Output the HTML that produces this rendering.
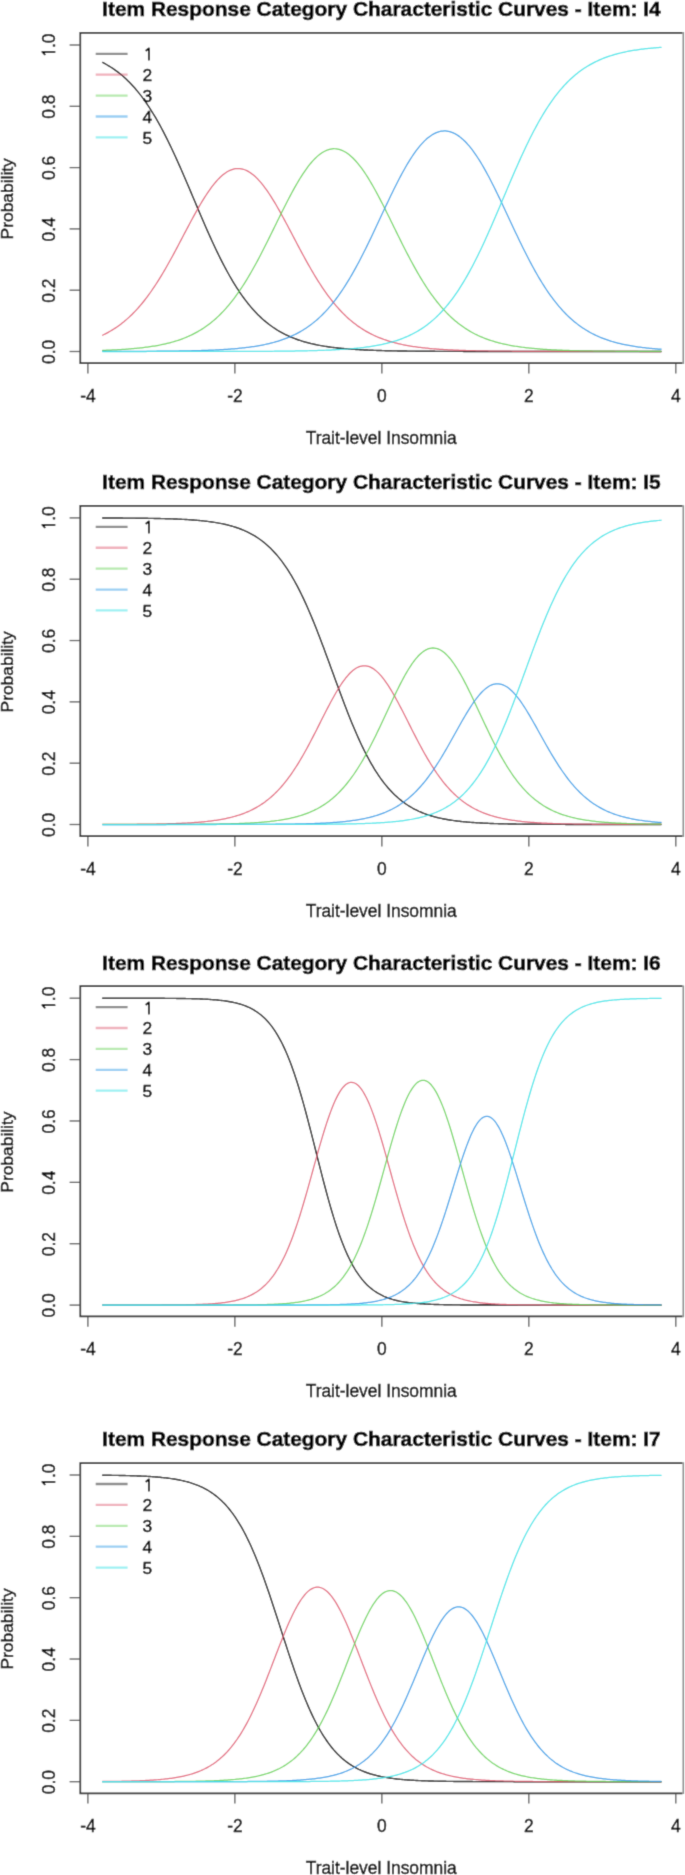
<!DOCTYPE html>
<html><head><meta charset="utf-8"><style>
html,body{margin:0;padding:0;background:#fff;}
body{width:685px;height:1875px;overflow:hidden;}
svg{display:block;}
text{font-family:"Liberation Sans",Arial,sans-serif;fill:#000;stroke:#000;stroke-width:0.4px;}
.tl{font-size:17.4px;}
.lt{stroke-width:0.45px;}
.one{font-family:NanumGothic,"Liberation Sans",sans-serif;font-size:16.2px;stroke-width:0.8px;}
.ti{font-size:20.9px;font-weight:bold;fill:#000;stroke:#000;stroke-width:0.6px;}
.cv{fill:none;stroke-width:1.25;stroke-linejoin:round;stroke-linecap:round;opacity:0.9}
.k{opacity:1;stroke-width:1.4}
.lg{stroke-width:2.3;opacity:0.45}
.ax{fill:none;stroke:#555;stroke-width:1.3;}
.bx{fill:none;stroke:#222;stroke-width:1.7;stroke-linejoin:miter}
.bxr{stroke:#888;stroke-width:1.6;}
</style></head><body>
<svg width="685" height="1875" viewBox="0 0 685 1875">
<defs><filter id="bl" x="0" y="0" width="1" height="1"><feConvolveMatrix order="3" kernelMatrix="0.01917 0.10012 0.01917 0.10012 0.52283 0.10012 0.01917 0.10012 0.01917" edgeMode="duplicate" preserveAlpha="false"/></filter></defs>
<g filter="url(#bl)">
<rect width="685" height="1875" fill="#fff"/>
<text transform="translate(381.4,16.20) scale(1,1.01)" class="ti" text-anchor="middle">Item Response Category Characteristic Curves - Item: I4</text>
<path d="M102.59,62.48 L103.99,63.21 L105.39,63.96 L106.79,64.75 L108.19,65.56 L109.59,66.40 L110.99,67.28 L112.39,68.19 L113.79,69.13 L115.19,70.11 L116.59,71.13 L117.99,72.18 L119.39,73.27 L120.79,74.40 L122.19,75.56 L123.59,76.77 L124.98,78.03 L126.38,79.32 L127.78,80.66 L129.18,82.04 L130.58,83.47 L131.98,84.95 L133.38,86.48 L134.78,88.05 L136.18,89.68 L137.58,91.35 L138.98,93.08 L140.38,94.85 L141.78,96.68 L143.18,98.57 L144.58,100.50 L145.98,102.50 L147.38,104.54 L148.78,106.64 L150.18,108.80 L151.58,111.01 L152.98,113.27 L154.38,115.59 L155.78,117.97 L157.18,120.40 L158.58,122.88 L159.98,125.42 L161.38,128.01 L162.78,130.65 L164.18,133.34 L165.58,136.08 L166.98,138.87 L168.38,141.71 L169.78,144.59 L171.18,147.52 L172.58,150.49 L173.98,153.50 L175.38,156.54 L176.78,159.63 L178.18,162.74 L179.58,165.89 L180.98,169.07 L182.38,172.27 L183.78,175.50 L185.18,178.75 L186.58,182.01 L187.98,185.30 L189.38,188.59 L190.78,191.89 L192.18,195.20 L193.58,198.51 L194.98,201.82 L196.38,205.13 L197.78,208.43 L199.17,211.72 L200.57,215.00 L201.97,218.26 L203.37,221.50 L204.77,224.73 L206.17,227.93 L207.57,231.10 L208.97,234.24 L210.37,237.36 L211.77,240.43 L213.17,243.48 L214.57,246.48 L215.97,249.44 L217.37,252.36 L218.77,255.24 L220.17,258.07 L221.57,260.85 L222.97,263.58 L224.37,266.27 L225.77,268.90 L227.17,271.48 L228.57,274.01 L229.97,276.48 L231.37,278.91 L232.77,281.27 L234.17,283.58 L235.57,285.84 L236.97,288.04 L238.37,290.19 L239.77,292.28 L241.17,294.32 L242.57,296.30 L243.97,298.23 L245.37,300.10 L246.77,301.93 L248.17,303.70 L249.57,305.41 L250.97,307.08 L252.37,308.70 L253.77,310.26 L255.17,311.78 L256.57,313.25 L257.97,314.67 L259.37,316.05 L260.77,317.38 L262.17,318.67 L263.57,319.92 L264.97,321.12 L266.37,322.28 L267.77,323.40 L269.17,324.49 L270.57,325.53 L271.96,326.54 L273.36,327.52 L274.76,328.45 L276.16,329.36 L277.56,330.23 L278.96,331.07 L280.36,331.88 L281.76,332.66 L283.16,333.41 L284.56,334.13 L285.96,334.82 L287.36,335.49 L288.76,336.13 L290.16,336.75 L291.56,337.35 L292.96,337.92 L294.36,338.47 L295.76,339.00 L297.16,339.51 L298.56,339.99 L299.96,340.46 L301.36,340.91 L302.76,341.35 L304.16,341.76 L305.56,342.16 L306.96,342.54 L308.36,342.91 L309.76,343.27 L311.16,343.61 L312.56,343.93 L313.96,344.24 L315.36,344.54 L316.76,344.83 L318.16,345.11 L319.56,345.37 L320.96,345.63 L322.36,345.87 L323.76,346.10 L325.16,346.33 L326.56,346.54 L327.96,346.75 L329.36,346.95 L330.76,347.14 L332.16,347.32 L333.56,347.49 L334.96,347.66 L336.36,347.82 L337.76,347.98 L339.16,348.12 L340.56,348.26 L341.96,348.40 L343.36,348.53 L344.76,348.65 L346.15,348.77 L347.55,348.89 L348.95,349.00 L350.35,349.10 L351.75,349.20 L353.15,349.30 L354.55,349.39 L355.95,349.48 L357.35,349.57 L358.75,349.65 L360.15,349.72 L361.55,349.80 L362.95,349.87 L364.35,349.94 L365.75,350.00 L367.15,350.07 L368.55,350.13 L369.95,350.19 L371.35,350.24 L372.75,350.29 L374.15,350.35 L375.55,350.39 L376.95,350.44 L378.35,350.49 L379.75,350.53 L381.15,350.57 L382.55,350.61 L383.95,350.65 L385.35,350.68 L386.75,350.72 L388.15,350.75 L389.55,350.78 L390.95,350.81 L392.35,350.84 L393.75,350.87 L395.15,350.89 L396.55,350.92 L397.95,350.94 L399.35,350.97 L400.75,350.99 L402.15,351.01 L403.55,351.03 L404.95,351.05 L406.35,351.07 L407.75,351.09 L409.15,351.11 L410.55,351.12 L411.95,351.14 L413.35,351.15 L414.75,351.17 L416.15,351.18 L417.55,351.20 L418.94,351.21 L420.34,351.22 L421.74,351.23 L423.14,351.24 L424.54,351.26 L425.94,351.27 L427.34,351.28 L428.74,351.29 L430.14,351.29 L431.54,351.30 L432.94,351.31 L434.34,351.32 L435.74,351.33 L437.14,351.33 L438.54,351.34 L439.94,351.35 L441.34,351.35 L442.74,351.36 L444.14,351.37 L445.54,351.37 L446.94,351.38 L448.34,351.38 L449.74,351.39 L451.14,351.39 L452.54,351.40 L453.94,351.40 L455.34,351.41 L456.74,351.41 L458.14,351.41 L459.54,351.42 L460.94,351.42 L462.34,351.42 L463.74,351.43 L465.14,351.43 L466.54,351.43 L467.94,351.44 L469.34,351.44 L470.74,351.44 L472.14,351.44 L473.54,351.45 L474.94,351.45 L476.34,351.45 L477.74,351.45 L479.14,351.45 L480.54,351.46 L481.94,351.46 L483.34,351.46 L484.74,351.46 L486.14,351.46 L487.54,351.46 L488.94,351.47 L490.34,351.47 L491.74,351.47 L493.13,351.47 L494.53,351.47 L495.93,351.47 L497.33,351.47 L498.73,351.48 L500.13,351.48 L501.53,351.48 L502.93,351.48 L504.33,351.48 L505.73,351.48 L507.13,351.48 L508.53,351.48 L509.93,351.48 L511.33,351.48 L512.73,351.48 L514.13,351.48 L515.53,351.49 L516.93,351.49 L518.33,351.49 L519.73,351.49 L521.13,351.49 L522.53,351.49 L523.93,351.49 L525.33,351.49 L526.73,351.49 L528.13,351.49 L529.53,351.49 L530.93,351.49 L532.33,351.49 L533.73,351.49 L535.13,351.49 L536.53,351.49 L537.93,351.49 L539.33,351.49 L540.73,351.49 L542.13,351.49 L543.53,351.49 L544.93,351.49 L546.33,351.49 L547.73,351.49 L549.13,351.49 L550.53,351.49 L551.93,351.50 L553.33,351.50 L554.73,351.50 L556.13,351.50 L557.53,351.50 L558.93,351.50 L560.33,351.50 L561.73,351.50 L563.13,351.50 L564.53,351.50 L565.92,351.50 L567.32,351.50 L568.72,351.50 L570.12,351.50 L571.52,351.50 L572.92,351.50 L574.32,351.50 L575.72,351.50 L577.12,351.50 L578.52,351.50 L579.92,351.50 L581.32,351.50 L582.72,351.50 L584.12,351.50 L585.52,351.50 L586.92,351.50 L588.32,351.50 L589.72,351.50 L591.12,351.50 L592.52,351.50 L593.92,351.50 L595.32,351.50 L596.72,351.50 L598.12,351.50 L599.52,351.50 L600.92,351.50 L602.32,351.50 L603.72,351.50 L605.12,351.50 L606.52,351.50 L607.92,351.50 L609.32,351.50 L610.72,351.50 L612.12,351.50 L613.52,351.50 L614.92,351.50 L616.32,351.50 L617.72,351.50 L619.12,351.50 L620.52,351.50 L621.92,351.50 L623.32,351.50 L624.72,351.50 L626.12,351.50 L627.52,351.50 L628.92,351.50 L630.32,351.50 L631.72,351.50 L633.12,351.50 L634.52,351.50 L635.92,351.50 L637.32,351.50 L638.72,351.50 L640.11,351.50 L641.51,351.50 L642.91,351.50 L644.31,351.50 L645.71,351.50 L647.11,351.50 L648.51,351.50 L649.91,351.50 L651.31,351.50 L652.71,351.50 L654.11,351.50 L655.51,351.50 L656.91,351.50 L658.31,351.50 L659.71,351.50 L661.11,351.50" stroke="#000000" class="cv k"/>
<path d="M102.59,335.19 L103.99,334.52 L105.39,333.82 L106.79,333.09 L108.19,332.34 L109.59,331.55 L110.99,330.74 L112.39,329.90 L113.79,329.03 L115.19,328.12 L116.59,327.18 L117.99,326.21 L119.39,325.20 L120.79,324.16 L122.19,323.08 L123.59,321.97 L124.98,320.81 L126.38,319.62 L127.78,318.39 L129.18,317.12 L130.58,315.80 L131.98,314.45 L133.38,313.05 L134.78,311.61 L136.18,310.12 L137.58,308.59 L138.98,307.01 L140.38,305.39 L141.78,303.73 L143.18,302.01 L144.58,300.25 L145.98,298.45 L147.38,296.59 L148.78,294.70 L150.18,292.75 L151.58,290.76 L152.98,288.72 L154.38,286.64 L155.78,284.51 L157.18,282.34 L158.58,280.13 L159.98,277.87 L161.38,275.58 L162.78,273.24 L164.18,270.87 L165.58,268.46 L166.98,266.01 L168.38,263.53 L169.78,261.03 L171.18,258.49 L172.58,255.93 L173.98,253.34 L175.38,250.73 L176.78,248.11 L178.18,245.47 L179.58,242.82 L180.98,240.16 L182.38,237.49 L183.78,234.82 L185.18,232.16 L186.58,229.49 L187.98,226.84 L189.38,224.20 L190.78,221.58 L192.18,218.98 L193.58,216.40 L194.98,213.86 L196.38,211.34 L197.78,208.86 L199.17,206.42 L200.57,204.03 L201.97,201.68 L203.37,199.39 L204.77,197.16 L206.17,194.98 L207.57,192.87 L208.97,190.83 L210.37,188.85 L211.77,186.96 L213.17,185.14 L214.57,183.40 L215.97,181.74 L217.37,180.17 L218.77,178.69 L220.17,177.31 L221.57,176.01 L222.97,174.82 L224.37,173.72 L225.77,172.73 L227.17,171.83 L228.57,171.04 L229.97,170.36 L231.37,169.79 L232.77,169.32 L234.17,168.96 L235.57,168.71 L236.97,168.56 L238.37,168.53 L239.77,168.61 L241.17,168.80 L242.57,169.10 L243.97,169.50 L245.37,170.02 L246.77,170.64 L248.17,171.37 L249.57,172.20 L250.97,173.14 L252.37,174.18 L253.77,175.32 L255.17,176.55 L256.57,177.89 L257.97,179.31 L259.37,180.83 L260.77,182.44 L262.17,184.13 L263.57,185.90 L264.97,187.76 L266.37,189.69 L267.77,191.69 L269.17,193.77 L270.57,195.90 L271.96,198.11 L273.36,200.37 L274.76,202.68 L276.16,205.05 L277.56,207.46 L278.96,209.92 L280.36,212.41 L281.76,214.94 L283.16,217.50 L284.56,220.09 L285.96,222.70 L287.36,225.33 L288.76,227.98 L290.16,230.63 L291.56,233.30 L292.96,235.96 L294.36,238.63 L295.76,241.29 L297.16,243.95 L298.56,246.60 L299.96,249.23 L301.36,251.85 L302.76,254.45 L304.16,257.03 L305.56,259.58 L306.96,262.10 L308.36,264.60 L309.76,267.06 L311.16,269.49 L312.56,271.89 L313.96,274.24 L315.36,276.56 L316.76,278.84 L318.16,281.08 L319.56,283.28 L320.96,285.43 L322.36,287.54 L323.76,289.60 L325.16,291.62 L326.56,293.59 L327.96,295.51 L329.36,297.39 L330.76,299.22 L332.16,301.01 L333.56,302.75 L334.96,304.44 L336.36,306.09 L337.76,307.69 L339.16,309.25 L340.56,310.76 L341.96,312.23 L343.36,313.65 L344.76,315.03 L346.15,316.37 L347.55,317.67 L348.95,318.92 L350.35,320.14 L351.75,321.31 L353.15,322.45 L354.55,323.55 L355.95,324.61 L357.35,325.64 L358.75,326.63 L360.15,327.59 L361.55,328.51 L362.95,329.40 L364.35,330.26 L365.75,331.09 L367.15,331.89 L368.55,332.66 L369.95,333.41 L371.35,334.12 L372.75,334.81 L374.15,335.47 L375.55,336.11 L376.95,336.73 L378.35,337.32 L379.75,337.89 L381.15,338.44 L382.55,338.96 L383.95,339.47 L385.35,339.96 L386.75,340.42 L388.15,340.87 L389.55,341.31 L390.95,341.72 L392.35,342.12 L393.75,342.50 L395.15,342.87 L396.55,343.23 L397.95,343.57 L399.35,343.89 L400.75,344.20 L402.15,344.51 L403.55,344.79 L404.95,345.07 L406.35,345.34 L407.75,345.59 L409.15,345.84 L410.55,346.07 L411.95,346.30 L413.35,346.51 L414.75,346.72 L416.15,346.92 L417.55,347.11 L418.94,347.29 L420.34,347.47 L421.74,347.63 L423.14,347.80 L424.54,347.95 L425.94,348.10 L427.34,348.24 L428.74,348.38 L430.14,348.51 L431.54,348.63 L432.94,348.75 L434.34,348.87 L435.74,348.98 L437.14,349.08 L438.54,349.19 L439.94,349.28 L441.34,349.38 L442.74,349.46 L444.14,349.55 L445.54,349.63 L446.94,349.71 L448.34,349.79 L449.74,349.86 L451.14,349.93 L452.54,349.99 L453.94,350.06 L455.34,350.12 L456.74,350.18 L458.14,350.23 L459.54,350.28 L460.94,350.34 L462.34,350.38 L463.74,350.43 L465.14,350.48 L466.54,350.52 L467.94,350.56 L469.34,350.60 L470.74,350.64 L472.14,350.67 L473.54,350.71 L474.94,350.74 L476.34,350.77 L477.74,350.81 L479.14,350.83 L480.54,350.86 L481.94,350.89 L483.34,350.92 L484.74,350.94 L486.14,350.96 L487.54,350.99 L488.94,351.01 L490.34,351.03 L491.74,351.05 L493.13,351.07 L494.53,351.09 L495.93,351.10 L497.33,351.12 L498.73,351.14 L500.13,351.15 L501.53,351.17 L502.93,351.18 L504.33,351.19 L505.73,351.21 L507.13,351.22 L508.53,351.23 L509.93,351.24 L511.33,351.25 L512.73,351.26 L514.13,351.27 L515.53,351.28 L516.93,351.29 L518.33,351.30 L519.73,351.31 L521.13,351.32 L522.53,351.33 L523.93,351.33 L525.33,351.34 L526.73,351.35 L528.13,351.35 L529.53,351.36 L530.93,351.37 L532.33,351.37 L533.73,351.38 L535.13,351.38 L536.53,351.39 L537.93,351.39 L539.33,351.40 L540.73,351.40 L542.13,351.40 L543.53,351.41 L544.93,351.41 L546.33,351.42 L547.73,351.42 L549.13,351.42 L550.53,351.43 L551.93,351.43 L553.33,351.43 L554.73,351.44 L556.13,351.44 L557.53,351.44 L558.93,351.44 L560.33,351.45 L561.73,351.45 L563.13,351.45 L564.53,351.45 L565.92,351.45 L567.32,351.46 L568.72,351.46 L570.12,351.46 L571.52,351.46 L572.92,351.46 L574.32,351.46 L575.72,351.47 L577.12,351.47 L578.52,351.47 L579.92,351.47 L581.32,351.47 L582.72,351.47 L584.12,351.47 L585.52,351.48 L586.92,351.48 L588.32,351.48 L589.72,351.48 L591.12,351.48 L592.52,351.48 L593.92,351.48 L595.32,351.48 L596.72,351.48 L598.12,351.48 L599.52,351.48 L600.92,351.48 L602.32,351.49 L603.72,351.49 L605.12,351.49 L606.52,351.49 L607.92,351.49 L609.32,351.49 L610.72,351.49 L612.12,351.49 L613.52,351.49 L614.92,351.49 L616.32,351.49 L617.72,351.49 L619.12,351.49 L620.52,351.49 L621.92,351.49 L623.32,351.49 L624.72,351.49 L626.12,351.49 L627.52,351.49 L628.92,351.49 L630.32,351.49 L631.72,351.49 L633.12,351.49 L634.52,351.49 L635.92,351.49 L637.32,351.49 L638.72,351.50 L640.11,351.50 L641.51,351.50 L642.91,351.50 L644.31,351.50 L645.71,351.50 L647.11,351.50 L648.51,351.50 L649.91,351.50 L651.31,351.50 L652.71,351.50 L654.11,351.50 L655.51,351.50 L656.91,351.50 L658.31,351.50 L659.71,351.50 L661.11,351.50" stroke="#DF536B" class="cv"/>
<path d="M102.59,350.37 L103.99,350.32 L105.39,350.27 L106.79,350.22 L108.19,350.16 L109.59,350.10 L110.99,350.04 L112.39,349.98 L113.79,349.91 L115.19,349.84 L116.59,349.77 L117.99,349.69 L119.39,349.61 L120.79,349.53 L122.19,349.44 L123.59,349.35 L124.98,349.26 L126.38,349.16 L127.78,349.06 L129.18,348.95 L130.58,348.84 L131.98,348.72 L133.38,348.60 L134.78,348.47 L136.18,348.34 L137.58,348.21 L138.98,348.06 L140.38,347.91 L141.78,347.76 L143.18,347.59 L144.58,347.42 L145.98,347.24 L147.38,347.06 L148.78,346.87 L150.18,346.67 L151.58,346.46 L152.98,346.24 L154.38,346.01 L155.78,345.77 L157.18,345.52 L158.58,345.27 L159.98,345.00 L161.38,344.72 L162.78,344.43 L164.18,344.12 L165.58,343.80 L166.98,343.47 L168.38,343.13 L169.78,342.77 L171.18,342.40 L172.58,342.01 L173.98,341.61 L175.38,341.19 L176.78,340.75 L178.18,340.29 L179.58,339.82 L180.98,339.32 L182.38,338.81 L183.78,338.28 L185.18,337.72 L186.58,337.14 L187.98,336.54 L189.38,335.92 L190.78,335.27 L192.18,334.60 L193.58,333.90 L194.98,333.17 L196.38,332.42 L197.78,331.64 L199.17,330.82 L200.57,329.98 L201.97,329.11 L203.37,328.20 L204.77,327.26 L206.17,326.29 L207.57,325.28 L208.97,324.23 L210.37,323.15 L211.77,322.03 L213.17,320.87 L214.57,319.67 L215.97,318.43 L217.37,317.15 L218.77,315.83 L220.17,314.46 L221.57,313.05 L222.97,311.60 L224.37,310.10 L225.77,308.55 L227.17,306.96 L228.57,305.32 L229.97,303.63 L231.37,301.90 L232.77,300.11 L234.17,298.28 L235.57,296.40 L236.97,294.46 L238.37,292.48 L239.77,290.45 L241.17,288.37 L242.57,286.25 L243.97,284.07 L245.37,281.84 L246.77,279.57 L248.17,277.26 L249.57,274.89 L250.97,272.49 L252.37,270.03 L253.77,267.54 L255.17,265.01 L256.57,262.44 L257.97,259.83 L259.37,257.19 L260.77,254.51 L262.17,251.80 L263.57,249.07 L264.97,246.31 L266.37,243.53 L267.77,240.72 L269.17,237.90 L270.57,235.07 L271.96,232.22 L273.36,229.37 L274.76,226.51 L276.16,223.65 L277.56,220.80 L278.96,217.95 L280.36,215.11 L281.76,212.29 L283.16,209.48 L284.56,206.69 L285.96,203.93 L287.36,201.20 L288.76,198.50 L290.16,195.84 L291.56,193.22 L292.96,190.65 L294.36,188.12 L295.76,185.64 L297.16,183.22 L298.56,180.85 L299.96,178.55 L301.36,176.32 L302.76,174.15 L304.16,172.06 L305.56,170.04 L306.96,168.09 L308.36,166.23 L309.76,164.45 L311.16,162.75 L312.56,161.15 L313.96,159.63 L315.36,158.21 L316.76,156.88 L318.16,155.64 L319.56,154.50 L320.96,153.46 L322.36,152.52 L323.76,151.69 L325.16,150.95 L326.56,150.32 L327.96,149.79 L329.36,149.37 L330.76,149.06 L332.16,148.85 L333.56,148.74 L334.96,148.75 L336.36,148.85 L337.76,149.07 L339.16,149.39 L340.56,149.82 L341.96,150.35 L343.36,150.99 L344.76,151.73 L346.15,152.57 L347.55,153.51 L348.95,154.56 L350.35,155.70 L351.75,156.94 L353.15,158.28 L354.55,159.71 L355.95,161.23 L357.35,162.84 L358.75,164.54 L360.15,166.32 L361.55,168.19 L362.95,170.14 L364.35,172.16 L365.75,174.26 L367.15,176.43 L368.55,178.67 L369.95,180.97 L371.35,183.34 L372.75,185.76 L374.15,188.24 L375.55,190.77 L376.95,193.35 L378.35,195.98 L379.75,198.64 L381.15,201.34 L382.55,204.07 L383.95,206.83 L385.35,209.62 L386.75,212.43 L388.15,215.26 L389.55,218.09 L390.95,220.94 L392.35,223.80 L393.75,226.66 L395.15,229.51 L396.55,232.37 L397.95,235.21 L399.35,238.05 L400.75,240.87 L402.15,243.67 L403.55,246.45 L404.95,249.21 L406.35,251.94 L407.75,254.65 L409.15,257.32 L410.55,259.96 L411.95,262.57 L413.35,265.14 L414.75,267.67 L416.15,270.16 L417.55,272.61 L418.94,275.01 L420.34,277.37 L421.74,279.69 L423.14,281.96 L424.54,284.18 L425.94,286.35 L427.34,288.48 L428.74,290.56 L430.14,292.58 L431.54,294.56 L432.94,296.49 L434.34,298.37 L435.74,300.20 L437.14,301.99 L438.54,303.72 L439.94,305.40 L441.34,307.04 L442.74,308.63 L444.14,310.18 L445.54,311.67 L446.94,313.13 L448.34,314.53 L449.74,315.90 L451.14,317.22 L452.54,318.50 L453.94,319.73 L455.34,320.93 L456.74,322.09 L458.14,323.20 L459.54,324.29 L460.94,325.33 L462.34,326.34 L463.74,327.31 L465.14,328.25 L466.54,329.15 L467.94,330.02 L469.34,330.87 L470.74,331.68 L472.14,332.46 L473.54,333.21 L474.94,333.94 L476.34,334.63 L477.74,335.31 L479.14,335.95 L480.54,336.58 L481.94,337.17 L483.34,337.75 L484.74,338.30 L486.14,338.84 L487.54,339.35 L488.94,339.84 L490.34,340.32 L491.74,340.77 L493.13,341.21 L494.53,341.63 L495.93,342.03 L497.33,342.42 L498.73,342.79 L500.13,343.15 L501.53,343.49 L502.93,343.82 L504.33,344.14 L505.73,344.44 L507.13,344.73 L508.53,345.01 L509.93,345.28 L511.33,345.54 L512.73,345.78 L514.13,346.02 L515.53,346.25 L516.93,346.47 L518.33,346.68 L519.73,346.88 L521.13,347.07 L522.53,347.25 L523.93,347.43 L525.33,347.60 L526.73,347.76 L528.13,347.92 L529.53,348.07 L530.93,348.21 L532.33,348.35 L533.73,348.48 L535.13,348.61 L536.53,348.73 L537.93,348.84 L539.33,348.96 L540.73,349.06 L542.13,349.17 L543.53,349.26 L544.93,349.36 L546.33,349.45 L547.73,349.53 L549.13,349.62 L550.53,349.69 L551.93,349.77 L553.33,349.84 L554.73,349.91 L556.13,349.98 L557.53,350.04 L558.93,350.11 L560.33,350.16 L561.73,350.22 L563.13,350.27 L564.53,350.33 L565.92,350.38 L567.32,350.42 L568.72,350.47 L570.12,350.51 L571.52,350.55 L572.92,350.59 L574.32,350.63 L575.72,350.67 L577.12,350.70 L578.52,350.74 L579.92,350.77 L581.32,350.80 L582.72,350.83 L584.12,350.86 L585.52,350.88 L586.92,350.91 L588.32,350.94 L589.72,350.96 L591.12,350.98 L592.52,351.00 L593.92,351.02 L595.32,351.04 L596.72,351.06 L598.12,351.08 L599.52,351.10 L600.92,351.12 L602.32,351.13 L603.72,351.15 L605.12,351.16 L606.52,351.18 L607.92,351.19 L609.32,351.20 L610.72,351.22 L612.12,351.23 L613.52,351.24 L614.92,351.25 L616.32,351.26 L617.72,351.27 L619.12,351.28 L620.52,351.29 L621.92,351.30 L623.32,351.31 L624.72,351.32 L626.12,351.32 L627.52,351.33 L628.92,351.34 L630.32,351.35 L631.72,351.35 L633.12,351.36 L634.52,351.36 L635.92,351.37 L637.32,351.38 L638.72,351.38 L640.11,351.39 L641.51,351.39 L642.91,351.40 L644.31,351.40 L645.71,351.40 L647.11,351.41 L648.51,351.41 L649.91,351.42 L651.31,351.42 L652.71,351.42 L654.11,351.43 L655.51,351.43 L656.91,351.43 L658.31,351.43 L659.71,351.44 L661.11,351.44" stroke="#61D04F" class="cv"/>
<path d="M102.59,351.45 L103.99,351.45 L105.39,351.45 L106.79,351.45 L108.19,351.44 L109.59,351.44 L110.99,351.44 L112.39,351.44 L113.79,351.43 L115.19,351.43 L116.59,351.43 L117.99,351.42 L119.39,351.42 L120.79,351.42 L122.19,351.41 L123.59,351.41 L124.98,351.40 L126.38,351.40 L127.78,351.40 L129.18,351.39 L130.58,351.39 L131.98,351.38 L133.38,351.38 L134.78,351.37 L136.18,351.37 L137.58,351.36 L138.98,351.35 L140.38,351.35 L141.78,351.34 L143.18,351.33 L144.58,351.33 L145.98,351.32 L147.38,351.31 L148.78,351.30 L150.18,351.29 L151.58,351.28 L152.98,351.27 L154.38,351.26 L155.78,351.25 L157.18,351.24 L158.58,351.23 L159.98,351.22 L161.38,351.21 L162.78,351.19 L164.18,351.18 L165.58,351.17 L166.98,351.15 L168.38,351.14 L169.78,351.12 L171.18,351.10 L172.58,351.09 L173.98,351.07 L175.38,351.05 L176.78,351.03 L178.18,351.01 L179.58,350.99 L180.98,350.96 L182.38,350.94 L183.78,350.92 L185.18,350.89 L186.58,350.86 L187.98,350.84 L189.38,350.81 L190.78,350.78 L192.18,350.74 L193.58,350.71 L194.98,350.68 L196.38,350.64 L197.78,350.60 L199.17,350.56 L200.57,350.52 L201.97,350.48 L203.37,350.43 L204.77,350.39 L206.17,350.34 L207.57,350.29 L208.97,350.23 L210.37,350.18 L211.77,350.12 L213.17,350.06 L214.57,350.00 L215.97,349.93 L217.37,349.86 L218.77,349.79 L220.17,349.71 L221.57,349.63 L222.97,349.55 L224.37,349.47 L225.77,349.38 L227.17,349.29 L228.57,349.19 L229.97,349.09 L231.37,348.98 L232.77,348.87 L234.17,348.76 L235.57,348.64 L236.97,348.51 L238.37,348.38 L239.77,348.24 L241.17,348.10 L242.57,347.95 L243.97,347.80 L245.37,347.64 L246.77,347.47 L248.17,347.30 L249.57,347.11 L250.97,346.92 L252.37,346.72 L253.77,346.52 L255.17,346.30 L256.57,346.07 L257.97,345.84 L259.37,345.59 L260.77,345.34 L262.17,345.07 L263.57,344.80 L264.97,344.51 L266.37,344.21 L267.77,343.89 L269.17,343.57 L270.57,343.23 L271.96,342.87 L273.36,342.50 L274.76,342.12 L276.16,341.72 L277.56,341.30 L278.96,340.87 L280.36,340.41 L281.76,339.94 L283.16,339.45 L284.56,338.95 L285.96,338.42 L287.36,337.87 L288.76,337.29 L290.16,336.70 L291.56,336.08 L292.96,335.44 L294.36,334.77 L295.76,334.07 L297.16,333.35 L298.56,332.60 L299.96,331.83 L301.36,331.02 L302.76,330.18 L304.16,329.31 L305.56,328.41 L306.96,327.47 L308.36,326.51 L309.76,325.50 L311.16,324.46 L312.56,323.38 L313.96,322.27 L315.36,321.11 L316.76,319.92 L318.16,318.68 L319.56,317.40 L320.96,316.08 L322.36,314.72 L323.76,313.31 L325.16,311.85 L326.56,310.35 L327.96,308.80 L329.36,307.21 L330.76,305.57 L332.16,303.87 L333.56,302.13 L334.96,300.34 L336.36,298.50 L337.76,296.60 L339.16,294.66 L340.56,292.66 L341.96,290.62 L343.36,288.52 L344.76,286.37 L346.15,284.17 L347.55,281.92 L348.95,279.62 L350.35,277.27 L351.75,274.87 L353.15,272.43 L354.55,269.93 L355.95,267.39 L357.35,264.81 L358.75,262.19 L360.15,259.52 L361.55,256.81 L362.95,254.07 L364.35,251.29 L365.75,248.48 L367.15,245.63 L368.55,242.76 L369.95,239.86 L371.35,236.93 L372.75,233.99 L374.15,231.03 L375.55,228.05 L376.95,225.06 L378.35,222.07 L379.75,219.07 L381.15,216.06 L382.55,213.06 L383.95,210.07 L385.35,207.08 L386.75,204.11 L388.15,201.15 L389.55,198.21 L390.95,195.30 L392.35,192.41 L393.75,189.55 L395.15,186.73 L396.55,183.95 L397.95,181.21 L399.35,178.51 L400.75,175.86 L402.15,173.26 L403.55,170.71 L404.95,168.23 L406.35,165.80 L407.75,163.44 L409.15,161.14 L410.55,158.91 L411.95,156.75 L413.35,154.67 L414.75,152.66 L416.15,150.73 L417.55,148.89 L418.94,147.12 L420.34,145.44 L421.74,143.84 L423.14,142.33 L424.54,140.91 L425.94,139.58 L427.34,138.34 L428.74,137.20 L430.14,136.15 L431.54,135.19 L432.94,134.33 L434.34,133.56 L435.74,132.90 L437.14,132.33 L438.54,131.85 L439.94,131.48 L441.34,131.21 L442.74,131.03 L444.14,130.95 L445.54,130.98 L446.94,131.10 L448.34,131.32 L449.74,131.64 L451.14,132.06 L452.54,132.58 L453.94,133.19 L455.34,133.90 L456.74,134.71 L458.14,135.62 L459.54,136.62 L460.94,137.71 L462.34,138.90 L463.74,140.18 L465.14,141.55 L466.54,143.02 L467.94,144.57 L469.34,146.20 L470.74,147.92 L472.14,149.73 L473.54,151.61 L474.94,153.58 L476.34,155.62 L477.74,157.74 L479.14,159.93 L480.54,162.19 L481.94,164.52 L483.34,166.91 L484.74,169.36 L486.14,171.88 L487.54,174.45 L488.94,177.07 L490.34,179.74 L491.74,182.46 L493.13,185.23 L494.53,188.03 L495.93,190.87 L497.33,193.74 L498.73,196.64 L500.13,199.56 L501.53,202.51 L502.93,205.48 L504.33,208.46 L505.73,211.45 L507.13,214.45 L508.53,217.45 L509.93,220.45 L511.33,223.45 L512.73,226.44 L514.13,229.43 L515.53,232.40 L516.93,235.35 L518.33,238.28 L519.73,241.20 L521.13,244.08 L522.53,246.95 L523.93,249.78 L525.33,252.57 L526.73,255.34 L528.13,258.06 L529.53,260.75 L530.93,263.40 L532.33,266.01 L533.73,268.57 L535.13,271.09 L536.53,273.56 L537.93,275.98 L539.33,278.36 L540.73,280.69 L542.13,282.96 L543.53,285.19 L544.93,287.37 L546.33,289.49 L547.73,291.57 L549.13,293.59 L550.53,295.56 L551.93,297.48 L553.33,299.35 L554.73,301.17 L556.13,302.94 L557.53,304.66 L558.93,306.33 L560.33,307.95 L561.73,309.52 L563.13,311.05 L564.53,312.53 L565.92,313.96 L567.32,315.35 L568.72,316.70 L570.12,318.00 L571.52,319.26 L572.92,320.47 L574.32,321.65 L575.72,322.79 L577.12,323.88 L578.52,324.94 L579.92,325.97 L581.32,326.96 L582.72,327.91 L584.12,328.83 L585.52,329.72 L586.92,330.57 L588.32,331.39 L589.72,332.19 L591.12,332.95 L592.52,333.69 L593.92,334.40 L595.32,335.08 L596.72,335.74 L598.12,336.37 L599.52,336.98 L600.92,337.56 L602.32,338.12 L603.72,338.66 L605.12,339.18 L606.52,339.68 L607.92,340.16 L609.32,340.62 L610.72,341.07 L612.12,341.49 L613.52,341.90 L614.92,342.30 L616.32,342.67 L617.72,343.04 L619.12,343.38 L620.52,343.72 L621.92,344.04 L623.32,344.35 L624.72,344.64 L626.12,344.92 L627.52,345.20 L628.92,345.46 L630.32,345.71 L631.72,345.95 L633.12,346.18 L634.52,346.40 L635.92,346.61 L637.32,346.82 L638.72,347.01 L640.11,347.20 L641.51,347.38 L642.91,347.55 L644.31,347.71 L645.71,347.87 L647.11,348.02 L648.51,348.17 L649.91,348.31 L651.31,348.44 L652.71,348.57 L654.11,348.69 L655.51,348.81 L656.91,348.92 L658.31,349.03 L659.71,349.13 L661.11,349.23" stroke="#2297E6" class="cv"/>
<path d="M102.59,351.50 L103.99,351.50 L105.39,351.50 L106.79,351.50 L108.19,351.50 L109.59,351.50 L110.99,351.50 L112.39,351.50 L113.79,351.50 L115.19,351.50 L116.59,351.50 L117.99,351.50 L119.39,351.50 L120.79,351.50 L122.19,351.50 L123.59,351.50 L124.98,351.50 L126.38,351.50 L127.78,351.50 L129.18,351.50 L130.58,351.50 L131.98,351.50 L133.38,351.50 L134.78,351.50 L136.18,351.50 L137.58,351.50 L138.98,351.50 L140.38,351.50 L141.78,351.50 L143.18,351.50 L144.58,351.50 L145.98,351.50 L147.38,351.49 L148.78,351.49 L150.18,351.49 L151.58,351.49 L152.98,351.49 L154.38,351.49 L155.78,351.49 L157.18,351.49 L158.58,351.49 L159.98,351.49 L161.38,351.49 L162.78,351.49 L164.18,351.49 L165.58,351.49 L166.98,351.49 L168.38,351.49 L169.78,351.49 L171.18,351.49 L172.58,351.49 L173.98,351.49 L175.38,351.49 L176.78,351.49 L178.18,351.49 L179.58,351.49 L180.98,351.49 L182.38,351.48 L183.78,351.48 L185.18,351.48 L186.58,351.48 L187.98,351.48 L189.38,351.48 L190.78,351.48 L192.18,351.48 L193.58,351.48 L194.98,351.48 L196.38,351.48 L197.78,351.48 L199.17,351.47 L200.57,351.47 L201.97,351.47 L203.37,351.47 L204.77,351.47 L206.17,351.47 L207.57,351.47 L208.97,351.47 L210.37,351.46 L211.77,351.46 L213.17,351.46 L214.57,351.46 L215.97,351.46 L217.37,351.45 L218.77,351.45 L220.17,351.45 L221.57,351.45 L222.97,351.45 L224.37,351.44 L225.77,351.44 L227.17,351.44 L228.57,351.44 L229.97,351.43 L231.37,351.43 L232.77,351.43 L234.17,351.42 L235.57,351.42 L236.97,351.42 L238.37,351.41 L239.77,351.41 L241.17,351.41 L242.57,351.40 L243.97,351.40 L245.37,351.39 L246.77,351.39 L248.17,351.38 L249.57,351.38 L250.97,351.37 L252.37,351.37 L253.77,351.36 L255.17,351.36 L256.57,351.35 L257.97,351.34 L259.37,351.34 L260.77,351.33 L262.17,351.32 L263.57,351.31 L264.97,351.30 L266.37,351.30 L267.77,351.29 L269.17,351.28 L270.57,351.27 L271.96,351.26 L273.36,351.25 L274.76,351.24 L276.16,351.22 L277.56,351.21 L278.96,351.20 L280.36,351.19 L281.76,351.17 L283.16,351.16 L284.56,351.14 L285.96,351.13 L287.36,351.11 L288.76,351.09 L290.16,351.07 L291.56,351.06 L292.96,351.04 L294.36,351.02 L295.76,350.99 L297.16,350.97 L298.56,350.95 L299.96,350.92 L301.36,350.90 L302.76,350.87 L304.16,350.84 L305.56,350.82 L306.96,350.79 L308.36,350.75 L309.76,350.72 L311.16,350.69 L312.56,350.65 L313.96,350.61 L315.36,350.58 L316.76,350.53 L318.16,350.49 L319.56,350.45 L320.96,350.40 L322.36,350.35 L323.76,350.30 L325.16,350.25 L326.56,350.20 L327.96,350.14 L329.36,350.08 L330.76,350.02 L332.16,349.95 L333.56,349.88 L334.96,349.81 L336.36,349.74 L337.76,349.66 L339.16,349.58 L340.56,349.49 L341.96,349.41 L343.36,349.31 L344.76,349.22 L346.15,349.12 L347.55,349.01 L348.95,348.91 L350.35,348.79 L351.75,348.67 L353.15,348.55 L354.55,348.42 L355.95,348.29 L357.35,348.15 L358.75,348.00 L360.15,347.85 L361.55,347.69 L362.95,347.52 L364.35,347.35 L365.75,347.17 L367.15,346.98 L368.55,346.78 L369.95,346.58 L371.35,346.36 L372.75,346.14 L374.15,345.91 L375.55,345.67 L376.95,345.41 L378.35,345.15 L379.75,344.88 L381.15,344.59 L382.55,344.29 L383.95,343.98 L385.35,343.66 L386.75,343.32 L388.15,342.97 L389.55,342.61 L390.95,342.22 L392.35,341.83 L393.75,341.42 L395.15,340.99 L396.55,340.54 L397.95,340.07 L399.35,339.59 L400.75,339.08 L402.15,338.56 L403.55,338.01 L404.95,337.44 L406.35,336.85 L407.75,336.24 L409.15,335.60 L410.55,334.93 L411.95,334.24 L413.35,333.52 L414.75,332.78 L416.15,332.01 L417.55,331.20 L418.94,330.37 L420.34,329.50 L421.74,328.60 L423.14,327.67 L424.54,326.70 L425.94,325.70 L427.34,324.66 L428.74,323.58 L430.14,322.47 L431.54,321.31 L432.94,320.11 L434.34,318.88 L435.74,317.60 L437.14,316.27 L438.54,314.90 L439.94,313.48 L441.34,312.02 L442.74,310.51 L444.14,308.95 L445.54,307.35 L446.94,305.69 L448.34,303.98 L449.74,302.22 L451.14,300.40 L452.54,298.54 L453.94,296.62 L455.34,294.64 L456.74,292.62 L458.14,290.53 L459.54,288.39 L460.94,286.20 L462.34,283.95 L463.74,281.65 L465.14,279.29 L466.54,276.88 L467.94,274.41 L469.34,271.89 L470.74,269.32 L472.14,266.70 L473.54,264.02 L474.94,261.30 L476.34,258.52 L477.74,255.70 L479.14,252.83 L480.54,249.92 L481.94,246.96 L483.34,243.96 L484.74,240.93 L486.14,237.86 L487.54,234.75 L488.94,231.61 L490.34,228.44 L491.74,225.25 L493.13,222.03 L494.53,218.79 L495.93,215.53 L497.33,212.25 L498.73,208.96 L500.13,205.66 L501.53,202.35 L502.93,199.04 L504.33,195.73 L505.73,192.43 L507.13,189.12 L508.53,185.83 L509.93,182.55 L511.33,179.28 L512.73,176.03 L514.13,172.80 L515.53,169.59 L516.93,166.41 L518.33,163.25 L519.73,160.13 L521.13,157.04 L522.53,153.99 L523.93,150.97 L525.33,148.00 L526.73,145.06 L528.13,142.17 L529.53,139.33 L530.93,136.53 L532.33,133.78 L533.73,131.08 L535.13,128.43 L536.53,125.83 L537.93,123.29 L539.33,120.80 L540.73,118.36 L542.13,115.97 L543.53,113.65 L544.93,111.37 L546.33,109.15 L547.73,106.99 L549.13,104.88 L550.53,102.82 L551.93,100.82 L553.33,98.88 L554.73,96.99 L556.13,95.15 L557.53,93.36 L558.93,91.63 L560.33,89.94 L561.73,88.31 L563.13,86.73 L564.53,85.20 L565.92,83.71 L567.32,82.27 L568.72,80.88 L570.12,79.54 L571.52,78.23 L572.92,76.97 L574.32,75.76 L575.72,74.58 L577.12,73.45 L578.52,72.35 L579.92,71.29 L581.32,70.27 L582.72,69.29 L584.12,68.34 L585.52,67.43 L586.92,66.54 L588.32,65.69 L589.72,64.88 L591.12,64.09 L592.52,63.33 L593.92,62.60 L595.32,61.90 L596.72,61.22 L598.12,60.57 L599.52,59.94 L600.92,59.34 L602.32,58.76 L603.72,58.20 L605.12,57.67 L606.52,57.15 L607.92,56.66 L609.32,56.18 L610.72,55.73 L612.12,55.29 L613.52,54.87 L614.92,54.46 L616.32,54.08 L617.72,53.70 L619.12,53.34 L620.52,53.00 L621.92,52.67 L623.32,52.35 L624.72,52.05 L626.12,51.76 L627.52,51.48 L628.92,51.21 L630.32,50.95 L631.72,50.71 L633.12,50.47 L634.52,50.24 L635.92,50.02 L637.32,49.81 L638.72,49.61 L640.11,49.42 L641.51,49.24 L642.91,49.06 L644.31,48.89 L645.71,48.73 L647.11,48.57 L648.51,48.42 L649.91,48.28 L651.31,48.14 L652.71,48.01 L654.11,47.88 L655.51,47.76 L656.91,47.65 L658.31,47.54 L659.71,47.43 L661.11,47.33" stroke="#28E2E5" class="cv"/>
<path d="M682.50,32.90 H80.30 V363.10 H682.50" class="bx"/>
<line x1="683.30" x2="683.30" y1="32.10" y2="363.90" class="bxr"/>
<line x1="69.6" x2="80.3" y1="351.50" y2="351.50" class="ax"/>
<text transform="translate(54.9,351.90) rotate(-90) scale(1,1.08)" text-anchor="middle" class="tl">0.0</text>
<line x1="69.6" x2="80.3" y1="290.20" y2="290.20" class="ax"/>
<text transform="translate(54.9,290.60) rotate(-90) scale(1,1.08)" text-anchor="middle" class="tl">0.2</text>
<line x1="69.6" x2="80.3" y1="228.90" y2="228.90" class="ax"/>
<text transform="translate(54.9,229.30) rotate(-90) scale(1,1.08)" text-anchor="middle" class="tl">0.4</text>
<line x1="69.6" x2="80.3" y1="167.60" y2="167.60" class="ax"/>
<text transform="translate(54.9,168.00) rotate(-90) scale(1,1.08)" text-anchor="middle" class="tl">0.6</text>
<line x1="69.6" x2="80.3" y1="106.30" y2="106.30" class="ax"/>
<text transform="translate(54.9,106.70) rotate(-90) scale(1,1.08)" text-anchor="middle" class="tl">0.8</text>
<line x1="69.6" x2="80.3" y1="45.00" y2="45.00" class="ax"/>
<text transform="translate(54.9,45.40) rotate(-90) scale(1,1.08)" text-anchor="middle" class="tl"><tspan class="one">1</tspan><tspan dx="-0.45">.</tspan>0</text>
<line x1="87.89" x2="87.89" y1="363.10" y2="373.40" class="ax"/>
<text transform="translate(87.89,401.50) scale(1,1.02)" text-anchor="middle" class="tl">-4</text>
<line x1="234.87" x2="234.87" y1="363.10" y2="373.40" class="ax"/>
<text transform="translate(234.87,401.50) scale(1,1.02)" text-anchor="middle" class="tl">-2</text>
<line x1="381.85" x2="381.85" y1="363.10" y2="373.40" class="ax"/>
<text transform="translate(381.85,401.50) scale(1,1.02)" text-anchor="middle" class="tl">0</text>
<line x1="528.83" x2="528.83" y1="363.10" y2="373.40" class="ax"/>
<text transform="translate(528.83,401.50) scale(1,1.02)" text-anchor="middle" class="tl">2</text>
<line x1="675.81" x2="675.81" y1="363.10" y2="373.40" class="ax"/>
<text transform="translate(675.81,401.50) scale(1,1.02)" text-anchor="middle" class="tl">4</text>
<text transform="translate(381.2,443.70) scale(1,1.02)" text-anchor="middle" class="tl">Trait-level Insomnia</text>
<text transform="translate(13.1,198.80) rotate(-90)" text-anchor="middle" class="tl">Probability</text>
<line x1="95.7" x2="127.6" y1="53.80" y2="53.80" stroke="#000000" class="lg"/>
<text transform="translate(142.5,60.00)" class="tl lt"><tspan class="one" dx="1.1" dy="0.4">1</tspan></text>
<line x1="95.7" x2="127.6" y1="74.70" y2="74.70" stroke="#DF536B" class="lg"/>
<text transform="translate(142.5,80.90)" class="tl lt">2</text>
<line x1="95.7" x2="127.6" y1="95.60" y2="95.60" stroke="#61D04F" class="lg"/>
<text transform="translate(142.5,101.80)" class="tl lt">3</text>
<line x1="95.7" x2="127.6" y1="116.50" y2="116.50" stroke="#2297E6" class="lg"/>
<text transform="translate(142.5,122.70)" class="tl lt">4</text>
<line x1="95.7" x2="127.6" y1="137.40" y2="137.40" stroke="#28E2E5" class="lg"/>
<text transform="translate(142.5,143.60)" class="tl lt">5</text>
<text transform="translate(381.4,489.25) scale(1,1.01)" class="ti" text-anchor="middle">Item Response Category Characteristic Curves - Item: I5</text>
<path d="M102.59,517.98 L103.99,517.99 L105.39,517.99 L106.79,518.00 L108.19,518.00 L109.59,518.01 L110.99,518.01 L112.39,518.02 L113.79,518.02 L115.19,518.03 L116.59,518.04 L117.99,518.04 L119.39,518.05 L120.79,518.06 L122.19,518.07 L123.59,518.08 L124.98,518.08 L126.38,518.09 L127.78,518.10 L129.18,518.11 L130.58,518.13 L131.98,518.14 L133.38,518.15 L134.78,518.16 L136.18,518.18 L137.58,518.19 L138.98,518.20 L140.38,518.22 L141.78,518.24 L143.18,518.25 L144.58,518.27 L145.98,518.29 L147.38,518.31 L148.78,518.33 L150.18,518.35 L151.58,518.38 L152.98,518.40 L154.38,518.43 L155.78,518.46 L157.18,518.48 L158.58,518.51 L159.98,518.54 L161.38,518.58 L162.78,518.61 L164.18,518.65 L165.58,518.69 L166.98,518.73 L168.38,518.77 L169.78,518.81 L171.18,518.86 L172.58,518.91 L173.98,518.96 L175.38,519.02 L176.78,519.07 L178.18,519.13 L179.58,519.20 L180.98,519.26 L182.38,519.33 L183.78,519.41 L185.18,519.48 L186.58,519.56 L187.98,519.65 L189.38,519.74 L190.78,519.83 L192.18,519.93 L193.58,520.03 L194.98,520.14 L196.38,520.26 L197.78,520.38 L199.17,520.50 L200.57,520.64 L201.97,520.78 L203.37,520.92 L204.77,521.08 L206.17,521.24 L207.57,521.41 L208.97,521.58 L210.37,521.77 L211.77,521.97 L213.17,522.17 L214.57,522.39 L215.97,522.62 L217.37,522.85 L218.77,523.10 L220.17,523.37 L221.57,523.64 L222.97,523.93 L224.37,524.23 L225.77,524.55 L227.17,524.89 L228.57,525.24 L229.97,525.60 L231.37,525.99 L232.77,526.39 L234.17,526.82 L235.57,527.26 L236.97,527.72 L238.37,528.21 L239.77,528.72 L241.17,529.26 L242.57,529.82 L243.97,530.41 L245.37,531.02 L246.77,531.66 L248.17,532.34 L249.57,533.04 L250.97,533.78 L252.37,534.55 L253.77,535.36 L255.17,536.20 L256.57,537.08 L257.97,538.00 L259.37,538.96 L260.77,539.97 L262.17,541.01 L263.57,542.11 L264.97,543.25 L266.37,544.44 L267.77,545.68 L269.17,546.97 L270.57,548.31 L271.96,549.71 L273.36,551.17 L274.76,552.68 L276.16,554.26 L277.56,555.89 L278.96,557.59 L280.36,559.35 L281.76,561.18 L283.16,563.08 L284.56,565.04 L285.96,567.07 L287.36,569.17 L288.76,571.35 L290.16,573.59 L291.56,575.91 L292.96,578.30 L294.36,580.77 L295.76,583.31 L297.16,585.92 L298.56,588.61 L299.96,591.37 L301.36,594.21 L302.76,597.11 L304.16,600.09 L305.56,603.14 L306.96,606.25 L308.36,609.43 L309.76,612.68 L311.16,615.99 L312.56,619.36 L313.96,622.79 L315.36,626.27 L316.76,629.80 L318.16,633.39 L319.56,637.01 L320.96,640.68 L322.36,644.38 L323.76,648.12 L325.16,651.89 L326.56,655.67 L327.96,659.48 L329.36,663.30 L330.76,667.14 L332.16,670.97 L333.56,674.81 L334.96,678.64 L336.36,682.47 L337.76,686.28 L339.16,690.07 L340.56,693.84 L341.96,697.58 L343.36,701.28 L344.76,704.96 L346.15,708.59 L347.55,712.17 L348.95,715.71 L350.35,719.20 L351.75,722.64 L353.15,726.01 L354.55,729.33 L355.95,732.59 L357.35,735.78 L358.75,738.90 L360.15,741.96 L361.55,744.94 L362.95,747.86 L364.35,750.70 L365.75,753.47 L367.15,756.16 L368.55,758.79 L369.95,761.33 L371.35,763.81 L372.75,766.21 L374.15,768.54 L375.55,770.79 L376.95,772.97 L378.35,775.08 L379.75,777.13 L381.15,779.10 L382.55,781.00 L383.95,782.84 L385.35,784.61 L386.75,786.31 L388.15,787.95 L389.55,789.54 L390.95,791.06 L392.35,792.52 L393.75,793.93 L395.15,795.28 L396.55,796.57 L397.95,797.82 L399.35,799.01 L400.75,800.16 L402.15,801.26 L403.55,802.31 L404.95,803.32 L406.35,804.29 L407.75,805.21 L409.15,806.10 L410.55,806.95 L411.95,807.76 L413.35,808.53 L414.75,809.27 L416.15,809.98 L417.55,810.66 L418.94,811.31 L420.34,811.92 L421.74,812.51 L423.14,813.08 L424.54,813.62 L425.94,814.13 L427.34,814.62 L428.74,815.09 L430.14,815.53 L431.54,815.96 L432.94,816.36 L434.34,816.75 L435.74,817.12 L437.14,817.47 L438.54,817.81 L439.94,818.13 L441.34,818.43 L442.74,818.73 L444.14,819.00 L445.54,819.27 L446.94,819.52 L448.34,819.76 L449.74,819.99 L451.14,820.20 L452.54,820.41 L453.94,820.61 L455.34,820.79 L456.74,820.97 L458.14,821.14 L459.54,821.31 L460.94,821.46 L462.34,821.61 L463.74,821.75 L465.14,821.88 L466.54,822.01 L467.94,822.13 L469.34,822.24 L470.74,822.35 L472.14,822.46 L473.54,822.56 L474.94,822.65 L476.34,822.74 L477.74,822.83 L479.14,822.91 L480.54,822.98 L481.94,823.06 L483.34,823.13 L484.74,823.20 L486.14,823.26 L487.54,823.32 L488.94,823.38 L490.34,823.43 L491.74,823.48 L493.13,823.53 L494.53,823.58 L495.93,823.62 L497.33,823.67 L498.73,823.71 L500.13,823.75 L501.53,823.78 L502.93,823.82 L504.33,823.85 L505.73,823.88 L507.13,823.91 L508.53,823.94 L509.93,823.97 L511.33,823.99 L512.73,824.02 L514.13,824.04 L515.53,824.07 L516.93,824.09 L518.33,824.11 L519.73,824.13 L521.13,824.14 L522.53,824.16 L523.93,824.18 L525.33,824.19 L526.73,824.21 L528.13,824.22 L529.53,824.24 L530.93,824.25 L532.33,824.26 L533.73,824.27 L535.13,824.28 L536.53,824.29 L537.93,824.30 L539.33,824.31 L540.73,824.32 L542.13,824.33 L543.53,824.34 L544.93,824.35 L546.33,824.36 L547.73,824.36 L549.13,824.37 L550.53,824.38 L551.93,824.38 L553.33,824.39 L554.73,824.39 L556.13,824.40 L557.53,824.40 L558.93,824.41 L560.33,824.41 L561.73,824.42 L563.13,824.42 L564.53,824.42 L565.92,824.43 L567.32,824.43 L568.72,824.44 L570.12,824.44 L571.52,824.44 L572.92,824.44 L574.32,824.45 L575.72,824.45 L577.12,824.45 L578.52,824.45 L579.92,824.46 L581.32,824.46 L582.72,824.46 L584.12,824.46 L585.52,824.46 L586.92,824.47 L588.32,824.47 L589.72,824.47 L591.12,824.47 L592.52,824.47 L593.92,824.47 L595.32,824.47 L596.72,824.48 L598.12,824.48 L599.52,824.48 L600.92,824.48 L602.32,824.48 L603.72,824.48 L605.12,824.48 L606.52,824.48 L607.92,824.48 L609.32,824.48 L610.72,824.49 L612.12,824.49 L613.52,824.49 L614.92,824.49 L616.32,824.49 L617.72,824.49 L619.12,824.49 L620.52,824.49 L621.92,824.49 L623.32,824.49 L624.72,824.49 L626.12,824.49 L627.52,824.49 L628.92,824.49 L630.32,824.49 L631.72,824.49 L633.12,824.49 L634.52,824.49 L635.92,824.49 L637.32,824.49 L638.72,824.49 L640.11,824.49 L641.51,824.50 L642.91,824.50 L644.31,824.50 L645.71,824.50 L647.11,824.50 L648.51,824.50 L649.91,824.50 L651.31,824.50 L652.71,824.50 L654.11,824.50 L655.51,824.50 L656.91,824.50 L658.31,824.50 L659.71,824.50 L661.11,824.50" stroke="#000000" class="cv k"/>
<path d="M102.59,824.43 L103.99,824.42 L105.39,824.42 L106.79,824.41 L108.19,824.41 L109.59,824.40 L110.99,824.40 L112.39,824.39 L113.79,824.39 L115.19,824.38 L116.59,824.38 L117.99,824.37 L119.39,824.36 L120.79,824.36 L122.19,824.35 L123.59,824.34 L124.98,824.33 L126.38,824.33 L127.78,824.32 L129.18,824.31 L130.58,824.30 L131.98,824.29 L133.38,824.28 L134.78,824.26 L136.18,824.25 L137.58,824.24 L138.98,824.23 L140.38,824.21 L141.78,824.20 L143.18,824.18 L144.58,824.17 L145.98,824.15 L147.38,824.13 L148.78,824.11 L150.18,824.09 L151.58,824.07 L152.98,824.05 L154.38,824.03 L155.78,824.00 L157.18,823.98 L158.58,823.95 L159.98,823.92 L161.38,823.89 L162.78,823.86 L164.18,823.83 L165.58,823.79 L166.98,823.76 L168.38,823.72 L169.78,823.68 L171.18,823.64 L172.58,823.59 L173.98,823.55 L175.38,823.50 L176.78,823.44 L178.18,823.39 L179.58,823.33 L180.98,823.27 L182.38,823.21 L183.78,823.15 L185.18,823.08 L186.58,823.00 L187.98,822.93 L189.38,822.85 L190.78,822.76 L192.18,822.68 L193.58,822.58 L194.98,822.48 L196.38,822.38 L197.78,822.27 L199.17,822.16 L200.57,822.04 L201.97,821.92 L203.37,821.79 L204.77,821.65 L206.17,821.50 L207.57,821.35 L208.97,821.19 L210.37,821.02 L211.77,820.85 L213.17,820.66 L214.57,820.47 L215.97,820.27 L217.37,820.05 L218.77,819.83 L220.17,819.59 L221.57,819.35 L222.97,819.09 L224.37,818.82 L225.77,818.53 L227.17,818.23 L228.57,817.92 L229.97,817.59 L231.37,817.25 L232.77,816.89 L234.17,816.51 L235.57,816.11 L236.97,815.70 L238.37,815.26 L239.77,814.81 L241.17,814.33 L242.57,813.83 L243.97,813.30 L245.37,812.76 L246.77,812.18 L248.17,811.58 L249.57,810.96 L250.97,810.30 L252.37,809.62 L253.77,808.90 L255.17,808.15 L256.57,807.37 L257.97,806.56 L259.37,805.70 L260.77,804.82 L262.17,803.89 L263.57,802.92 L264.97,801.92 L266.37,800.87 L267.77,799.78 L269.17,798.64 L270.57,797.46 L271.96,796.23 L273.36,794.95 L274.76,793.63 L276.16,792.25 L277.56,790.83 L278.96,789.35 L280.36,787.81 L281.76,786.22 L283.16,784.58 L284.56,782.88 L285.96,781.13 L287.36,779.32 L288.76,777.45 L290.16,775.53 L291.56,773.55 L292.96,771.51 L294.36,769.41 L295.76,767.26 L297.16,765.06 L298.56,762.80 L299.96,760.48 L301.36,758.12 L302.76,755.71 L304.16,753.24 L305.56,750.74 L306.96,748.19 L308.36,745.60 L309.76,742.97 L311.16,740.31 L312.56,737.62 L313.96,734.90 L315.36,732.17 L316.76,729.41 L318.16,726.64 L319.56,723.87 L320.96,721.09 L322.36,718.31 L323.76,715.55 L325.16,712.80 L326.56,710.06 L327.96,707.36 L329.36,704.69 L330.76,702.05 L332.16,699.47 L333.56,696.93 L334.96,694.45 L336.36,692.04 L337.76,689.70 L339.16,687.44 L340.56,685.25 L341.96,683.16 L343.36,681.17 L344.76,679.27 L346.15,677.48 L347.55,675.80 L348.95,674.24 L350.35,672.80 L351.75,671.48 L353.15,670.29 L354.55,669.24 L355.95,668.32 L357.35,667.53 L358.75,666.89 L360.15,666.39 L361.55,666.04 L362.95,665.82 L364.35,665.76 L365.75,665.84 L367.15,666.06 L368.55,666.43 L369.95,666.94 L371.35,667.60 L372.75,668.39 L374.15,669.33 L375.55,670.40 L376.95,671.60 L378.35,672.92 L379.75,674.38 L381.15,675.95 L382.55,677.64 L383.95,679.44 L385.35,681.34 L386.75,683.35 L388.15,685.45 L389.55,687.64 L390.95,689.91 L392.35,692.26 L393.75,694.67 L395.15,697.16 L396.55,699.70 L397.95,702.29 L399.35,704.93 L400.75,707.60 L402.15,710.31 L403.55,713.04 L404.95,715.80 L406.35,718.56 L407.75,721.34 L409.15,724.12 L410.55,726.89 L411.95,729.66 L413.35,732.41 L414.75,735.15 L416.15,737.86 L417.55,740.55 L418.94,743.21 L420.34,745.83 L421.74,748.42 L423.14,750.96 L424.54,753.47 L425.94,755.92 L427.34,758.33 L428.74,760.69 L430.14,763.00 L431.54,765.26 L432.94,767.46 L434.34,769.60 L435.74,771.69 L437.14,773.73 L438.54,775.70 L439.94,777.62 L441.34,779.48 L442.74,781.29 L444.14,783.04 L445.54,784.73 L446.94,786.37 L448.34,787.95 L449.74,789.48 L451.14,790.96 L452.54,792.38 L453.94,793.75 L455.34,795.07 L456.74,796.34 L458.14,797.57 L459.54,798.75 L460.94,799.88 L462.34,800.96 L463.74,802.01 L465.14,803.01 L466.54,803.97 L467.94,804.90 L469.34,805.78 L470.74,806.63 L472.14,807.44 L473.54,808.22 L474.94,808.97 L476.34,809.68 L477.74,810.36 L479.14,811.02 L480.54,811.64 L481.94,812.24 L483.34,812.81 L484.74,813.35 L486.14,813.87 L487.54,814.37 L488.94,814.85 L490.34,815.30 L491.74,815.73 L493.13,816.15 L494.53,816.54 L495.93,816.92 L497.33,817.28 L498.73,817.62 L500.13,817.95 L501.53,818.26 L502.93,818.56 L504.33,818.84 L505.73,819.11 L507.13,819.37 L508.53,819.62 L509.93,819.85 L511.33,820.07 L512.73,820.29 L514.13,820.49 L515.53,820.68 L516.93,820.87 L518.33,821.04 L519.73,821.21 L521.13,821.37 L522.53,821.52 L523.93,821.66 L525.33,821.80 L526.73,821.93 L528.13,822.05 L529.53,822.17 L530.93,822.28 L532.33,822.39 L533.73,822.49 L535.13,822.59 L536.53,822.68 L537.93,822.77 L539.33,822.86 L540.73,822.94 L542.13,823.01 L543.53,823.08 L544.93,823.15 L546.33,823.22 L547.73,823.28 L549.13,823.34 L550.53,823.40 L551.93,823.45 L553.33,823.50 L554.73,823.55 L556.13,823.60 L557.53,823.64 L558.93,823.68 L560.33,823.72 L561.73,823.76 L563.13,823.80 L564.53,823.83 L565.92,823.86 L567.32,823.89 L568.72,823.92 L570.12,823.95 L571.52,823.98 L572.92,824.00 L574.32,824.03 L575.72,824.05 L577.12,824.07 L578.52,824.09 L579.92,824.11 L581.32,824.13 L582.72,824.15 L584.12,824.17 L585.52,824.18 L586.92,824.20 L588.32,824.21 L589.72,824.23 L591.12,824.24 L592.52,824.25 L593.92,824.27 L595.32,824.28 L596.72,824.29 L598.12,824.30 L599.52,824.31 L600.92,824.32 L602.32,824.33 L603.72,824.33 L605.12,824.34 L606.52,824.35 L607.92,824.36 L609.32,824.36 L610.72,824.37 L612.12,824.38 L613.52,824.38 L614.92,824.39 L616.32,824.39 L617.72,824.40 L619.12,824.40 L620.52,824.41 L621.92,824.41 L623.32,824.42 L624.72,824.42 L626.12,824.43 L627.52,824.43 L628.92,824.43 L630.32,824.44 L631.72,824.44 L633.12,824.44 L634.52,824.45 L635.92,824.45 L637.32,824.45 L638.72,824.45 L640.11,824.46 L641.51,824.46 L642.91,824.46 L644.31,824.46 L645.71,824.46 L647.11,824.46 L648.51,824.47 L649.91,824.47 L651.31,824.47 L652.71,824.47 L654.11,824.47 L655.51,824.47 L656.91,824.48 L658.31,824.48 L659.71,824.48 L661.11,824.48" stroke="#DF536B" class="cv"/>
<path d="M102.59,824.49 L103.99,824.49 L105.39,824.49 L106.79,824.49 L108.19,824.49 L109.59,824.49 L110.99,824.49 L112.39,824.49 L113.79,824.49 L115.19,824.49 L116.59,824.49 L117.99,824.49 L119.39,824.49 L120.79,824.49 L122.19,824.48 L123.59,824.48 L124.98,824.48 L126.38,824.48 L127.78,824.48 L129.18,824.48 L130.58,824.48 L131.98,824.48 L133.38,824.48 L134.78,824.48 L136.18,824.47 L137.58,824.47 L138.98,824.47 L140.38,824.47 L141.78,824.47 L143.18,824.47 L144.58,824.47 L145.98,824.46 L147.38,824.46 L148.78,824.46 L150.18,824.46 L151.58,824.46 L152.98,824.45 L154.38,824.45 L155.78,824.45 L157.18,824.45 L158.58,824.44 L159.98,824.44 L161.38,824.44 L162.78,824.43 L164.18,824.43 L165.58,824.43 L166.98,824.42 L168.38,824.42 L169.78,824.41 L171.18,824.41 L172.58,824.41 L173.98,824.40 L175.38,824.40 L176.78,824.39 L178.18,824.38 L179.58,824.38 L180.98,824.37 L182.38,824.37 L183.78,824.36 L185.18,824.35 L186.58,824.34 L187.98,824.34 L189.38,824.33 L190.78,824.32 L192.18,824.31 L193.58,824.30 L194.98,824.29 L196.38,824.28 L197.78,824.27 L199.17,824.25 L200.57,824.24 L201.97,824.23 L203.37,824.21 L204.77,824.20 L206.17,824.18 L207.57,824.17 L208.97,824.15 L210.37,824.13 L211.77,824.11 L213.17,824.09 L214.57,824.07 L215.97,824.05 L217.37,824.03 L218.77,824.01 L220.17,823.98 L221.57,823.95 L222.97,823.93 L224.37,823.90 L225.77,823.86 L227.17,823.83 L228.57,823.80 L229.97,823.76 L231.37,823.72 L232.77,823.68 L234.17,823.64 L235.57,823.60 L236.97,823.55 L238.37,823.50 L239.77,823.45 L241.17,823.40 L242.57,823.34 L243.97,823.28 L245.37,823.22 L246.77,823.16 L248.17,823.09 L249.57,823.02 L250.97,822.94 L252.37,822.86 L253.77,822.78 L255.17,822.69 L256.57,822.60 L257.97,822.50 L259.37,822.40 L260.77,822.29 L262.17,822.18 L263.57,822.06 L264.97,821.94 L266.37,821.81 L267.77,821.67 L269.17,821.53 L270.57,821.38 L271.96,821.22 L273.36,821.05 L274.76,820.88 L276.16,820.69 L277.56,820.50 L278.96,820.30 L280.36,820.09 L281.76,819.86 L283.16,819.63 L284.56,819.38 L285.96,819.13 L287.36,818.86 L288.76,818.57 L290.16,818.28 L291.56,817.97 L292.96,817.64 L294.36,817.30 L295.76,816.94 L297.16,816.56 L298.56,816.17 L299.96,815.75 L301.36,815.32 L302.76,814.86 L304.16,814.39 L305.56,813.89 L306.96,813.37 L308.36,812.82 L309.76,812.25 L311.16,811.65 L312.56,811.02 L313.96,810.37 L315.36,809.68 L316.76,808.97 L318.16,808.22 L319.56,807.44 L320.96,806.62 L322.36,805.77 L323.76,804.88 L325.16,803.95 L326.56,802.98 L327.96,801.97 L329.36,800.92 L330.76,799.82 L332.16,798.68 L333.56,797.49 L334.96,796.26 L336.36,794.97 L337.76,793.63 L339.16,792.24 L340.56,790.80 L341.96,789.30 L343.36,787.75 L344.76,786.14 L346.15,784.48 L347.55,782.75 L348.95,780.97 L350.35,779.13 L351.75,777.23 L353.15,775.26 L354.55,773.24 L355.95,771.15 L357.35,769.00 L358.75,766.79 L360.15,764.53 L361.55,762.20 L362.95,759.81 L364.35,757.36 L365.75,754.86 L367.15,752.30 L368.55,749.69 L369.95,747.03 L371.35,744.32 L372.75,741.57 L374.15,738.77 L375.55,735.93 L376.95,733.05 L378.35,730.14 L379.75,727.20 L381.15,724.24 L382.55,721.26 L383.95,718.26 L385.35,715.25 L386.75,712.24 L388.15,709.23 L389.55,706.22 L390.95,703.23 L392.35,700.26 L393.75,697.30 L395.15,694.38 L396.55,691.50 L397.95,688.66 L399.35,685.86 L400.75,683.13 L402.15,680.45 L403.55,677.84 L404.95,675.31 L406.35,672.86 L407.75,670.49 L409.15,668.22 L410.55,666.04 L411.95,663.96 L413.35,662.00 L414.75,660.14 L416.15,658.41 L417.55,656.79 L418.94,655.30 L420.34,653.94 L421.74,652.71 L423.14,651.62 L424.54,650.67 L425.94,649.86 L427.34,649.19 L428.74,648.67 L430.14,648.29 L431.54,648.06 L432.94,647.98 L434.34,648.05 L435.74,648.26 L437.14,648.62 L438.54,649.13 L439.94,649.78 L441.34,650.58 L442.74,651.52 L444.14,652.59 L445.54,653.80 L446.94,655.15 L448.34,656.63 L449.74,658.23 L451.14,659.95 L452.54,661.79 L453.94,663.75 L455.34,665.81 L456.74,667.98 L458.14,670.24 L459.54,672.60 L460.94,675.04 L462.34,677.57 L463.74,680.17 L465.14,682.84 L466.54,685.57 L467.94,688.36 L469.34,691.19 L470.74,694.07 L472.14,696.99 L473.54,699.94 L474.94,702.91 L476.34,705.90 L477.74,708.91 L479.14,711.92 L480.54,714.93 L481.94,717.94 L483.34,720.94 L484.74,723.92 L486.14,726.89 L487.54,729.83 L488.94,732.74 L490.34,735.62 L491.74,738.47 L493.13,741.27 L494.53,744.03 L495.93,746.75 L497.33,749.41 L498.73,752.03 L500.13,754.59 L501.53,757.10 L502.93,759.55 L504.33,761.94 L505.73,764.28 L507.13,766.55 L508.53,768.77 L509.93,770.92 L511.33,773.02 L512.73,775.05 L514.13,777.02 L515.53,778.93 L516.93,780.78 L518.33,782.57 L519.73,784.30 L521.13,785.97 L522.53,787.58 L523.93,789.14 L525.33,790.64 L526.73,792.09 L528.13,793.49 L529.53,794.83 L530.93,796.12 L532.33,797.36 L533.73,798.56 L535.13,799.70 L536.53,800.81 L537.93,801.86 L539.33,802.88 L540.73,803.85 L542.13,804.78 L543.53,805.68 L544.93,806.53 L546.33,807.35 L547.73,808.14 L549.13,808.89 L550.53,809.61 L551.93,810.30 L553.33,810.96 L554.73,811.58 L556.13,812.19 L557.53,812.76 L558.93,813.31 L560.33,813.83 L561.73,814.34 L563.13,814.81 L564.53,815.27 L565.92,815.71 L567.32,816.12 L568.72,816.52 L570.12,816.90 L571.52,817.26 L572.92,817.60 L574.32,817.93 L575.72,818.24 L577.12,818.54 L578.52,818.83 L579.92,819.10 L581.32,819.36 L582.72,819.60 L584.12,819.84 L585.52,820.06 L586.92,820.28 L588.32,820.48 L589.72,820.67 L591.12,820.86 L592.52,821.03 L593.92,821.20 L595.32,821.36 L596.72,821.51 L598.12,821.66 L599.52,821.79 L600.92,821.92 L602.32,822.05 L603.72,822.17 L605.12,822.28 L606.52,822.39 L607.92,822.49 L609.32,822.59 L610.72,822.68 L612.12,822.77 L613.52,822.85 L614.92,822.93 L616.32,823.01 L617.72,823.08 L619.12,823.15 L620.52,823.22 L621.92,823.28 L623.32,823.34 L624.72,823.39 L626.12,823.45 L627.52,823.50 L628.92,823.55 L630.32,823.59 L631.72,823.64 L633.12,823.68 L634.52,823.72 L635.92,823.76 L637.32,823.79 L638.72,823.83 L640.11,823.86 L641.51,823.89 L642.91,823.92 L644.31,823.95 L645.71,823.98 L647.11,824.00 L648.51,824.03 L649.91,824.05 L651.31,824.07 L652.71,824.09 L654.11,824.11 L655.51,824.13 L656.91,824.15 L658.31,824.17 L659.71,824.18 L661.11,824.20" stroke="#61D04F" class="cv"/>
<path d="M102.59,824.50 L103.99,824.50 L105.39,824.50 L106.79,824.50 L108.19,824.50 L109.59,824.50 L110.99,824.50 L112.39,824.50 L113.79,824.50 L115.19,824.50 L116.59,824.50 L117.99,824.50 L119.39,824.50 L120.79,824.50 L122.19,824.50 L123.59,824.50 L124.98,824.50 L126.38,824.50 L127.78,824.50 L129.18,824.50 L130.58,824.50 L131.98,824.50 L133.38,824.50 L134.78,824.50 L136.18,824.50 L137.58,824.50 L138.98,824.50 L140.38,824.50 L141.78,824.50 L143.18,824.50 L144.58,824.50 L145.98,824.50 L147.38,824.50 L148.78,824.50 L150.18,824.50 L151.58,824.50 L152.98,824.50 L154.38,824.50 L155.78,824.50 L157.18,824.50 L158.58,824.50 L159.98,824.50 L161.38,824.50 L162.78,824.50 L164.18,824.50 L165.58,824.50 L166.98,824.49 L168.38,824.49 L169.78,824.49 L171.18,824.49 L172.58,824.49 L173.98,824.49 L175.38,824.49 L176.78,824.49 L178.18,824.49 L179.58,824.49 L180.98,824.49 L182.38,824.49 L183.78,824.49 L185.18,824.49 L186.58,824.49 L187.98,824.49 L189.38,824.49 L190.78,824.49 L192.18,824.49 L193.58,824.49 L194.98,824.49 L196.38,824.49 L197.78,824.48 L199.17,824.48 L200.57,824.48 L201.97,824.48 L203.37,824.48 L204.77,824.48 L206.17,824.48 L207.57,824.48 L208.97,824.48 L210.37,824.48 L211.77,824.47 L213.17,824.47 L214.57,824.47 L215.97,824.47 L217.37,824.47 L218.77,824.47 L220.17,824.46 L221.57,824.46 L222.97,824.46 L224.37,824.46 L225.77,824.46 L227.17,824.45 L228.57,824.45 L229.97,824.45 L231.37,824.45 L232.77,824.44 L234.17,824.44 L235.57,824.44 L236.97,824.44 L238.37,824.43 L239.77,824.43 L241.17,824.43 L242.57,824.42 L243.97,824.42 L245.37,824.41 L246.77,824.41 L248.17,824.40 L249.57,824.40 L250.97,824.39 L252.37,824.39 L253.77,824.38 L255.17,824.38 L256.57,824.37 L257.97,824.36 L259.37,824.36 L260.77,824.35 L262.17,824.34 L263.57,824.33 L264.97,824.33 L266.37,824.32 L267.77,824.31 L269.17,824.30 L270.57,824.29 L271.96,824.28 L273.36,824.26 L274.76,824.25 L276.16,824.24 L277.56,824.23 L278.96,824.21 L280.36,824.20 L281.76,824.18 L283.16,824.17 L284.56,824.15 L285.96,824.13 L287.36,824.11 L288.76,824.09 L290.16,824.07 L291.56,824.05 L292.96,824.03 L294.36,824.00 L295.76,823.98 L297.16,823.95 L298.56,823.92 L299.96,823.89 L301.36,823.86 L302.76,823.83 L304.16,823.79 L305.56,823.76 L306.96,823.72 L308.36,823.68 L309.76,823.64 L311.16,823.59 L312.56,823.55 L313.96,823.50 L315.36,823.45 L316.76,823.39 L318.16,823.34 L319.56,823.28 L320.96,823.21 L322.36,823.15 L323.76,823.08 L325.16,823.01 L326.56,822.93 L327.96,822.85 L329.36,822.77 L330.76,822.68 L332.16,822.59 L333.56,822.49 L334.96,822.39 L336.36,822.28 L337.76,822.17 L339.16,822.05 L340.56,821.92 L341.96,821.79 L343.36,821.65 L344.76,821.51 L346.15,821.36 L347.55,821.20 L348.95,821.03 L350.35,820.86 L351.75,820.67 L353.15,820.48 L354.55,820.28 L355.95,820.07 L357.35,819.84 L358.75,819.61 L360.15,819.36 L361.55,819.11 L362.95,818.83 L364.35,818.55 L365.75,818.25 L367.15,817.94 L368.55,817.62 L369.95,817.27 L371.35,816.91 L372.75,816.54 L374.15,816.14 L375.55,815.73 L376.95,815.30 L378.35,814.85 L379.75,814.37 L381.15,813.88 L382.55,813.36 L383.95,812.81 L385.35,812.25 L386.75,811.65 L388.15,811.03 L389.55,810.38 L390.95,809.70 L392.35,809.00 L393.75,808.26 L395.15,807.48 L396.55,806.68 L397.95,805.84 L399.35,804.96 L400.75,804.05 L402.15,803.10 L403.55,802.11 L404.95,801.08 L406.35,800.00 L407.75,798.89 L409.15,797.73 L410.55,796.52 L411.95,795.27 L413.35,793.97 L414.75,792.63 L416.15,791.23 L417.55,789.79 L418.94,788.30 L420.34,786.75 L421.74,785.15 L423.14,783.51 L424.54,781.81 L425.94,780.05 L427.34,778.25 L428.74,776.39 L430.14,774.48 L431.54,772.52 L432.94,770.51 L434.34,768.45 L435.74,766.35 L437.14,764.19 L438.54,761.99 L439.94,759.75 L441.34,757.47 L442.74,755.14 L444.14,752.78 L445.54,750.39 L446.94,747.97 L448.34,745.52 L449.74,743.05 L451.14,740.56 L452.54,738.06 L453.94,735.55 L455.34,733.03 L456.74,730.51 L458.14,728.00 L459.54,725.50 L460.94,723.02 L462.34,720.56 L463.74,718.13 L465.14,715.74 L466.54,713.39 L467.94,711.08 L469.34,708.83 L470.74,706.64 L472.14,704.51 L473.54,702.46 L474.94,700.49 L476.34,698.60 L477.74,696.80 L479.14,695.10 L480.54,693.50 L481.94,692.01 L483.34,690.63 L484.74,689.37 L486.14,688.22 L487.54,687.20 L488.94,686.31 L490.34,685.55 L491.74,684.92 L493.13,684.43 L494.53,684.07 L495.93,683.85 L497.33,683.78 L498.73,683.84 L500.13,684.04 L501.53,684.37 L502.93,684.85 L504.33,685.46 L505.73,686.20 L507.13,687.08 L508.53,688.08 L509.93,689.21 L511.33,690.46 L512.73,691.82 L514.13,693.30 L515.53,694.88 L516.93,696.57 L518.33,698.36 L519.73,700.23 L521.13,702.19 L522.53,704.23 L523.93,706.35 L525.33,708.53 L526.73,710.78 L528.13,713.07 L529.53,715.42 L530.93,717.81 L532.33,720.24 L533.73,722.69 L535.13,725.17 L536.53,727.67 L537.93,730.18 L539.33,732.69 L540.73,735.21 L542.13,737.72 L543.53,740.23 L544.93,742.72 L546.33,745.19 L547.73,747.64 L549.13,750.07 L550.53,752.47 L551.93,754.83 L553.33,757.16 L554.73,759.45 L556.13,761.70 L557.53,763.90 L558.93,766.06 L560.33,768.18 L561.73,770.24 L563.13,772.26 L564.53,774.22 L565.92,776.14 L567.32,778.00 L568.72,779.81 L570.12,781.57 L571.52,783.28 L572.92,784.94 L574.32,786.54 L575.72,788.09 L577.12,789.59 L578.52,791.04 L579.92,792.44 L581.32,793.80 L582.72,795.10 L584.12,796.36 L585.52,797.57 L586.92,798.73 L588.32,799.86 L589.72,800.93 L591.12,801.97 L592.52,802.97 L593.92,803.92 L595.32,804.84 L596.72,805.72 L598.12,806.57 L599.52,807.38 L600.92,808.15 L602.32,808.90 L603.72,809.61 L605.12,810.29 L606.52,810.95 L607.92,811.57 L609.32,812.17 L610.72,812.74 L612.12,813.29 L613.52,813.81 L614.92,814.31 L616.32,814.78 L617.72,815.24 L619.12,815.67 L620.52,816.09 L621.92,816.49 L623.32,816.87 L624.72,817.23 L626.12,817.57 L627.52,817.90 L628.92,818.21 L630.32,818.51 L631.72,818.80 L633.12,819.07 L634.52,819.33 L635.92,819.58 L637.32,819.81 L638.72,820.04 L640.11,820.25 L641.51,820.45 L642.91,820.65 L644.31,820.83 L645.71,821.01 L647.11,821.18 L648.51,821.34 L649.91,821.49 L651.31,821.64 L652.71,821.77 L654.11,821.91 L655.51,822.03 L656.91,822.15 L658.31,822.26 L659.71,822.37 L661.11,822.48" stroke="#2297E6" class="cv"/>
<path d="M102.59,824.50 L103.99,824.50 L105.39,824.50 L106.79,824.50 L108.19,824.50 L109.59,824.50 L110.99,824.50 L112.39,824.50 L113.79,824.50 L115.19,824.50 L116.59,824.50 L117.99,824.50 L119.39,824.50 L120.79,824.50 L122.19,824.50 L123.59,824.50 L124.98,824.50 L126.38,824.50 L127.78,824.50 L129.18,824.50 L130.58,824.50 L131.98,824.50 L133.38,824.50 L134.78,824.50 L136.18,824.50 L137.58,824.50 L138.98,824.50 L140.38,824.50 L141.78,824.50 L143.18,824.50 L144.58,824.50 L145.98,824.50 L147.38,824.50 L148.78,824.50 L150.18,824.50 L151.58,824.50 L152.98,824.50 L154.38,824.50 L155.78,824.50 L157.18,824.50 L158.58,824.50 L159.98,824.50 L161.38,824.50 L162.78,824.50 L164.18,824.50 L165.58,824.50 L166.98,824.50 L168.38,824.50 L169.78,824.50 L171.18,824.50 L172.58,824.50 L173.98,824.50 L175.38,824.50 L176.78,824.50 L178.18,824.50 L179.58,824.50 L180.98,824.50 L182.38,824.50 L183.78,824.50 L185.18,824.50 L186.58,824.50 L187.98,824.50 L189.38,824.50 L190.78,824.50 L192.18,824.50 L193.58,824.50 L194.98,824.50 L196.38,824.50 L197.78,824.50 L199.17,824.50 L200.57,824.50 L201.97,824.50 L203.37,824.50 L204.77,824.50 L206.17,824.50 L207.57,824.50 L208.97,824.50 L210.37,824.50 L211.77,824.50 L213.17,824.50 L214.57,824.50 L215.97,824.50 L217.37,824.49 L218.77,824.49 L220.17,824.49 L221.57,824.49 L222.97,824.49 L224.37,824.49 L225.77,824.49 L227.17,824.49 L228.57,824.49 L229.97,824.49 L231.37,824.49 L232.77,824.49 L234.17,824.49 L235.57,824.49 L236.97,824.49 L238.37,824.49 L239.77,824.49 L241.17,824.49 L242.57,824.49 L243.97,824.49 L245.37,824.49 L246.77,824.49 L248.17,824.48 L249.57,824.48 L250.97,824.48 L252.37,824.48 L253.77,824.48 L255.17,824.48 L256.57,824.48 L257.97,824.48 L259.37,824.48 L260.77,824.48 L262.17,824.47 L263.57,824.47 L264.97,824.47 L266.37,824.47 L267.77,824.47 L269.17,824.47 L270.57,824.47 L271.96,824.46 L273.36,824.46 L274.76,824.46 L276.16,824.46 L277.56,824.46 L278.96,824.45 L280.36,824.45 L281.76,824.45 L283.16,824.45 L284.56,824.44 L285.96,824.44 L287.36,824.44 L288.76,824.43 L290.16,824.43 L291.56,824.43 L292.96,824.42 L294.36,824.42 L295.76,824.42 L297.16,824.41 L298.56,824.41 L299.96,824.40 L301.36,824.40 L302.76,824.39 L304.16,824.39 L305.56,824.38 L306.96,824.38 L308.36,824.37 L309.76,824.36 L311.16,824.35 L312.56,824.35 L313.96,824.34 L315.36,824.33 L316.76,824.32 L318.16,824.31 L319.56,824.30 L320.96,824.29 L322.36,824.28 L323.76,824.27 L325.16,824.26 L326.56,824.25 L327.96,824.24 L329.36,824.22 L330.76,824.21 L332.16,824.19 L333.56,824.18 L334.96,824.16 L336.36,824.14 L337.76,824.12 L339.16,824.11 L340.56,824.09 L341.96,824.06 L343.36,824.04 L344.76,824.02 L346.15,823.99 L347.55,823.97 L348.95,823.94 L350.35,823.91 L351.75,823.88 L353.15,823.85 L354.55,823.82 L355.95,823.78 L357.35,823.74 L358.75,823.71 L360.15,823.66 L361.55,823.62 L362.95,823.58 L364.35,823.53 L365.75,823.48 L367.15,823.43 L368.55,823.37 L369.95,823.32 L371.35,823.25 L372.75,823.19 L374.15,823.12 L375.55,823.05 L376.95,822.98 L378.35,822.90 L379.75,822.82 L381.15,822.74 L382.55,822.64 L383.95,822.55 L385.35,822.45 L386.75,822.35 L388.15,822.24 L389.55,822.12 L390.95,822.00 L392.35,821.87 L393.75,821.74 L395.15,821.60 L396.55,821.45 L397.95,821.30 L399.35,821.13 L400.75,820.96 L402.15,820.78 L403.55,820.59 L404.95,820.40 L406.35,820.19 L407.75,819.97 L409.15,819.74 L410.55,819.50 L411.95,819.25 L413.35,818.99 L414.75,818.71 L416.15,818.42 L417.55,818.11 L418.94,817.79 L420.34,817.45 L421.74,817.10 L423.14,816.73 L424.54,816.34 L425.94,815.93 L427.34,815.51 L428.74,815.06 L430.14,814.59 L431.54,814.10 L432.94,813.58 L434.34,813.04 L435.74,812.48 L437.14,811.89 L438.54,811.27 L439.94,810.62 L441.34,809.94 L442.74,809.23 L444.14,808.48 L445.54,807.71 L446.94,806.89 L448.34,806.04 L449.74,805.16 L451.14,804.23 L452.54,803.26 L453.94,802.25 L455.34,801.19 L456.74,800.09 L458.14,798.94 L459.54,797.74 L460.94,796.49 L462.34,795.19 L463.74,793.84 L465.14,792.43 L466.54,790.96 L467.94,789.44 L469.34,787.85 L470.74,786.21 L472.14,784.50 L473.54,782.72 L474.94,780.88 L476.34,778.97 L477.74,777.00 L479.14,774.95 L480.54,772.84 L481.94,770.65 L483.34,768.39 L484.74,766.06 L486.14,763.65 L487.54,761.18 L488.94,758.62 L490.34,756.00 L491.74,753.29 L493.13,750.52 L494.53,747.67 L495.93,744.75 L497.33,741.76 L498.73,738.71 L500.13,735.58 L501.53,732.38 L502.93,729.12 L504.33,725.80 L505.73,722.42 L507.13,718.98 L508.53,715.49 L509.93,711.95 L511.33,708.36 L512.73,704.73 L514.13,701.05 L515.53,697.34 L516.93,693.60 L518.33,689.83 L519.73,686.04 L521.13,682.23 L522.53,678.40 L523.93,674.57 L525.33,670.73 L526.73,666.89 L528.13,663.06 L529.53,659.24 L530.93,655.43 L532.33,651.65 L533.73,647.88 L535.13,644.15 L536.53,640.45 L537.93,636.78 L539.33,633.16 L540.73,629.58 L542.13,626.05 L543.53,622.57 L544.93,619.15 L546.33,615.78 L547.73,612.47 L549.13,609.23 L550.53,606.05 L551.93,602.94 L553.33,599.90 L554.73,596.93 L556.13,594.02 L557.53,591.20 L558.93,588.44 L560.33,585.76 L561.73,583.15 L563.13,580.61 L564.53,578.15 L565.92,575.76 L567.32,573.45 L568.72,571.21 L570.12,569.04 L571.52,566.94 L572.92,564.91 L574.32,562.95 L575.72,561.06 L577.12,559.24 L578.52,557.48 L579.92,555.79 L581.32,554.15 L582.72,552.58 L584.12,551.07 L585.52,549.62 L586.92,548.22 L588.32,546.88 L589.72,545.60 L591.12,544.36 L592.52,543.17 L593.92,542.04 L595.32,540.95 L596.72,539.90 L598.12,538.90 L599.52,537.94 L600.92,537.02 L602.32,536.15 L603.72,535.31 L605.12,534.50 L606.52,533.73 L607.92,533.00 L609.32,532.29 L610.72,531.62 L612.12,530.98 L613.52,530.37 L614.92,529.78 L616.32,529.22 L617.72,528.69 L619.12,528.18 L620.52,527.69 L621.92,527.23 L623.32,526.79 L624.72,526.37 L626.12,525.96 L627.52,525.58 L628.92,525.21 L630.32,524.86 L631.72,524.53 L633.12,524.21 L634.52,523.91 L635.92,523.62 L637.32,523.35 L638.72,523.09 L640.11,522.84 L641.51,522.60 L642.91,522.37 L644.31,522.16 L645.71,521.95 L647.11,521.76 L648.51,521.57 L649.91,521.39 L651.31,521.23 L652.71,521.07 L654.11,520.91 L655.51,520.77 L656.91,520.63 L658.31,520.50 L659.71,520.37 L661.11,520.25" stroke="#28E2E5" class="cv"/>
<path d="M682.50,505.95 H80.30 V836.15 H682.50" class="bx"/>
<line x1="683.30" x2="683.30" y1="505.15" y2="836.95" class="bxr"/>
<line x1="69.6" x2="80.3" y1="824.50" y2="824.50" class="ax"/>
<text transform="translate(54.9,824.90) rotate(-90) scale(1,1.08)" text-anchor="middle" class="tl">0.0</text>
<line x1="69.6" x2="80.3" y1="763.18" y2="763.18" class="ax"/>
<text transform="translate(54.9,763.58) rotate(-90) scale(1,1.08)" text-anchor="middle" class="tl">0.2</text>
<line x1="69.6" x2="80.3" y1="701.86" y2="701.86" class="ax"/>
<text transform="translate(54.9,702.26) rotate(-90) scale(1,1.08)" text-anchor="middle" class="tl">0.4</text>
<line x1="69.6" x2="80.3" y1="640.54" y2="640.54" class="ax"/>
<text transform="translate(54.9,640.94) rotate(-90) scale(1,1.08)" text-anchor="middle" class="tl">0.6</text>
<line x1="69.6" x2="80.3" y1="579.22" y2="579.22" class="ax"/>
<text transform="translate(54.9,579.62) rotate(-90) scale(1,1.08)" text-anchor="middle" class="tl">0.8</text>
<line x1="69.6" x2="80.3" y1="517.90" y2="517.90" class="ax"/>
<text transform="translate(54.9,518.30) rotate(-90) scale(1,1.08)" text-anchor="middle" class="tl"><tspan class="one">1</tspan><tspan dx="-0.45">.</tspan>0</text>
<line x1="87.89" x2="87.89" y1="836.15" y2="846.45" class="ax"/>
<text transform="translate(87.89,874.55) scale(1,1.02)" text-anchor="middle" class="tl">-4</text>
<line x1="234.87" x2="234.87" y1="836.15" y2="846.45" class="ax"/>
<text transform="translate(234.87,874.55) scale(1,1.02)" text-anchor="middle" class="tl">-2</text>
<line x1="381.85" x2="381.85" y1="836.15" y2="846.45" class="ax"/>
<text transform="translate(381.85,874.55) scale(1,1.02)" text-anchor="middle" class="tl">0</text>
<line x1="528.83" x2="528.83" y1="836.15" y2="846.45" class="ax"/>
<text transform="translate(528.83,874.55) scale(1,1.02)" text-anchor="middle" class="tl">2</text>
<line x1="675.81" x2="675.81" y1="836.15" y2="846.45" class="ax"/>
<text transform="translate(675.81,874.55) scale(1,1.02)" text-anchor="middle" class="tl">4</text>
<text transform="translate(381.2,916.75) scale(1,1.02)" text-anchor="middle" class="tl">Trait-level Insomnia</text>
<text transform="translate(13.1,671.85) rotate(-90)" text-anchor="middle" class="tl">Probability</text>
<line x1="95.7" x2="127.6" y1="526.85" y2="526.85" stroke="#000000" class="lg"/>
<text transform="translate(142.5,533.05)" class="tl lt"><tspan class="one" dx="1.1" dy="0.4">1</tspan></text>
<line x1="95.7" x2="127.6" y1="547.75" y2="547.75" stroke="#DF536B" class="lg"/>
<text transform="translate(142.5,553.95)" class="tl lt">2</text>
<line x1="95.7" x2="127.6" y1="568.65" y2="568.65" stroke="#61D04F" class="lg"/>
<text transform="translate(142.5,574.85)" class="tl lt">3</text>
<line x1="95.7" x2="127.6" y1="589.55" y2="589.55" stroke="#2297E6" class="lg"/>
<text transform="translate(142.5,595.75)" class="tl lt">4</text>
<line x1="95.7" x2="127.6" y1="610.45" y2="610.45" stroke="#28E2E5" class="lg"/>
<text transform="translate(142.5,616.65)" class="tl lt">5</text>
<text transform="translate(381.4,969.50) scale(1,1.01)" class="ti" text-anchor="middle">Item Response Category Characteristic Curves - Item: I6</text>
<path d="M102.59,998.20 L103.99,998.21 L105.39,998.21 L106.79,998.21 L108.19,998.21 L109.59,998.21 L110.99,998.21 L112.39,998.21 L113.79,998.21 L115.19,998.21 L116.59,998.21 L117.99,998.21 L119.39,998.21 L120.79,998.21 L122.19,998.21 L123.59,998.21 L124.98,998.22 L126.38,998.22 L127.78,998.22 L129.18,998.22 L130.58,998.22 L131.98,998.22 L133.38,998.22 L134.78,998.23 L136.18,998.23 L137.58,998.23 L138.98,998.23 L140.38,998.23 L141.78,998.24 L143.18,998.24 L144.58,998.24 L145.98,998.25 L147.38,998.25 L148.78,998.25 L150.18,998.26 L151.58,998.26 L152.98,998.27 L154.38,998.27 L155.78,998.28 L157.18,998.28 L158.58,998.29 L159.98,998.29 L161.38,998.30 L162.78,998.31 L164.18,998.32 L165.58,998.33 L166.98,998.34 L168.38,998.35 L169.78,998.36 L171.18,998.37 L172.58,998.38 L173.98,998.40 L175.38,998.41 L176.78,998.43 L178.18,998.44 L179.58,998.46 L180.98,998.48 L182.38,998.50 L183.78,998.53 L185.18,998.55 L186.58,998.58 L187.98,998.60 L189.38,998.63 L190.78,998.67 L192.18,998.70 L193.58,998.74 L194.98,998.78 L196.38,998.82 L197.78,998.87 L199.17,998.92 L200.57,998.98 L201.97,999.03 L203.37,999.10 L204.77,999.16 L206.17,999.24 L207.57,999.31 L208.97,999.40 L210.37,999.49 L211.77,999.58 L213.17,999.69 L214.57,999.80 L215.97,999.92 L217.37,1000.04 L218.77,1000.18 L220.17,1000.33 L221.57,1000.49 L222.97,1000.66 L224.37,1000.84 L225.77,1001.04 L227.17,1001.25 L228.57,1001.48 L229.97,1001.72 L231.37,1001.99 L232.77,1002.27 L234.17,1002.57 L235.57,1002.89 L236.97,1003.24 L238.37,1003.61 L239.77,1004.01 L241.17,1004.44 L242.57,1004.90 L243.97,1005.39 L245.37,1005.92 L246.77,1006.48 L248.17,1007.09 L249.57,1007.73 L250.97,1008.43 L252.37,1009.17 L253.77,1009.96 L255.17,1010.81 L256.57,1011.72 L257.97,1012.69 L259.37,1013.72 L260.77,1014.82 L262.17,1016.00 L263.57,1017.26 L264.97,1018.60 L266.37,1020.02 L267.77,1021.54 L269.17,1023.15 L270.57,1024.87 L271.96,1026.69 L273.36,1028.62 L274.76,1030.66 L276.16,1032.83 L277.56,1035.12 L278.96,1037.54 L280.36,1040.10 L281.76,1042.79 L283.16,1045.63 L284.56,1048.61 L285.96,1051.74 L287.36,1055.02 L288.76,1058.46 L290.16,1062.05 L291.56,1065.79 L292.96,1069.69 L294.36,1073.75 L295.76,1077.95 L297.16,1082.31 L298.56,1086.81 L299.96,1091.45 L301.36,1096.22 L302.76,1101.12 L304.16,1106.14 L305.56,1111.27 L306.96,1116.50 L308.36,1121.81 L309.76,1127.20 L311.16,1132.65 L312.56,1138.16 L313.96,1143.69 L315.36,1149.25 L316.76,1154.82 L318.16,1160.37 L319.56,1165.90 L320.96,1171.40 L322.36,1176.85 L323.76,1182.23 L325.16,1187.53 L326.56,1192.74 L327.96,1197.86 L329.36,1202.86 L330.76,1207.74 L332.16,1212.50 L333.56,1217.12 L334.96,1221.60 L336.36,1225.94 L337.76,1230.12 L339.16,1234.16 L340.56,1238.03 L341.96,1241.76 L343.36,1245.33 L344.76,1248.74 L346.15,1252.00 L347.55,1255.11 L348.95,1258.07 L350.35,1260.89 L351.75,1263.56 L353.15,1266.10 L354.55,1268.50 L355.95,1270.78 L357.35,1272.93 L358.75,1274.96 L360.15,1276.87 L361.55,1278.68 L362.95,1280.38 L364.35,1281.98 L365.75,1283.48 L367.15,1284.89 L368.55,1286.22 L369.95,1287.46 L371.35,1288.63 L372.75,1289.73 L374.15,1290.75 L375.55,1291.71 L376.95,1292.61 L378.35,1293.45 L379.75,1294.24 L381.15,1294.97 L382.55,1295.66 L383.95,1296.30 L385.35,1296.90 L386.75,1297.46 L388.15,1297.98 L389.55,1298.47 L390.95,1298.92 L392.35,1299.35 L393.75,1299.74 L395.15,1300.11 L396.55,1300.45 L397.95,1300.78 L399.35,1301.07 L400.75,1301.35 L402.15,1301.61 L403.55,1301.85 L404.95,1302.08 L406.35,1302.29 L407.75,1302.48 L409.15,1302.66 L410.55,1302.83 L411.95,1302.99 L413.35,1303.14 L414.75,1303.27 L416.15,1303.40 L417.55,1303.52 L418.94,1303.63 L420.34,1303.73 L421.74,1303.83 L423.14,1303.92 L424.54,1304.00 L425.94,1304.08 L427.34,1304.15 L428.74,1304.21 L430.14,1304.27 L431.54,1304.33 L432.94,1304.39 L434.34,1304.44 L435.74,1304.48 L437.14,1304.53 L438.54,1304.57 L439.94,1304.60 L441.34,1304.64 L442.74,1304.67 L444.14,1304.70 L445.54,1304.73 L446.94,1304.75 L448.34,1304.78 L449.74,1304.80 L451.14,1304.82 L452.54,1304.84 L453.94,1304.86 L455.34,1304.88 L456.74,1304.89 L458.14,1304.91 L459.54,1304.92 L460.94,1304.93 L462.34,1304.94 L463.74,1304.95 L465.14,1304.97 L466.54,1304.97 L467.94,1304.98 L469.34,1304.99 L470.74,1305.00 L472.14,1305.01 L473.54,1305.01 L474.94,1305.02 L476.34,1305.02 L477.74,1305.03 L479.14,1305.03 L480.54,1305.04 L481.94,1305.04 L483.34,1305.05 L484.74,1305.05 L486.14,1305.05 L487.54,1305.06 L488.94,1305.06 L490.34,1305.06 L491.74,1305.07 L493.13,1305.07 L494.53,1305.07 L495.93,1305.07 L497.33,1305.07 L498.73,1305.08 L500.13,1305.08 L501.53,1305.08 L502.93,1305.08 L504.33,1305.08 L505.73,1305.08 L507.13,1305.08 L508.53,1305.09 L509.93,1305.09 L511.33,1305.09 L512.73,1305.09 L514.13,1305.09 L515.53,1305.09 L516.93,1305.09 L518.33,1305.09 L519.73,1305.09 L521.13,1305.09 L522.53,1305.09 L523.93,1305.09 L525.33,1305.09 L526.73,1305.09 L528.13,1305.09 L529.53,1305.10 L530.93,1305.10 L532.33,1305.10 L533.73,1305.10 L535.13,1305.10 L536.53,1305.10 L537.93,1305.10 L539.33,1305.10 L540.73,1305.10 L542.13,1305.10 L543.53,1305.10 L544.93,1305.10 L546.33,1305.10 L547.73,1305.10 L549.13,1305.10 L550.53,1305.10 L551.93,1305.10 L553.33,1305.10 L554.73,1305.10 L556.13,1305.10 L557.53,1305.10 L558.93,1305.10 L560.33,1305.10 L561.73,1305.10 L563.13,1305.10 L564.53,1305.10 L565.92,1305.10 L567.32,1305.10 L568.72,1305.10 L570.12,1305.10 L571.52,1305.10 L572.92,1305.10 L574.32,1305.10 L575.72,1305.10 L577.12,1305.10 L578.52,1305.10 L579.92,1305.10 L581.32,1305.10 L582.72,1305.10 L584.12,1305.10 L585.52,1305.10 L586.92,1305.10 L588.32,1305.10 L589.72,1305.10 L591.12,1305.10 L592.52,1305.10 L593.92,1305.10 L595.32,1305.10 L596.72,1305.10 L598.12,1305.10 L599.52,1305.10 L600.92,1305.10 L602.32,1305.10 L603.72,1305.10 L605.12,1305.10 L606.52,1305.10 L607.92,1305.10 L609.32,1305.10 L610.72,1305.10 L612.12,1305.10 L613.52,1305.10 L614.92,1305.10 L616.32,1305.10 L617.72,1305.10 L619.12,1305.10 L620.52,1305.10 L621.92,1305.10 L623.32,1305.10 L624.72,1305.10 L626.12,1305.10 L627.52,1305.10 L628.92,1305.10 L630.32,1305.10 L631.72,1305.10 L633.12,1305.10 L634.52,1305.10 L635.92,1305.10 L637.32,1305.10 L638.72,1305.10 L640.11,1305.10 L641.51,1305.10 L642.91,1305.10 L644.31,1305.10 L645.71,1305.10 L647.11,1305.10 L648.51,1305.10 L649.91,1305.10 L651.31,1305.10 L652.71,1305.10 L654.11,1305.10 L655.51,1305.10 L656.91,1305.10 L658.31,1305.10 L659.71,1305.10 L661.11,1305.10" stroke="#000000" class="cv k"/>
<path d="M102.59,1305.10 L103.99,1305.09 L105.39,1305.09 L106.79,1305.09 L108.19,1305.09 L109.59,1305.09 L110.99,1305.09 L112.39,1305.09 L113.79,1305.09 L115.19,1305.09 L116.59,1305.09 L117.99,1305.09 L119.39,1305.09 L120.79,1305.09 L122.19,1305.09 L123.59,1305.09 L124.98,1305.08 L126.38,1305.08 L127.78,1305.08 L129.18,1305.08 L130.58,1305.08 L131.98,1305.08 L133.38,1305.08 L134.78,1305.07 L136.18,1305.07 L137.58,1305.07 L138.98,1305.07 L140.38,1305.07 L141.78,1305.06 L143.18,1305.06 L144.58,1305.06 L145.98,1305.06 L147.38,1305.05 L148.78,1305.05 L150.18,1305.04 L151.58,1305.04 L152.98,1305.04 L154.38,1305.03 L155.78,1305.03 L157.18,1305.02 L158.58,1305.01 L159.98,1305.01 L161.38,1305.00 L162.78,1304.99 L164.18,1304.99 L165.58,1304.98 L166.98,1304.97 L168.38,1304.96 L169.78,1304.95 L171.18,1304.93 L172.58,1304.92 L173.98,1304.91 L175.38,1304.89 L176.78,1304.88 L178.18,1304.86 L179.58,1304.85 L180.98,1304.83 L182.38,1304.81 L183.78,1304.78 L185.18,1304.76 L186.58,1304.73 L187.98,1304.71 L189.38,1304.68 L190.78,1304.64 L192.18,1304.61 L193.58,1304.57 L194.98,1304.53 L196.38,1304.49 L197.78,1304.45 L199.17,1304.40 L200.57,1304.34 L201.97,1304.29 L203.37,1304.23 L204.77,1304.16 L206.17,1304.09 L207.57,1304.02 L208.97,1303.93 L210.37,1303.85 L211.77,1303.75 L213.17,1303.65 L214.57,1303.54 L215.97,1303.43 L217.37,1303.30 L218.77,1303.17 L220.17,1303.02 L221.57,1302.87 L222.97,1302.70 L224.37,1302.52 L225.77,1302.33 L227.17,1302.13 L228.57,1301.90 L229.97,1301.67 L231.37,1301.41 L232.77,1301.14 L234.17,1300.84 L235.57,1300.53 L236.97,1300.19 L238.37,1299.83 L239.77,1299.44 L241.17,1299.02 L242.57,1298.58 L243.97,1298.10 L245.37,1297.58 L246.77,1297.03 L248.17,1296.44 L249.57,1295.81 L250.97,1295.14 L252.37,1294.42 L253.77,1293.65 L255.17,1292.82 L256.57,1291.94 L257.97,1291.00 L259.37,1289.99 L260.77,1288.92 L262.17,1287.77 L263.57,1286.55 L264.97,1285.25 L266.37,1283.87 L267.77,1282.40 L269.17,1280.83 L270.57,1279.17 L271.96,1277.40 L273.36,1275.53 L274.76,1273.55 L276.16,1271.45 L277.56,1269.23 L278.96,1266.89 L280.36,1264.42 L281.76,1261.82 L283.16,1259.08 L284.56,1256.20 L285.96,1253.19 L287.36,1250.03 L288.76,1246.72 L290.16,1243.27 L291.56,1239.68 L292.96,1235.94 L294.36,1232.06 L295.76,1228.04 L297.16,1223.89 L298.56,1219.60 L299.96,1215.19 L301.36,1210.67 L302.76,1206.03 L304.16,1201.30 L305.56,1196.48 L306.96,1191.58 L308.36,1186.62 L309.76,1181.61 L311.16,1176.56 L312.56,1171.50 L313.96,1166.43 L315.36,1161.37 L316.76,1156.34 L318.16,1151.36 L319.56,1146.44 L320.96,1141.61 L322.36,1136.87 L323.76,1132.24 L325.16,1127.75 L326.56,1123.40 L327.96,1119.20 L329.36,1115.19 L330.76,1111.36 L332.16,1107.72 L333.56,1104.30 L334.96,1101.10 L336.36,1098.12 L337.76,1095.38 L339.16,1092.89 L340.56,1090.65 L341.96,1088.67 L343.36,1086.95 L344.76,1085.49 L346.15,1084.31 L347.55,1083.40 L348.95,1082.76 L350.35,1082.40 L351.75,1082.32 L353.15,1082.51 L354.55,1082.98 L355.95,1083.73 L357.35,1084.75 L358.75,1086.04 L360.15,1087.60 L361.55,1089.42 L362.95,1091.51 L364.35,1093.85 L365.75,1096.44 L367.15,1099.27 L368.55,1102.34 L369.95,1105.63 L371.35,1109.14 L372.75,1112.85 L374.15,1116.76 L375.55,1120.85 L376.95,1125.10 L378.35,1129.51 L379.75,1134.06 L381.15,1138.74 L382.55,1143.52 L383.95,1148.39 L385.35,1153.33 L386.75,1158.33 L388.15,1163.37 L389.55,1168.44 L390.95,1173.51 L392.35,1178.57 L393.75,1183.60 L395.15,1188.60 L396.55,1193.53 L397.95,1198.40 L399.35,1203.19 L400.75,1207.88 L402.15,1212.48 L403.55,1216.96 L404.95,1221.32 L406.35,1225.55 L407.75,1229.65 L409.15,1233.62 L410.55,1237.44 L411.95,1241.12 L413.35,1244.66 L414.75,1248.05 L416.15,1251.30 L417.55,1254.40 L418.94,1257.36 L420.34,1260.18 L421.74,1262.87 L423.14,1265.42 L424.54,1267.84 L425.94,1270.13 L427.34,1272.30 L428.74,1274.35 L430.14,1276.29 L431.54,1278.12 L432.94,1279.84 L434.34,1281.46 L435.74,1282.99 L437.14,1284.43 L438.54,1285.78 L439.94,1287.05 L441.34,1288.24 L442.74,1289.35 L444.14,1290.40 L445.54,1291.38 L446.94,1292.30 L448.34,1293.15 L449.74,1293.96 L451.14,1294.71 L452.54,1295.41 L453.94,1296.07 L455.34,1296.68 L456.74,1297.26 L458.14,1297.79 L459.54,1298.29 L460.94,1298.76 L462.34,1299.19 L463.74,1299.60 L465.14,1299.98 L466.54,1300.33 L467.94,1300.66 L469.34,1300.96 L470.74,1301.25 L472.14,1301.51 L473.54,1301.76 L474.94,1301.99 L476.34,1302.21 L477.74,1302.41 L479.14,1302.60 L480.54,1302.77 L481.94,1302.93 L483.34,1303.08 L484.74,1303.22 L486.14,1303.35 L487.54,1303.47 L488.94,1303.59 L490.34,1303.69 L491.74,1303.79 L493.13,1303.88 L494.53,1303.97 L495.93,1304.05 L497.33,1304.12 L498.73,1304.19 L500.13,1304.25 L501.53,1304.31 L502.93,1304.37 L504.33,1304.42 L505.73,1304.46 L507.13,1304.51 L508.53,1304.55 L509.93,1304.59 L511.33,1304.62 L512.73,1304.66 L514.13,1304.69 L515.53,1304.72 L516.93,1304.74 L518.33,1304.77 L519.73,1304.79 L521.13,1304.81 L522.53,1304.83 L523.93,1304.85 L525.33,1304.87 L526.73,1304.89 L528.13,1304.90 L529.53,1304.91 L530.93,1304.93 L532.33,1304.94 L533.73,1304.95 L535.13,1304.96 L536.53,1304.97 L537.93,1304.98 L539.33,1304.99 L540.73,1305.00 L542.13,1305.00 L543.53,1305.01 L544.93,1305.02 L546.33,1305.02 L547.73,1305.03 L549.13,1305.03 L550.53,1305.04 L551.93,1305.04 L553.33,1305.05 L554.73,1305.05 L556.13,1305.05 L557.53,1305.06 L558.93,1305.06 L560.33,1305.06 L561.73,1305.07 L563.13,1305.07 L564.53,1305.07 L565.92,1305.07 L567.32,1305.07 L568.72,1305.08 L570.12,1305.08 L571.52,1305.08 L572.92,1305.08 L574.32,1305.08 L575.72,1305.08 L577.12,1305.08 L578.52,1305.09 L579.92,1305.09 L581.32,1305.09 L582.72,1305.09 L584.12,1305.09 L585.52,1305.09 L586.92,1305.09 L588.32,1305.09 L589.72,1305.09 L591.12,1305.09 L592.52,1305.09 L593.92,1305.09 L595.32,1305.09 L596.72,1305.09 L598.12,1305.09 L599.52,1305.10 L600.92,1305.10 L602.32,1305.10 L603.72,1305.10 L605.12,1305.10 L606.52,1305.10 L607.92,1305.10 L609.32,1305.10 L610.72,1305.10 L612.12,1305.10 L613.52,1305.10 L614.92,1305.10 L616.32,1305.10 L617.72,1305.10 L619.12,1305.10 L620.52,1305.10 L621.92,1305.10 L623.32,1305.10 L624.72,1305.10 L626.12,1305.10 L627.52,1305.10 L628.92,1305.10 L630.32,1305.10 L631.72,1305.10 L633.12,1305.10 L634.52,1305.10 L635.92,1305.10 L637.32,1305.10 L638.72,1305.10 L640.11,1305.10 L641.51,1305.10 L642.91,1305.10 L644.31,1305.10 L645.71,1305.10 L647.11,1305.10 L648.51,1305.10 L649.91,1305.10 L651.31,1305.10 L652.71,1305.10 L654.11,1305.10 L655.51,1305.10 L656.91,1305.10 L658.31,1305.10 L659.71,1305.10 L661.11,1305.10" stroke="#DF536B" class="cv"/>
<path d="M102.59,1305.10 L103.99,1305.10 L105.39,1305.10 L106.79,1305.10 L108.19,1305.10 L109.59,1305.10 L110.99,1305.10 L112.39,1305.10 L113.79,1305.10 L115.19,1305.10 L116.59,1305.10 L117.99,1305.10 L119.39,1305.10 L120.79,1305.10 L122.19,1305.10 L123.59,1305.10 L124.98,1305.10 L126.38,1305.10 L127.78,1305.10 L129.18,1305.10 L130.58,1305.10 L131.98,1305.10 L133.38,1305.10 L134.78,1305.10 L136.18,1305.10 L137.58,1305.10 L138.98,1305.10 L140.38,1305.10 L141.78,1305.10 L143.18,1305.10 L144.58,1305.10 L145.98,1305.10 L147.38,1305.10 L148.78,1305.10 L150.18,1305.10 L151.58,1305.10 L152.98,1305.10 L154.38,1305.10 L155.78,1305.10 L157.18,1305.10 L158.58,1305.10 L159.98,1305.10 L161.38,1305.10 L162.78,1305.10 L164.18,1305.10 L165.58,1305.10 L166.98,1305.10 L168.38,1305.10 L169.78,1305.10 L171.18,1305.10 L172.58,1305.10 L173.98,1305.10 L175.38,1305.09 L176.78,1305.09 L178.18,1305.09 L179.58,1305.09 L180.98,1305.09 L182.38,1305.09 L183.78,1305.09 L185.18,1305.09 L186.58,1305.09 L187.98,1305.09 L189.38,1305.09 L190.78,1305.09 L192.18,1305.09 L193.58,1305.09 L194.98,1305.09 L196.38,1305.08 L197.78,1305.08 L199.17,1305.08 L200.57,1305.08 L201.97,1305.08 L203.37,1305.08 L204.77,1305.08 L206.17,1305.07 L207.57,1305.07 L208.97,1305.07 L210.37,1305.07 L211.77,1305.07 L213.17,1305.06 L214.57,1305.06 L215.97,1305.06 L217.37,1305.05 L218.77,1305.05 L220.17,1305.05 L221.57,1305.04 L222.97,1305.04 L224.37,1305.03 L225.77,1305.03 L227.17,1305.02 L228.57,1305.02 L229.97,1305.01 L231.37,1305.01 L232.77,1305.00 L234.17,1304.99 L235.57,1304.98 L236.97,1304.97 L238.37,1304.96 L239.77,1304.95 L241.17,1304.94 L242.57,1304.93 L243.97,1304.92 L245.37,1304.91 L246.77,1304.89 L248.17,1304.87 L249.57,1304.86 L250.97,1304.84 L252.37,1304.82 L253.77,1304.80 L255.17,1304.78 L256.57,1304.75 L257.97,1304.73 L259.37,1304.70 L260.77,1304.67 L262.17,1304.64 L263.57,1304.60 L264.97,1304.56 L266.37,1304.52 L267.77,1304.48 L269.17,1304.43 L270.57,1304.38 L271.96,1304.33 L273.36,1304.27 L274.76,1304.21 L276.16,1304.14 L277.56,1304.07 L278.96,1303.99 L280.36,1303.91 L281.76,1303.82 L283.16,1303.73 L284.56,1303.62 L285.96,1303.51 L287.36,1303.39 L288.76,1303.27 L290.16,1303.13 L291.56,1302.98 L292.96,1302.82 L294.36,1302.65 L295.76,1302.47 L297.16,1302.28 L298.56,1302.07 L299.96,1301.84 L301.36,1301.60 L302.76,1301.34 L304.16,1301.06 L305.56,1300.76 L306.96,1300.44 L308.36,1300.09 L309.76,1299.72 L311.16,1299.33 L312.56,1298.90 L313.96,1298.45 L315.36,1297.96 L316.76,1297.43 L318.16,1296.87 L319.56,1296.27 L320.96,1295.63 L322.36,1294.94 L323.76,1294.21 L325.16,1293.42 L326.56,1292.58 L327.96,1291.68 L329.36,1290.72 L330.76,1289.70 L332.16,1288.60 L333.56,1287.44 L334.96,1286.19 L336.36,1284.87 L337.76,1283.46 L339.16,1281.96 L340.56,1280.37 L341.96,1278.68 L343.36,1276.89 L344.76,1274.98 L346.15,1272.97 L347.55,1270.83 L348.95,1268.58 L350.35,1266.20 L351.75,1263.69 L353.15,1261.05 L354.55,1258.27 L355.95,1255.35 L357.35,1252.29 L358.75,1249.09 L360.15,1245.74 L361.55,1242.24 L362.95,1238.60 L364.35,1234.82 L365.75,1230.89 L367.15,1226.83 L368.55,1222.63 L369.95,1218.30 L371.35,1213.85 L372.75,1209.28 L374.15,1204.60 L375.55,1199.83 L376.95,1194.97 L378.35,1190.04 L379.75,1185.04 L381.15,1180.00 L382.55,1174.93 L383.95,1169.83 L385.35,1164.74 L386.75,1159.66 L388.15,1154.62 L389.55,1149.62 L390.95,1144.69 L392.35,1139.84 L393.75,1135.09 L395.15,1130.46 L396.55,1125.96 L397.95,1121.60 L399.35,1117.41 L400.75,1113.38 L402.15,1109.55 L403.55,1105.91 L404.95,1102.48 L406.35,1099.28 L407.75,1096.30 L409.15,1093.55 L410.55,1091.05 L411.95,1088.80 L413.35,1086.80 L414.75,1085.06 L416.15,1083.59 L417.55,1082.38 L418.94,1081.45 L420.34,1080.78 L421.74,1080.39 L423.14,1080.27 L424.54,1080.42 L425.94,1080.85 L427.34,1081.55 L428.74,1082.52 L430.14,1083.76 L431.54,1085.27 L432.94,1087.04 L434.34,1089.07 L435.74,1091.36 L437.14,1093.89 L438.54,1096.67 L439.94,1099.68 L441.34,1102.91 L442.74,1106.37 L444.14,1110.03 L445.54,1113.89 L446.94,1117.94 L448.34,1122.15 L449.74,1126.53 L451.14,1131.05 L452.54,1135.70 L453.94,1140.46 L455.34,1145.32 L456.74,1150.26 L458.14,1155.26 L459.54,1160.31 L460.94,1165.40 L462.34,1170.49 L463.74,1175.58 L465.14,1180.65 L466.54,1185.69 L467.94,1190.68 L469.34,1195.60 L470.74,1200.45 L472.14,1205.21 L473.54,1209.87 L474.94,1214.43 L476.34,1218.86 L477.74,1223.18 L479.14,1227.36 L480.54,1231.41 L481.94,1235.31 L483.34,1239.08 L484.74,1242.70 L486.14,1246.18 L487.54,1249.51 L488.94,1252.69 L490.34,1255.74 L491.74,1258.64 L493.13,1261.40 L494.53,1264.02 L495.93,1266.51 L497.33,1268.88 L498.73,1271.12 L500.13,1273.23 L501.53,1275.23 L502.93,1277.12 L504.33,1278.90 L505.73,1280.58 L507.13,1282.16 L508.53,1283.65 L509.93,1285.05 L511.33,1286.36 L512.73,1287.59 L514.13,1288.75 L515.53,1289.83 L516.93,1290.85 L518.33,1291.80 L519.73,1292.69 L521.13,1293.52 L522.53,1294.30 L523.93,1295.03 L525.33,1295.72 L526.73,1296.35 L528.13,1296.95 L529.53,1297.50 L530.93,1298.02 L532.33,1298.51 L533.73,1298.96 L535.13,1299.38 L536.53,1299.77 L537.93,1300.14 L539.33,1300.48 L540.73,1300.80 L542.13,1301.09 L543.53,1301.37 L544.93,1301.63 L546.33,1301.87 L547.73,1302.09 L549.13,1302.30 L550.53,1302.50 L551.93,1302.68 L553.33,1302.84 L554.73,1303.00 L556.13,1303.15 L557.53,1303.28 L558.93,1303.41 L560.33,1303.53 L561.73,1303.64 L563.13,1303.74 L564.53,1303.83 L565.92,1303.92 L567.32,1304.00 L568.72,1304.08 L570.12,1304.15 L571.52,1304.22 L572.92,1304.28 L574.32,1304.34 L575.72,1304.39 L577.12,1304.44 L578.52,1304.49 L579.92,1304.53 L581.32,1304.57 L582.72,1304.61 L584.12,1304.64 L585.52,1304.67 L586.92,1304.70 L588.32,1304.73 L589.72,1304.76 L591.12,1304.78 L592.52,1304.80 L593.92,1304.82 L595.32,1304.84 L596.72,1304.86 L598.12,1304.88 L599.52,1304.89 L600.92,1304.91 L602.32,1304.92 L603.72,1304.93 L605.12,1304.94 L606.52,1304.96 L607.92,1304.97 L609.32,1304.98 L610.72,1304.98 L612.12,1304.99 L613.52,1305.00 L614.92,1305.01 L616.32,1305.01 L617.72,1305.02 L619.12,1305.02 L620.52,1305.03 L621.92,1305.03 L623.32,1305.04 L624.72,1305.04 L626.12,1305.05 L627.52,1305.05 L628.92,1305.05 L630.32,1305.06 L631.72,1305.06 L633.12,1305.06 L634.52,1305.07 L635.92,1305.07 L637.32,1305.07 L638.72,1305.07 L640.11,1305.07 L641.51,1305.08 L642.91,1305.08 L644.31,1305.08 L645.71,1305.08 L647.11,1305.08 L648.51,1305.08 L649.91,1305.08 L651.31,1305.09 L652.71,1305.09 L654.11,1305.09 L655.51,1305.09 L656.91,1305.09 L658.31,1305.09 L659.71,1305.09 L661.11,1305.09" stroke="#61D04F" class="cv"/>
<path d="M102.59,1305.10 L103.99,1305.10 L105.39,1305.10 L106.79,1305.10 L108.19,1305.10 L109.59,1305.10 L110.99,1305.10 L112.39,1305.10 L113.79,1305.10 L115.19,1305.10 L116.59,1305.10 L117.99,1305.10 L119.39,1305.10 L120.79,1305.10 L122.19,1305.10 L123.59,1305.10 L124.98,1305.10 L126.38,1305.10 L127.78,1305.10 L129.18,1305.10 L130.58,1305.10 L131.98,1305.10 L133.38,1305.10 L134.78,1305.10 L136.18,1305.10 L137.58,1305.10 L138.98,1305.10 L140.38,1305.10 L141.78,1305.10 L143.18,1305.10 L144.58,1305.10 L145.98,1305.10 L147.38,1305.10 L148.78,1305.10 L150.18,1305.10 L151.58,1305.10 L152.98,1305.10 L154.38,1305.10 L155.78,1305.10 L157.18,1305.10 L158.58,1305.10 L159.98,1305.10 L161.38,1305.10 L162.78,1305.10 L164.18,1305.10 L165.58,1305.10 L166.98,1305.10 L168.38,1305.10 L169.78,1305.10 L171.18,1305.10 L172.58,1305.10 L173.98,1305.10 L175.38,1305.10 L176.78,1305.10 L178.18,1305.10 L179.58,1305.10 L180.98,1305.10 L182.38,1305.10 L183.78,1305.10 L185.18,1305.10 L186.58,1305.10 L187.98,1305.10 L189.38,1305.10 L190.78,1305.10 L192.18,1305.10 L193.58,1305.10 L194.98,1305.10 L196.38,1305.10 L197.78,1305.10 L199.17,1305.10 L200.57,1305.10 L201.97,1305.10 L203.37,1305.10 L204.77,1305.10 L206.17,1305.10 L207.57,1305.10 L208.97,1305.10 L210.37,1305.10 L211.77,1305.10 L213.17,1305.10 L214.57,1305.10 L215.97,1305.10 L217.37,1305.10 L218.77,1305.10 L220.17,1305.10 L221.57,1305.10 L222.97,1305.10 L224.37,1305.10 L225.77,1305.10 L227.17,1305.10 L228.57,1305.10 L229.97,1305.10 L231.37,1305.10 L232.77,1305.10 L234.17,1305.10 L235.57,1305.10 L236.97,1305.10 L238.37,1305.10 L239.77,1305.10 L241.17,1305.10 L242.57,1305.10 L243.97,1305.10 L245.37,1305.10 L246.77,1305.10 L248.17,1305.09 L249.57,1305.09 L250.97,1305.09 L252.37,1305.09 L253.77,1305.09 L255.17,1305.09 L256.57,1305.09 L257.97,1305.09 L259.37,1305.09 L260.77,1305.09 L262.17,1305.09 L263.57,1305.09 L264.97,1305.09 L266.37,1305.09 L267.77,1305.09 L269.17,1305.08 L270.57,1305.08 L271.96,1305.08 L273.36,1305.08 L274.76,1305.08 L276.16,1305.08 L277.56,1305.08 L278.96,1305.07 L280.36,1305.07 L281.76,1305.07 L283.16,1305.07 L284.56,1305.07 L285.96,1305.06 L287.36,1305.06 L288.76,1305.06 L290.16,1305.05 L291.56,1305.05 L292.96,1305.05 L294.36,1305.04 L295.76,1305.04 L297.16,1305.03 L298.56,1305.03 L299.96,1305.02 L301.36,1305.02 L302.76,1305.01 L304.16,1305.01 L305.56,1305.00 L306.96,1304.99 L308.36,1304.98 L309.76,1304.97 L311.16,1304.96 L312.56,1304.95 L313.96,1304.94 L315.36,1304.93 L316.76,1304.92 L318.16,1304.91 L319.56,1304.89 L320.96,1304.87 L322.36,1304.86 L323.76,1304.84 L325.16,1304.82 L326.56,1304.80 L327.96,1304.78 L329.36,1304.75 L330.76,1304.73 L332.16,1304.70 L333.56,1304.67 L334.96,1304.64 L336.36,1304.60 L337.76,1304.56 L339.16,1304.52 L340.56,1304.48 L341.96,1304.43 L343.36,1304.38 L344.76,1304.33 L346.15,1304.27 L347.55,1304.21 L348.95,1304.14 L350.35,1304.07 L351.75,1303.99 L353.15,1303.91 L354.55,1303.82 L355.95,1303.73 L357.35,1303.62 L358.75,1303.51 L360.15,1303.39 L361.55,1303.27 L362.95,1303.13 L364.35,1302.98 L365.75,1302.82 L367.15,1302.66 L368.55,1302.47 L369.95,1302.28 L371.35,1302.07 L372.75,1301.84 L374.15,1301.60 L375.55,1301.34 L376.95,1301.06 L378.35,1300.76 L379.75,1300.44 L381.15,1300.10 L382.55,1299.73 L383.95,1299.33 L385.35,1298.91 L386.75,1298.46 L388.15,1297.97 L389.55,1297.45 L390.95,1296.89 L392.35,1296.29 L393.75,1295.65 L395.15,1294.97 L396.55,1294.23 L397.95,1293.45 L399.35,1292.62 L400.75,1291.72 L402.15,1290.77 L403.55,1289.75 L404.95,1288.67 L406.35,1287.51 L407.75,1286.28 L409.15,1284.97 L410.55,1283.58 L411.95,1282.09 L413.35,1280.52 L414.75,1278.85 L416.15,1277.08 L417.55,1275.20 L418.94,1273.22 L420.34,1271.12 L421.74,1268.91 L423.14,1266.58 L424.54,1264.12 L425.94,1261.54 L427.34,1258.82 L428.74,1255.98 L430.14,1253.00 L431.54,1249.89 L432.94,1246.65 L434.34,1243.28 L435.74,1239.77 L437.14,1236.13 L438.54,1232.37 L439.94,1228.49 L441.34,1224.49 L442.74,1220.39 L444.14,1216.18 L445.54,1211.88 L446.94,1207.51 L448.34,1203.06 L449.74,1198.56 L451.14,1194.02 L452.54,1189.45 L453.94,1184.87 L455.34,1180.30 L456.74,1175.75 L458.14,1171.24 L459.54,1166.79 L460.94,1162.43 L462.34,1158.16 L463.74,1154.00 L465.14,1149.98 L466.54,1146.12 L467.94,1142.42 L469.34,1138.91 L470.74,1135.61 L472.14,1132.52 L473.54,1129.67 L474.94,1127.07 L476.34,1124.73 L477.74,1122.65 L479.14,1120.85 L480.54,1119.35 L481.94,1118.13 L483.34,1117.22 L484.74,1116.61 L486.14,1116.31 L487.54,1116.31 L488.94,1116.63 L490.34,1117.25 L491.74,1118.18 L493.13,1119.40 L494.53,1120.92 L495.93,1122.73 L497.33,1124.81 L498.73,1127.17 L500.13,1129.78 L501.53,1132.64 L502.93,1135.74 L504.33,1139.05 L505.73,1142.56 L507.13,1146.26 L508.53,1150.14 L509.93,1154.16 L511.33,1158.32 L512.73,1162.60 L514.13,1166.97 L515.53,1171.42 L516.93,1175.93 L518.33,1180.48 L519.73,1185.05 L521.13,1189.63 L522.53,1194.20 L523.93,1198.74 L525.33,1203.24 L526.73,1207.68 L528.13,1212.05 L529.53,1216.35 L530.93,1220.55 L532.33,1224.65 L533.73,1228.64 L535.13,1232.52 L536.53,1236.28 L537.93,1239.91 L539.33,1243.41 L540.73,1246.78 L542.13,1250.02 L543.53,1253.12 L544.93,1256.10 L546.33,1258.93 L547.73,1261.64 L549.13,1264.22 L550.53,1266.67 L551.93,1269.00 L553.33,1271.21 L554.73,1273.30 L556.13,1275.28 L557.53,1277.15 L558.93,1278.92 L560.33,1280.58 L561.73,1282.15 L563.13,1283.63 L564.53,1285.02 L565.92,1286.33 L567.32,1287.56 L568.72,1288.71 L570.12,1289.79 L571.52,1290.81 L572.92,1291.76 L574.32,1292.65 L575.72,1293.48 L577.12,1294.26 L578.52,1294.99 L579.92,1295.68 L581.32,1296.32 L582.72,1296.91 L584.12,1297.47 L585.52,1297.99 L586.92,1298.47 L588.32,1298.93 L589.72,1299.35 L591.12,1299.74 L592.52,1300.11 L593.92,1300.46 L595.32,1300.77 L596.72,1301.07 L598.12,1301.35 L599.52,1301.61 L600.92,1301.85 L602.32,1302.08 L603.72,1302.29 L605.12,1302.48 L606.52,1302.66 L607.92,1302.83 L609.32,1302.99 L610.72,1303.14 L612.12,1303.27 L613.52,1303.40 L614.92,1303.52 L616.32,1303.63 L617.72,1303.73 L619.12,1303.83 L620.52,1303.91 L621.92,1304.00 L623.32,1304.07 L624.72,1304.15 L626.12,1304.21 L627.52,1304.27 L628.92,1304.33 L630.32,1304.39 L631.72,1304.43 L633.12,1304.48 L634.52,1304.52 L635.92,1304.56 L637.32,1304.60 L638.72,1304.64 L640.11,1304.67 L641.51,1304.70 L642.91,1304.73 L644.31,1304.75 L645.71,1304.78 L647.11,1304.80 L648.51,1304.82 L649.91,1304.84 L651.31,1304.86 L652.71,1304.88 L654.11,1304.89 L655.51,1304.91 L656.91,1304.92 L658.31,1304.93 L659.71,1304.94 L661.11,1304.95" stroke="#2297E6" class="cv"/>
<path d="M102.59,1305.10 L103.99,1305.10 L105.39,1305.10 L106.79,1305.10 L108.19,1305.10 L109.59,1305.10 L110.99,1305.10 L112.39,1305.10 L113.79,1305.10 L115.19,1305.10 L116.59,1305.10 L117.99,1305.10 L119.39,1305.10 L120.79,1305.10 L122.19,1305.10 L123.59,1305.10 L124.98,1305.10 L126.38,1305.10 L127.78,1305.10 L129.18,1305.10 L130.58,1305.10 L131.98,1305.10 L133.38,1305.10 L134.78,1305.10 L136.18,1305.10 L137.58,1305.10 L138.98,1305.10 L140.38,1305.10 L141.78,1305.10 L143.18,1305.10 L144.58,1305.10 L145.98,1305.10 L147.38,1305.10 L148.78,1305.10 L150.18,1305.10 L151.58,1305.10 L152.98,1305.10 L154.38,1305.10 L155.78,1305.10 L157.18,1305.10 L158.58,1305.10 L159.98,1305.10 L161.38,1305.10 L162.78,1305.10 L164.18,1305.10 L165.58,1305.10 L166.98,1305.10 L168.38,1305.10 L169.78,1305.10 L171.18,1305.10 L172.58,1305.10 L173.98,1305.10 L175.38,1305.10 L176.78,1305.10 L178.18,1305.10 L179.58,1305.10 L180.98,1305.10 L182.38,1305.10 L183.78,1305.10 L185.18,1305.10 L186.58,1305.10 L187.98,1305.10 L189.38,1305.10 L190.78,1305.10 L192.18,1305.10 L193.58,1305.10 L194.98,1305.10 L196.38,1305.10 L197.78,1305.10 L199.17,1305.10 L200.57,1305.10 L201.97,1305.10 L203.37,1305.10 L204.77,1305.10 L206.17,1305.10 L207.57,1305.10 L208.97,1305.10 L210.37,1305.10 L211.77,1305.10 L213.17,1305.10 L214.57,1305.10 L215.97,1305.10 L217.37,1305.10 L218.77,1305.10 L220.17,1305.10 L221.57,1305.10 L222.97,1305.10 L224.37,1305.10 L225.77,1305.10 L227.17,1305.10 L228.57,1305.10 L229.97,1305.10 L231.37,1305.10 L232.77,1305.10 L234.17,1305.10 L235.57,1305.10 L236.97,1305.10 L238.37,1305.10 L239.77,1305.10 L241.17,1305.10 L242.57,1305.10 L243.97,1305.10 L245.37,1305.10 L246.77,1305.10 L248.17,1305.10 L249.57,1305.10 L250.97,1305.10 L252.37,1305.10 L253.77,1305.10 L255.17,1305.10 L256.57,1305.10 L257.97,1305.10 L259.37,1305.10 L260.77,1305.10 L262.17,1305.10 L263.57,1305.10 L264.97,1305.10 L266.37,1305.10 L267.77,1305.10 L269.17,1305.10 L270.57,1305.10 L271.96,1305.10 L273.36,1305.10 L274.76,1305.10 L276.16,1305.10 L277.56,1305.10 L278.96,1305.10 L280.36,1305.10 L281.76,1305.10 L283.16,1305.10 L284.56,1305.10 L285.96,1305.10 L287.36,1305.10 L288.76,1305.10 L290.16,1305.10 L291.56,1305.10 L292.96,1305.10 L294.36,1305.10 L295.76,1305.10 L297.16,1305.10 L298.56,1305.10 L299.96,1305.10 L301.36,1305.10 L302.76,1305.09 L304.16,1305.09 L305.56,1305.09 L306.96,1305.09 L308.36,1305.09 L309.76,1305.09 L311.16,1305.09 L312.56,1305.09 L313.96,1305.09 L315.36,1305.09 L316.76,1305.09 L318.16,1305.09 L319.56,1305.09 L320.96,1305.09 L322.36,1305.09 L323.76,1305.08 L325.16,1305.08 L326.56,1305.08 L327.96,1305.08 L329.36,1305.08 L330.76,1305.08 L332.16,1305.08 L333.56,1305.07 L334.96,1305.07 L336.36,1305.07 L337.76,1305.07 L339.16,1305.07 L340.56,1305.06 L341.96,1305.06 L343.36,1305.06 L344.76,1305.05 L346.15,1305.05 L347.55,1305.05 L348.95,1305.04 L350.35,1305.04 L351.75,1305.03 L353.15,1305.03 L354.55,1305.02 L355.95,1305.02 L357.35,1305.01 L358.75,1305.00 L360.15,1305.00 L361.55,1304.99 L362.95,1304.98 L364.35,1304.97 L365.75,1304.96 L367.15,1304.95 L368.55,1304.94 L369.95,1304.93 L371.35,1304.92 L372.75,1304.90 L374.15,1304.89 L375.55,1304.87 L376.95,1304.85 L378.35,1304.84 L379.75,1304.82 L381.15,1304.79 L382.55,1304.77 L383.95,1304.75 L385.35,1304.72 L386.75,1304.69 L388.15,1304.66 L389.55,1304.63 L390.95,1304.59 L392.35,1304.55 L393.75,1304.51 L395.15,1304.47 L396.55,1304.42 L397.95,1304.37 L399.35,1304.32 L400.75,1304.26 L402.15,1304.19 L403.55,1304.13 L404.95,1304.05 L406.35,1303.97 L407.75,1303.89 L409.15,1303.80 L410.55,1303.70 L411.95,1303.60 L413.35,1303.48 L414.75,1303.36 L416.15,1303.23 L417.55,1303.09 L418.94,1302.94 L420.34,1302.78 L421.74,1302.61 L423.14,1302.42 L424.54,1302.22 L425.94,1302.01 L427.34,1301.78 L428.74,1301.53 L430.14,1301.27 L431.54,1300.98 L432.94,1300.68 L434.34,1300.35 L435.74,1300.00 L437.14,1299.62 L438.54,1299.22 L439.94,1298.79 L441.34,1298.32 L442.74,1297.82 L444.14,1297.29 L445.54,1296.72 L446.94,1296.11 L448.34,1295.45 L449.74,1294.75 L451.14,1294.00 L452.54,1293.20 L453.94,1292.34 L455.34,1291.42 L456.74,1290.44 L458.14,1289.40 L459.54,1288.28 L460.94,1287.09 L462.34,1285.82 L463.74,1284.47 L465.14,1283.03 L466.54,1281.49 L467.94,1279.86 L469.34,1278.13 L470.74,1276.29 L472.14,1274.34 L473.54,1272.28 L474.94,1270.09 L476.34,1267.78 L477.74,1265.33 L479.14,1262.76 L480.54,1260.04 L481.94,1257.18 L483.34,1254.17 L484.74,1251.01 L486.14,1247.71 L487.54,1244.25 L488.94,1240.63 L490.34,1236.86 L491.74,1232.93 L493.13,1228.85 L494.53,1224.62 L495.93,1220.24 L497.33,1215.72 L498.73,1211.05 L500.13,1206.26 L501.53,1201.33 L502.93,1196.30 L504.33,1191.15 L505.73,1185.91 L507.13,1180.58 L508.53,1175.18 L509.93,1169.72 L511.33,1164.21 L512.73,1158.66 L514.13,1153.10 L515.53,1147.54 L516.93,1141.99 L518.33,1136.46 L519.73,1130.97 L521.13,1125.54 L522.53,1120.17 L523.93,1114.88 L525.33,1109.68 L526.73,1104.59 L528.13,1099.60 L529.53,1094.74 L530.93,1090.01 L532.33,1085.41 L533.73,1080.95 L535.13,1076.64 L536.53,1072.48 L537.93,1068.48 L539.33,1064.62 L540.73,1060.93 L542.13,1057.38 L543.53,1054.00 L544.93,1050.76 L546.33,1047.68 L547.73,1044.74 L549.13,1041.95 L550.53,1039.30 L551.93,1036.78 L553.33,1034.40 L554.73,1032.15 L556.13,1030.02 L557.53,1028.01 L558.93,1026.12 L560.33,1024.33 L561.73,1022.65 L563.13,1021.06 L564.53,1019.57 L565.92,1018.18 L567.32,1016.86 L568.72,1015.63 L570.12,1014.48 L571.52,1013.40 L572.92,1012.38 L574.32,1011.43 L575.72,1010.54 L577.12,1009.71 L578.52,1008.94 L579.92,1008.21 L581.32,1007.53 L582.72,1006.90 L584.12,1006.30 L585.52,1005.75 L586.92,1005.23 L588.32,1004.75 L589.72,1004.30 L591.12,1003.88 L592.52,1003.49 L593.92,1003.13 L595.32,1002.79 L596.72,1002.47 L598.12,1002.18 L599.52,1001.90 L600.92,1001.65 L602.32,1001.41 L603.72,1001.19 L605.12,1000.98 L606.52,1000.79 L607.92,1000.61 L609.32,1000.44 L610.72,1000.28 L612.12,1000.14 L613.52,1000.00 L614.92,999.88 L616.32,999.76 L617.72,999.65 L619.12,999.55 L620.52,999.46 L621.92,999.37 L623.32,999.29 L624.72,999.21 L626.12,999.14 L627.52,999.08 L628.92,999.01 L630.32,998.96 L631.72,998.91 L633.12,998.86 L634.52,998.81 L635.92,998.77 L637.32,998.73 L638.72,998.69 L640.11,998.66 L641.51,998.62 L642.91,998.60 L644.31,998.57 L645.71,998.54 L647.11,998.52 L648.51,998.50 L649.91,998.48 L651.31,998.46 L652.71,998.44 L654.11,998.42 L655.51,998.41 L656.91,998.39 L658.31,998.38 L659.71,998.37 L661.11,998.35" stroke="#28E2E5" class="cv"/>
<path d="M682.50,986.20 H80.30 V1316.40 H682.50" class="bx"/>
<line x1="683.30" x2="683.30" y1="985.40" y2="1317.20" class="bxr"/>
<line x1="69.6" x2="80.3" y1="1305.10" y2="1305.10" class="ax"/>
<text transform="translate(54.9,1305.50) rotate(-90) scale(1,1.08)" text-anchor="middle" class="tl">0.0</text>
<line x1="69.6" x2="80.3" y1="1243.72" y2="1243.72" class="ax"/>
<text transform="translate(54.9,1244.12) rotate(-90) scale(1,1.08)" text-anchor="middle" class="tl">0.2</text>
<line x1="69.6" x2="80.3" y1="1182.34" y2="1182.34" class="ax"/>
<text transform="translate(54.9,1182.74) rotate(-90) scale(1,1.08)" text-anchor="middle" class="tl">0.4</text>
<line x1="69.6" x2="80.3" y1="1120.96" y2="1120.96" class="ax"/>
<text transform="translate(54.9,1121.36) rotate(-90) scale(1,1.08)" text-anchor="middle" class="tl">0.6</text>
<line x1="69.6" x2="80.3" y1="1059.58" y2="1059.58" class="ax"/>
<text transform="translate(54.9,1059.98) rotate(-90) scale(1,1.08)" text-anchor="middle" class="tl">0.8</text>
<line x1="69.6" x2="80.3" y1="998.20" y2="998.20" class="ax"/>
<text transform="translate(54.9,998.60) rotate(-90) scale(1,1.08)" text-anchor="middle" class="tl"><tspan class="one">1</tspan><tspan dx="-0.45">.</tspan>0</text>
<line x1="87.89" x2="87.89" y1="1316.40" y2="1326.70" class="ax"/>
<text transform="translate(87.89,1354.80) scale(1,1.02)" text-anchor="middle" class="tl">-4</text>
<line x1="234.87" x2="234.87" y1="1316.40" y2="1326.70" class="ax"/>
<text transform="translate(234.87,1354.80) scale(1,1.02)" text-anchor="middle" class="tl">-2</text>
<line x1="381.85" x2="381.85" y1="1316.40" y2="1326.70" class="ax"/>
<text transform="translate(381.85,1354.80) scale(1,1.02)" text-anchor="middle" class="tl">0</text>
<line x1="528.83" x2="528.83" y1="1316.40" y2="1326.70" class="ax"/>
<text transform="translate(528.83,1354.80) scale(1,1.02)" text-anchor="middle" class="tl">2</text>
<line x1="675.81" x2="675.81" y1="1316.40" y2="1326.70" class="ax"/>
<text transform="translate(675.81,1354.80) scale(1,1.02)" text-anchor="middle" class="tl">4</text>
<text transform="translate(381.2,1397.00) scale(1,1.02)" text-anchor="middle" class="tl">Trait-level Insomnia</text>
<text transform="translate(13.1,1152.10) rotate(-90)" text-anchor="middle" class="tl">Probability</text>
<line x1="95.7" x2="127.6" y1="1007.10" y2="1007.10" stroke="#000000" class="lg"/>
<text transform="translate(142.5,1013.30)" class="tl lt"><tspan class="one" dx="1.1" dy="0.4">1</tspan></text>
<line x1="95.7" x2="127.6" y1="1028.00" y2="1028.00" stroke="#DF536B" class="lg"/>
<text transform="translate(142.5,1034.20)" class="tl lt">2</text>
<line x1="95.7" x2="127.6" y1="1048.90" y2="1048.90" stroke="#61D04F" class="lg"/>
<text transform="translate(142.5,1055.10)" class="tl lt">3</text>
<line x1="95.7" x2="127.6" y1="1069.80" y2="1069.80" stroke="#2297E6" class="lg"/>
<text transform="translate(142.5,1076.00)" class="tl lt">4</text>
<line x1="95.7" x2="127.6" y1="1090.70" y2="1090.70" stroke="#28E2E5" class="lg"/>
<text transform="translate(142.5,1096.90)" class="tl lt">5</text>
<text transform="translate(381.4,1446.40) scale(1,1.01)" class="ti" text-anchor="middle">Item Response Category Characteristic Curves - Item: I7</text>
<path d="M102.59,1475.23 L103.99,1475.24 L105.39,1475.25 L106.79,1475.27 L108.19,1475.28 L109.59,1475.30 L110.99,1475.32 L112.39,1475.34 L113.79,1475.36 L115.19,1475.38 L116.59,1475.40 L117.99,1475.42 L119.39,1475.45 L120.79,1475.47 L122.19,1475.50 L123.59,1475.53 L124.98,1475.56 L126.38,1475.59 L127.78,1475.63 L129.18,1475.67 L130.58,1475.70 L131.98,1475.74 L133.38,1475.79 L134.78,1475.83 L136.18,1475.88 L137.58,1475.93 L138.98,1475.99 L140.38,1476.05 L141.78,1476.11 L143.18,1476.17 L144.58,1476.24 L145.98,1476.31 L147.38,1476.39 L148.78,1476.47 L150.18,1476.55 L151.58,1476.64 L152.98,1476.74 L154.38,1476.84 L155.78,1476.95 L157.18,1477.06 L158.58,1477.18 L159.98,1477.30 L161.38,1477.44 L162.78,1477.58 L164.18,1477.73 L165.58,1477.88 L166.98,1478.05 L168.38,1478.23 L169.78,1478.41 L171.18,1478.61 L172.58,1478.82 L173.98,1479.04 L175.38,1479.27 L176.78,1479.52 L178.18,1479.77 L179.58,1480.05 L180.98,1480.34 L182.38,1480.64 L183.78,1480.97 L185.18,1481.31 L186.58,1481.67 L187.98,1482.05 L189.38,1482.45 L190.78,1482.87 L192.18,1483.32 L193.58,1483.79 L194.98,1484.29 L196.38,1484.81 L197.78,1485.37 L199.17,1485.95 L200.57,1486.56 L201.97,1487.21 L203.37,1487.89 L204.77,1488.61 L206.17,1489.37 L207.57,1490.17 L208.97,1491.00 L210.37,1491.89 L211.77,1492.81 L213.17,1493.79 L214.57,1494.82 L215.97,1495.89 L217.37,1497.02 L218.77,1498.21 L220.17,1499.46 L221.57,1500.76 L222.97,1502.13 L224.37,1503.57 L225.77,1505.07 L227.17,1506.65 L228.57,1508.29 L229.97,1510.01 L231.37,1511.81 L232.77,1513.69 L234.17,1515.64 L235.57,1517.69 L236.97,1519.81 L238.37,1522.03 L239.77,1524.33 L241.17,1526.72 L242.57,1529.20 L243.97,1531.78 L245.37,1534.45 L246.77,1537.22 L248.17,1540.08 L249.57,1543.03 L250.97,1546.08 L252.37,1549.22 L253.77,1552.46 L255.17,1555.79 L256.57,1559.20 L257.97,1562.71 L259.37,1566.31 L260.77,1569.98 L262.17,1573.74 L263.57,1577.57 L264.97,1581.48 L266.37,1585.45 L267.77,1589.49 L269.17,1593.59 L270.57,1597.74 L271.96,1601.94 L273.36,1606.17 L274.76,1610.45 L276.16,1614.75 L277.56,1619.07 L278.96,1623.41 L280.36,1627.75 L281.76,1632.10 L283.16,1636.44 L284.56,1640.77 L285.96,1645.08 L287.36,1649.36 L288.76,1653.61 L290.16,1657.82 L291.56,1661.98 L292.96,1666.09 L294.36,1670.15 L295.76,1674.14 L297.16,1678.06 L298.56,1681.92 L299.96,1685.70 L301.36,1689.40 L302.76,1693.01 L304.16,1696.54 L305.56,1699.99 L306.96,1703.34 L308.36,1706.60 L309.76,1709.77 L311.16,1712.85 L312.56,1715.83 L313.96,1718.71 L315.36,1721.50 L316.76,1724.20 L318.16,1726.80 L319.56,1729.31 L320.96,1731.73 L322.36,1734.05 L323.76,1736.29 L325.16,1738.44 L326.56,1740.50 L327.96,1742.49 L329.36,1744.38 L330.76,1746.20 L332.16,1747.94 L333.56,1749.61 L334.96,1751.20 L336.36,1752.73 L337.76,1754.18 L339.16,1755.57 L340.56,1756.89 L341.96,1758.15 L343.36,1759.36 L344.76,1760.50 L346.15,1761.59 L347.55,1762.63 L348.95,1763.62 L350.35,1764.56 L351.75,1765.46 L353.15,1766.31 L354.55,1767.12 L355.95,1767.88 L357.35,1768.61 L358.75,1769.31 L360.15,1769.96 L361.55,1770.59 L362.95,1771.18 L364.35,1771.74 L365.75,1772.27 L367.15,1772.78 L368.55,1773.25 L369.95,1773.71 L371.35,1774.14 L372.75,1774.54 L374.15,1774.93 L375.55,1775.30 L376.95,1775.64 L378.35,1775.97 L379.75,1776.28 L381.15,1776.57 L382.55,1776.85 L383.95,1777.11 L385.35,1777.36 L386.75,1777.60 L388.15,1777.82 L389.55,1778.03 L390.95,1778.23 L392.35,1778.42 L393.75,1778.60 L395.15,1778.77 L396.55,1778.93 L397.95,1779.08 L399.35,1779.23 L400.75,1779.36 L402.15,1779.49 L403.55,1779.61 L404.95,1779.72 L406.35,1779.83 L407.75,1779.93 L409.15,1780.03 L410.55,1780.12 L411.95,1780.21 L413.35,1780.29 L414.75,1780.37 L416.15,1780.44 L417.55,1780.51 L418.94,1780.58 L420.34,1780.64 L421.74,1780.70 L423.14,1780.75 L424.54,1780.80 L425.94,1780.85 L427.34,1780.90 L428.74,1780.94 L430.14,1780.99 L431.54,1781.02 L432.94,1781.06 L434.34,1781.10 L435.74,1781.13 L437.14,1781.16 L438.54,1781.19 L439.94,1781.22 L441.34,1781.25 L442.74,1781.27 L444.14,1781.29 L445.54,1781.32 L446.94,1781.34 L448.34,1781.36 L449.74,1781.38 L451.14,1781.39 L452.54,1781.41 L453.94,1781.43 L455.34,1781.44 L456.74,1781.46 L458.14,1781.47 L459.54,1781.48 L460.94,1781.49 L462.34,1781.51 L463.74,1781.52 L465.14,1781.53 L466.54,1781.54 L467.94,1781.55 L469.34,1781.55 L470.74,1781.56 L472.14,1781.57 L473.54,1781.58 L474.94,1781.58 L476.34,1781.59 L477.74,1781.60 L479.14,1781.60 L480.54,1781.61 L481.94,1781.61 L483.34,1781.62 L484.74,1781.62 L486.14,1781.63 L487.54,1781.63 L488.94,1781.63 L490.34,1781.64 L491.74,1781.64 L493.13,1781.64 L494.53,1781.65 L495.93,1781.65 L497.33,1781.65 L498.73,1781.66 L500.13,1781.66 L501.53,1781.66 L502.93,1781.66 L504.33,1781.66 L505.73,1781.67 L507.13,1781.67 L508.53,1781.67 L509.93,1781.67 L511.33,1781.67 L512.73,1781.67 L514.13,1781.68 L515.53,1781.68 L516.93,1781.68 L518.33,1781.68 L519.73,1781.68 L521.13,1781.68 L522.53,1781.68 L523.93,1781.68 L525.33,1781.68 L526.73,1781.69 L528.13,1781.69 L529.53,1781.69 L530.93,1781.69 L532.33,1781.69 L533.73,1781.69 L535.13,1781.69 L536.53,1781.69 L537.93,1781.69 L539.33,1781.69 L540.73,1781.69 L542.13,1781.69 L543.53,1781.69 L544.93,1781.69 L546.33,1781.69 L547.73,1781.69 L549.13,1781.69 L550.53,1781.69 L551.93,1781.69 L553.33,1781.70 L554.73,1781.70 L556.13,1781.70 L557.53,1781.70 L558.93,1781.70 L560.33,1781.70 L561.73,1781.70 L563.13,1781.70 L564.53,1781.70 L565.92,1781.70 L567.32,1781.70 L568.72,1781.70 L570.12,1781.70 L571.52,1781.70 L572.92,1781.70 L574.32,1781.70 L575.72,1781.70 L577.12,1781.70 L578.52,1781.70 L579.92,1781.70 L581.32,1781.70 L582.72,1781.70 L584.12,1781.70 L585.52,1781.70 L586.92,1781.70 L588.32,1781.70 L589.72,1781.70 L591.12,1781.70 L592.52,1781.70 L593.92,1781.70 L595.32,1781.70 L596.72,1781.70 L598.12,1781.70 L599.52,1781.70 L600.92,1781.70 L602.32,1781.70 L603.72,1781.70 L605.12,1781.70 L606.52,1781.70 L607.92,1781.70 L609.32,1781.70 L610.72,1781.70 L612.12,1781.70 L613.52,1781.70 L614.92,1781.70 L616.32,1781.70 L617.72,1781.70 L619.12,1781.70 L620.52,1781.70 L621.92,1781.70 L623.32,1781.70 L624.72,1781.70 L626.12,1781.70 L627.52,1781.70 L628.92,1781.70 L630.32,1781.70 L631.72,1781.70 L633.12,1781.70 L634.52,1781.70 L635.92,1781.70 L637.32,1781.70 L638.72,1781.70 L640.11,1781.70 L641.51,1781.70 L642.91,1781.70 L644.31,1781.70 L645.71,1781.70 L647.11,1781.70 L648.51,1781.70 L649.91,1781.70 L651.31,1781.70 L652.71,1781.70 L654.11,1781.70 L655.51,1781.70 L656.91,1781.70 L658.31,1781.70 L659.71,1781.70 L661.11,1781.70" stroke="#000000" class="cv k"/>
<path d="M102.59,1781.48 L103.99,1781.47 L105.39,1781.46 L106.79,1781.44 L108.19,1781.43 L109.59,1781.41 L110.99,1781.40 L112.39,1781.38 L113.79,1781.36 L115.19,1781.34 L116.59,1781.32 L117.99,1781.30 L119.39,1781.27 L120.79,1781.25 L122.19,1781.22 L123.59,1781.20 L124.98,1781.17 L126.38,1781.14 L127.78,1781.10 L129.18,1781.07 L130.58,1781.03 L131.98,1780.99 L133.38,1780.95 L134.78,1780.91 L136.18,1780.86 L137.58,1780.81 L138.98,1780.76 L140.38,1780.71 L141.78,1780.65 L143.18,1780.59 L144.58,1780.52 L145.98,1780.46 L147.38,1780.38 L148.78,1780.31 L150.18,1780.23 L151.58,1780.14 L152.98,1780.05 L154.38,1779.95 L155.78,1779.85 L157.18,1779.75 L158.58,1779.63 L159.98,1779.51 L161.38,1779.39 L162.78,1779.25 L164.18,1779.11 L165.58,1778.96 L166.98,1778.80 L168.38,1778.64 L169.78,1778.46 L171.18,1778.27 L172.58,1778.08 L173.98,1777.87 L175.38,1777.65 L176.78,1777.41 L178.18,1777.17 L179.58,1776.91 L180.98,1776.63 L182.38,1776.34 L183.78,1776.04 L185.18,1775.71 L186.58,1775.37 L187.98,1775.01 L189.38,1774.63 L190.78,1774.23 L192.18,1773.81 L193.58,1773.36 L194.98,1772.89 L196.38,1772.39 L197.78,1771.87 L199.17,1771.32 L200.57,1770.74 L201.97,1770.12 L203.37,1769.48 L204.77,1768.80 L206.17,1768.08 L207.57,1767.33 L208.97,1766.54 L210.37,1765.71 L211.77,1764.83 L213.17,1763.91 L214.57,1762.94 L215.97,1761.93 L217.37,1760.86 L218.77,1759.74 L220.17,1758.57 L221.57,1757.34 L222.97,1756.05 L224.37,1754.70 L225.77,1753.29 L227.17,1751.81 L228.57,1750.27 L229.97,1748.65 L231.37,1746.97 L232.77,1745.21 L234.17,1743.38 L235.57,1741.48 L236.97,1739.49 L238.37,1737.43 L239.77,1735.29 L241.17,1733.06 L242.57,1730.76 L243.97,1728.37 L245.37,1725.90 L246.77,1723.34 L248.17,1720.71 L249.57,1717.99 L250.97,1715.19 L252.37,1712.30 L253.77,1709.35 L255.17,1706.31 L256.57,1703.20 L257.97,1700.02 L259.37,1696.77 L260.77,1693.46 L262.17,1690.08 L263.57,1686.65 L264.97,1683.18 L266.37,1679.65 L267.77,1676.09 L269.17,1672.50 L270.57,1668.88 L271.96,1665.24 L273.36,1661.59 L274.76,1657.94 L276.16,1654.29 L277.56,1650.66 L278.96,1647.04 L280.36,1643.46 L281.76,1639.92 L283.16,1636.43 L284.56,1632.99 L285.96,1629.62 L287.36,1626.32 L288.76,1623.11 L290.16,1619.99 L291.56,1616.97 L292.96,1614.05 L294.36,1611.26 L295.76,1608.58 L297.16,1606.04 L298.56,1603.63 L299.96,1601.37 L301.36,1599.26 L302.76,1597.30 L304.16,1595.51 L305.56,1593.88 L306.96,1592.41 L308.36,1591.13 L309.76,1590.01 L311.16,1589.08 L312.56,1588.33 L313.96,1587.77 L315.36,1587.39 L316.76,1587.19 L318.16,1587.18 L319.56,1587.36 L320.96,1587.73 L322.36,1588.28 L323.76,1589.01 L325.16,1589.93 L326.56,1591.03 L327.96,1592.30 L329.36,1593.75 L330.76,1595.36 L332.16,1597.15 L333.56,1599.09 L334.96,1601.19 L336.36,1603.44 L337.76,1605.83 L339.16,1608.37 L340.56,1611.03 L341.96,1613.82 L343.36,1616.72 L344.76,1619.73 L346.15,1622.85 L347.55,1626.05 L348.95,1629.34 L350.35,1632.71 L351.75,1636.14 L353.15,1639.63 L354.55,1643.17 L355.95,1646.75 L357.35,1650.35 L358.75,1653.99 L360.15,1657.63 L361.55,1661.29 L362.95,1664.93 L364.35,1668.57 L365.75,1672.20 L367.15,1675.79 L368.55,1679.36 L369.95,1682.88 L371.35,1686.37 L372.75,1689.80 L374.15,1693.18 L375.55,1696.50 L376.95,1699.75 L378.35,1702.94 L379.75,1706.05 L381.15,1709.10 L382.55,1712.06 L383.95,1714.95 L385.35,1717.76 L386.75,1720.48 L388.15,1723.13 L389.55,1725.69 L390.95,1728.17 L392.35,1730.56 L393.75,1732.88 L395.15,1735.11 L396.55,1737.26 L397.95,1739.33 L399.35,1741.32 L400.75,1743.23 L402.15,1745.06 L403.55,1746.83 L404.95,1748.52 L406.35,1750.13 L407.75,1751.68 L409.15,1753.17 L410.55,1754.58 L411.95,1755.94 L413.35,1757.23 L414.75,1758.47 L416.15,1759.65 L417.55,1760.77 L418.94,1761.84 L420.34,1762.86 L421.74,1763.83 L423.14,1764.75 L424.54,1765.63 L425.94,1766.47 L427.34,1767.27 L428.74,1768.02 L430.14,1768.74 L431.54,1769.42 L432.94,1770.07 L434.34,1770.69 L435.74,1771.27 L437.14,1771.83 L438.54,1772.35 L439.94,1772.85 L441.34,1773.32 L442.74,1773.77 L444.14,1774.20 L445.54,1774.60 L446.94,1774.98 L448.34,1775.34 L449.74,1775.69 L451.14,1776.01 L452.54,1776.32 L453.94,1776.61 L455.34,1776.89 L456.74,1777.15 L458.14,1777.39 L459.54,1777.63 L460.94,1777.85 L462.34,1778.06 L463.74,1778.26 L465.14,1778.44 L466.54,1778.62 L467.94,1778.79 L469.34,1778.95 L470.74,1779.10 L472.14,1779.24 L473.54,1779.38 L474.94,1779.50 L476.34,1779.62 L477.74,1779.74 L479.14,1779.84 L480.54,1779.95 L481.94,1780.04 L483.34,1780.13 L484.74,1780.22 L486.14,1780.30 L487.54,1780.38 L488.94,1780.45 L490.34,1780.52 L491.74,1780.58 L493.13,1780.64 L494.53,1780.70 L495.93,1780.76 L497.33,1780.81 L498.73,1780.86 L500.13,1780.90 L501.53,1780.95 L502.93,1780.99 L504.33,1781.03 L505.73,1781.07 L507.13,1781.10 L508.53,1781.13 L509.93,1781.16 L511.33,1781.19 L512.73,1781.22 L514.13,1781.25 L515.53,1781.27 L516.93,1781.30 L518.33,1781.32 L519.73,1781.34 L521.13,1781.36 L522.53,1781.38 L523.93,1781.40 L525.33,1781.41 L526.73,1781.43 L528.13,1781.44 L529.53,1781.46 L530.93,1781.47 L532.33,1781.48 L533.73,1781.50 L535.13,1781.51 L536.53,1781.52 L537.93,1781.53 L539.33,1781.54 L540.73,1781.55 L542.13,1781.55 L543.53,1781.56 L544.93,1781.57 L546.33,1781.58 L547.73,1781.58 L549.13,1781.59 L550.53,1781.60 L551.93,1781.60 L553.33,1781.61 L554.73,1781.61 L556.13,1781.62 L557.53,1781.62 L558.93,1781.63 L560.33,1781.63 L561.73,1781.63 L563.13,1781.64 L564.53,1781.64 L565.92,1781.64 L567.32,1781.65 L568.72,1781.65 L570.12,1781.65 L571.52,1781.66 L572.92,1781.66 L574.32,1781.66 L575.72,1781.66 L577.12,1781.66 L578.52,1781.67 L579.92,1781.67 L581.32,1781.67 L582.72,1781.67 L584.12,1781.67 L585.52,1781.67 L586.92,1781.68 L588.32,1781.68 L589.72,1781.68 L591.12,1781.68 L592.52,1781.68 L593.92,1781.68 L595.32,1781.68 L596.72,1781.68 L598.12,1781.68 L599.52,1781.69 L600.92,1781.69 L602.32,1781.69 L603.72,1781.69 L605.12,1781.69 L606.52,1781.69 L607.92,1781.69 L609.32,1781.69 L610.72,1781.69 L612.12,1781.69 L613.52,1781.69 L614.92,1781.69 L616.32,1781.69 L617.72,1781.69 L619.12,1781.69 L620.52,1781.69 L621.92,1781.69 L623.32,1781.69 L624.72,1781.69 L626.12,1781.70 L627.52,1781.70 L628.92,1781.70 L630.32,1781.70 L631.72,1781.70 L633.12,1781.70 L634.52,1781.70 L635.92,1781.70 L637.32,1781.70 L638.72,1781.70 L640.11,1781.70 L641.51,1781.70 L642.91,1781.70 L644.31,1781.70 L645.71,1781.70 L647.11,1781.70 L648.51,1781.70 L649.91,1781.70 L651.31,1781.70 L652.71,1781.70 L654.11,1781.70 L655.51,1781.70 L656.91,1781.70 L658.31,1781.70 L659.71,1781.70 L661.11,1781.70" stroke="#DF536B" class="cv"/>
<path d="M102.59,1781.69 L103.99,1781.69 L105.39,1781.69 L106.79,1781.69 L108.19,1781.69 L109.59,1781.69 L110.99,1781.68 L112.39,1781.68 L113.79,1781.68 L115.19,1781.68 L116.59,1781.68 L117.99,1781.68 L119.39,1781.68 L120.79,1781.68 L122.19,1781.68 L123.59,1781.67 L124.98,1781.67 L126.38,1781.67 L127.78,1781.67 L129.18,1781.67 L130.58,1781.67 L131.98,1781.66 L133.38,1781.66 L134.78,1781.66 L136.18,1781.66 L137.58,1781.66 L138.98,1781.65 L140.38,1781.65 L141.78,1781.65 L143.18,1781.64 L144.58,1781.64 L145.98,1781.64 L147.38,1781.63 L148.78,1781.63 L150.18,1781.63 L151.58,1781.62 L152.98,1781.62 L154.38,1781.61 L155.78,1781.61 L157.18,1781.60 L158.58,1781.60 L159.98,1781.59 L161.38,1781.58 L162.78,1781.58 L164.18,1781.57 L165.58,1781.56 L166.98,1781.55 L168.38,1781.55 L169.78,1781.54 L171.18,1781.53 L172.58,1781.52 L173.98,1781.51 L175.38,1781.49 L176.78,1781.48 L178.18,1781.47 L179.58,1781.46 L180.98,1781.44 L182.38,1781.43 L183.78,1781.41 L185.18,1781.40 L186.58,1781.38 L187.98,1781.36 L189.38,1781.34 L190.78,1781.32 L192.18,1781.30 L193.58,1781.27 L194.98,1781.25 L196.38,1781.22 L197.78,1781.19 L199.17,1781.16 L200.57,1781.13 L201.97,1781.10 L203.37,1781.06 L204.77,1781.03 L206.17,1780.99 L207.57,1780.95 L208.97,1780.90 L210.37,1780.86 L211.77,1780.81 L213.17,1780.75 L214.57,1780.70 L215.97,1780.64 L217.37,1780.58 L218.77,1780.52 L220.17,1780.45 L221.57,1780.37 L222.97,1780.30 L224.37,1780.22 L225.77,1780.13 L227.17,1780.04 L228.57,1779.94 L229.97,1779.84 L231.37,1779.73 L232.77,1779.62 L234.17,1779.50 L235.57,1779.37 L236.97,1779.24 L238.37,1779.09 L239.77,1778.94 L241.17,1778.78 L242.57,1778.62 L243.97,1778.44 L245.37,1778.25 L246.77,1778.05 L248.17,1777.84 L249.57,1777.62 L250.97,1777.39 L252.37,1777.14 L253.77,1776.88 L255.17,1776.60 L256.57,1776.31 L257.97,1776.00 L259.37,1775.68 L260.77,1775.33 L262.17,1774.97 L263.57,1774.59 L264.97,1774.18 L266.37,1773.76 L267.77,1773.31 L269.17,1772.83 L270.57,1772.34 L271.96,1771.81 L273.36,1771.25 L274.76,1770.67 L276.16,1770.05 L277.56,1769.40 L278.96,1768.72 L280.36,1768.00 L281.76,1767.24 L283.16,1766.45 L284.56,1765.61 L285.96,1764.73 L287.36,1763.80 L288.76,1762.83 L290.16,1761.81 L291.56,1760.74 L292.96,1759.62 L294.36,1758.44 L295.76,1757.20 L297.16,1755.91 L298.56,1754.55 L299.96,1753.14 L301.36,1751.65 L302.76,1750.11 L304.16,1748.49 L305.56,1746.80 L306.96,1745.04 L308.36,1743.20 L309.76,1741.29 L311.16,1739.30 L312.56,1737.24 L313.96,1735.09 L315.36,1732.86 L316.76,1730.56 L318.16,1728.17 L319.56,1725.69 L320.96,1723.14 L322.36,1720.50 L323.76,1717.78 L325.16,1714.99 L326.56,1712.11 L327.96,1709.16 L329.36,1706.13 L330.76,1703.03 L332.16,1699.86 L333.56,1696.62 L334.96,1693.32 L336.36,1689.96 L337.76,1686.56 L339.16,1683.10 L340.56,1679.60 L341.96,1676.07 L343.36,1672.50 L344.76,1668.92 L346.15,1665.31 L347.55,1661.71 L348.95,1658.10 L350.35,1654.50 L351.75,1650.92 L353.15,1647.36 L354.55,1643.84 L355.95,1640.36 L357.35,1636.93 L358.75,1633.57 L360.15,1630.27 L361.55,1627.06 L362.95,1623.93 L364.35,1620.90 L365.75,1617.97 L367.15,1615.16 L368.55,1612.46 L369.95,1609.90 L371.35,1607.46 L372.75,1605.17 L374.15,1603.03 L375.55,1601.04 L376.95,1599.21 L378.35,1597.55 L379.75,1596.05 L381.15,1594.73 L382.55,1593.58 L383.95,1592.62 L385.35,1591.83 L386.75,1591.23 L388.15,1590.82 L389.55,1590.59 L390.95,1590.56 L392.35,1590.70 L393.75,1591.04 L395.15,1591.56 L396.55,1592.27 L397.95,1593.16 L399.35,1594.23 L400.75,1595.48 L402.15,1596.91 L403.55,1598.50 L404.95,1600.27 L406.35,1602.19 L407.75,1604.27 L409.15,1606.50 L410.55,1608.87 L411.95,1611.38 L413.35,1614.02 L414.75,1616.79 L416.15,1619.67 L417.55,1622.66 L418.94,1625.75 L420.34,1628.93 L421.74,1632.19 L423.14,1635.53 L424.54,1638.93 L425.94,1642.39 L427.34,1645.90 L428.74,1649.44 L430.14,1653.01 L431.54,1656.60 L432.94,1660.21 L434.34,1663.82 L435.74,1667.42 L437.14,1671.02 L438.54,1674.59 L439.94,1678.14 L441.34,1681.65 L442.74,1685.13 L444.14,1688.56 L445.54,1691.94 L446.94,1695.26 L448.34,1698.52 L449.74,1701.72 L451.14,1704.85 L452.54,1707.91 L453.94,1710.89 L455.34,1713.80 L456.74,1716.63 L458.14,1719.39 L459.54,1722.06 L460.94,1724.64 L462.34,1727.15 L463.74,1729.58 L465.14,1731.92 L466.54,1734.18 L467.94,1736.36 L469.34,1738.46 L470.74,1740.48 L472.14,1742.42 L473.54,1744.29 L474.94,1746.08 L476.34,1747.80 L477.74,1749.44 L479.14,1751.02 L480.54,1752.53 L481.94,1753.97 L483.34,1755.36 L484.74,1756.67 L486.14,1757.93 L487.54,1759.14 L488.94,1760.28 L490.34,1761.37 L491.74,1762.42 L493.13,1763.41 L494.53,1764.35 L495.93,1765.25 L497.33,1766.11 L498.73,1766.92 L500.13,1767.69 L501.53,1768.43 L502.93,1769.12 L504.33,1769.79 L505.73,1770.42 L507.13,1771.02 L508.53,1771.58 L509.93,1772.12 L511.33,1772.63 L512.73,1773.12 L514.13,1773.57 L515.53,1774.01 L516.93,1774.42 L518.33,1774.81 L519.73,1775.18 L521.13,1775.54 L522.53,1775.87 L523.93,1776.18 L525.33,1776.48 L526.73,1776.76 L528.13,1777.03 L529.53,1777.28 L530.93,1777.52 L532.33,1777.75 L533.73,1777.97 L535.13,1778.17 L536.53,1778.36 L537.93,1778.54 L539.33,1778.72 L540.73,1778.88 L542.13,1779.03 L543.53,1779.18 L544.93,1779.32 L546.33,1779.45 L547.73,1779.57 L549.13,1779.69 L550.53,1779.80 L551.93,1779.90 L553.33,1780.00 L554.73,1780.09 L556.13,1780.18 L557.53,1780.26 L558.93,1780.34 L560.33,1780.42 L561.73,1780.49 L563.13,1780.55 L564.53,1780.62 L565.92,1780.68 L567.32,1780.73 L568.72,1780.79 L570.12,1780.84 L571.52,1780.88 L572.92,1780.93 L574.32,1780.97 L575.72,1781.01 L577.12,1781.05 L578.52,1781.08 L579.92,1781.12 L581.32,1781.15 L582.72,1781.18 L584.12,1781.21 L585.52,1781.24 L586.92,1781.26 L588.32,1781.29 L589.72,1781.31 L591.12,1781.33 L592.52,1781.35 L593.92,1781.37 L595.32,1781.39 L596.72,1781.41 L598.12,1781.42 L599.52,1781.44 L600.92,1781.45 L602.32,1781.46 L603.72,1781.48 L605.12,1781.49 L606.52,1781.50 L607.92,1781.51 L609.32,1781.52 L610.72,1781.53 L612.12,1781.54 L613.52,1781.55 L614.92,1781.56 L616.32,1781.57 L617.72,1781.57 L619.12,1781.58 L620.52,1781.59 L621.92,1781.59 L623.32,1781.60 L624.72,1781.61 L626.12,1781.61 L627.52,1781.62 L628.92,1781.62 L630.32,1781.62 L631.72,1781.63 L633.12,1781.63 L634.52,1781.64 L635.92,1781.64 L637.32,1781.64 L638.72,1781.65 L640.11,1781.65 L641.51,1781.65 L642.91,1781.65 L644.31,1781.66 L645.71,1781.66 L647.11,1781.66 L648.51,1781.66 L649.91,1781.67 L651.31,1781.67 L652.71,1781.67 L654.11,1781.67 L655.51,1781.67 L656.91,1781.67 L658.31,1781.68 L659.71,1781.68 L661.11,1781.68" stroke="#61D04F" class="cv"/>
<path d="M102.59,1781.70 L103.99,1781.70 L105.39,1781.70 L106.79,1781.70 L108.19,1781.70 L109.59,1781.70 L110.99,1781.70 L112.39,1781.70 L113.79,1781.70 L115.19,1781.70 L116.59,1781.70 L117.99,1781.70 L119.39,1781.70 L120.79,1781.70 L122.19,1781.70 L123.59,1781.70 L124.98,1781.70 L126.38,1781.70 L127.78,1781.70 L129.18,1781.70 L130.58,1781.70 L131.98,1781.70 L133.38,1781.70 L134.78,1781.70 L136.18,1781.70 L137.58,1781.70 L138.98,1781.70 L140.38,1781.70 L141.78,1781.70 L143.18,1781.70 L144.58,1781.70 L145.98,1781.70 L147.38,1781.70 L148.78,1781.70 L150.18,1781.70 L151.58,1781.70 L152.98,1781.70 L154.38,1781.70 L155.78,1781.70 L157.18,1781.69 L158.58,1781.69 L159.98,1781.69 L161.38,1781.69 L162.78,1781.69 L164.18,1781.69 L165.58,1781.69 L166.98,1781.69 L168.38,1781.69 L169.78,1781.69 L171.18,1781.69 L172.58,1781.69 L173.98,1781.69 L175.38,1781.69 L176.78,1781.69 L178.18,1781.69 L179.58,1781.69 L180.98,1781.69 L182.38,1781.69 L183.78,1781.68 L185.18,1781.68 L186.58,1781.68 L187.98,1781.68 L189.38,1781.68 L190.78,1781.68 L192.18,1781.68 L193.58,1781.68 L194.98,1781.68 L196.38,1781.67 L197.78,1781.67 L199.17,1781.67 L200.57,1781.67 L201.97,1781.67 L203.37,1781.67 L204.77,1781.66 L206.17,1781.66 L207.57,1781.66 L208.97,1781.66 L210.37,1781.66 L211.77,1781.65 L213.17,1781.65 L214.57,1781.65 L215.97,1781.64 L217.37,1781.64 L218.77,1781.64 L220.17,1781.63 L221.57,1781.63 L222.97,1781.63 L224.37,1781.62 L225.77,1781.62 L227.17,1781.61 L228.57,1781.61 L229.97,1781.60 L231.37,1781.60 L232.77,1781.59 L234.17,1781.58 L235.57,1781.58 L236.97,1781.57 L238.37,1781.56 L239.77,1781.55 L241.17,1781.54 L242.57,1781.54 L243.97,1781.53 L245.37,1781.52 L246.77,1781.51 L248.17,1781.49 L249.57,1781.48 L250.97,1781.47 L252.37,1781.46 L253.77,1781.44 L255.17,1781.43 L256.57,1781.41 L257.97,1781.39 L259.37,1781.38 L260.77,1781.36 L262.17,1781.34 L263.57,1781.32 L264.97,1781.29 L266.37,1781.27 L267.77,1781.24 L269.17,1781.22 L270.57,1781.19 L271.96,1781.16 L273.36,1781.13 L274.76,1781.10 L276.16,1781.06 L277.56,1781.02 L278.96,1780.98 L280.36,1780.94 L281.76,1780.90 L283.16,1780.85 L284.56,1780.80 L285.96,1780.75 L287.36,1780.70 L288.76,1780.64 L290.16,1780.58 L291.56,1780.51 L292.96,1780.44 L294.36,1780.37 L295.76,1780.29 L297.16,1780.21 L298.56,1780.12 L299.96,1780.03 L301.36,1779.93 L302.76,1779.83 L304.16,1779.72 L305.56,1779.61 L306.96,1779.49 L308.36,1779.36 L309.76,1779.23 L311.16,1779.08 L312.56,1778.93 L313.96,1778.77 L315.36,1778.60 L316.76,1778.42 L318.16,1778.24 L319.56,1778.04 L320.96,1777.83 L322.36,1777.60 L323.76,1777.37 L325.16,1777.12 L326.56,1776.86 L327.96,1776.58 L329.36,1776.29 L330.76,1775.98 L332.16,1775.65 L333.56,1775.31 L334.96,1774.95 L336.36,1774.56 L337.76,1774.16 L339.16,1773.73 L340.56,1773.28 L341.96,1772.81 L343.36,1772.31 L344.76,1771.78 L346.15,1771.23 L347.55,1770.64 L348.95,1770.02 L350.35,1769.37 L351.75,1768.69 L353.15,1767.97 L354.55,1767.22 L355.95,1766.42 L357.35,1765.58 L358.75,1764.70 L360.15,1763.78 L361.55,1762.81 L362.95,1761.79 L364.35,1760.72 L365.75,1759.60 L367.15,1758.43 L368.55,1757.20 L369.95,1755.91 L371.35,1754.57 L372.75,1753.16 L374.15,1751.68 L375.55,1750.15 L376.95,1748.54 L378.35,1746.87 L379.75,1745.12 L381.15,1743.30 L382.55,1741.41 L383.95,1739.45 L385.35,1737.41 L386.75,1735.29 L388.15,1733.10 L389.55,1730.82 L390.95,1728.47 L392.35,1726.05 L393.75,1723.54 L395.15,1720.96 L396.55,1718.30 L397.95,1715.57 L399.35,1712.76 L400.75,1709.89 L402.15,1706.94 L403.55,1703.94 L404.95,1700.87 L406.35,1697.74 L407.75,1694.56 L409.15,1691.33 L410.55,1688.07 L411.95,1684.76 L413.35,1681.42 L414.75,1678.06 L416.15,1674.69 L417.55,1671.30 L418.94,1667.91 L420.34,1664.53 L421.74,1661.17 L423.14,1657.82 L424.54,1654.51 L425.94,1651.24 L427.34,1648.03 L428.74,1644.87 L430.14,1641.78 L431.54,1638.77 L432.94,1635.85 L434.34,1633.02 L435.74,1630.30 L437.14,1627.69 L438.54,1625.21 L439.94,1622.85 L441.34,1620.63 L442.74,1618.56 L444.14,1616.64 L445.54,1614.87 L446.94,1613.27 L448.34,1611.83 L449.74,1610.57 L451.14,1609.49 L452.54,1608.59 L453.94,1607.87 L455.34,1607.34 L456.74,1606.99 L458.14,1606.84 L459.54,1606.87 L460.94,1607.10 L462.34,1607.51 L463.74,1608.11 L465.14,1608.90 L466.54,1609.87 L467.94,1611.01 L469.34,1612.34 L470.74,1613.83 L472.14,1615.50 L473.54,1617.32 L474.94,1619.30 L476.34,1621.43 L477.74,1623.70 L479.14,1626.10 L480.54,1628.63 L481.94,1631.28 L483.34,1634.04 L484.74,1636.90 L486.14,1639.86 L487.54,1642.90 L488.94,1646.01 L490.34,1649.20 L491.74,1652.43 L493.13,1655.72 L494.53,1659.04 L495.93,1662.39 L497.33,1665.76 L498.73,1669.15 L500.13,1672.54 L501.53,1675.92 L502.93,1679.29 L504.33,1682.64 L505.73,1685.97 L507.13,1689.26 L508.53,1692.52 L509.93,1695.73 L511.33,1698.89 L512.73,1701.99 L514.13,1705.04 L515.53,1708.02 L516.93,1710.94 L518.33,1713.79 L519.73,1716.57 L521.13,1719.28 L522.53,1721.91 L523.93,1724.46 L525.33,1726.94 L526.73,1729.34 L528.13,1731.66 L529.53,1733.91 L530.93,1736.07 L532.33,1738.16 L533.73,1740.17 L535.13,1742.11 L536.53,1743.98 L537.93,1745.77 L539.33,1747.48 L540.73,1749.13 L542.13,1750.71 L543.53,1752.23 L544.93,1753.68 L546.33,1755.06 L547.73,1756.39 L549.13,1757.66 L550.53,1758.87 L551.93,1760.02 L553.33,1761.12 L554.73,1762.17 L556.13,1763.17 L557.53,1764.12 L558.93,1765.03 L560.33,1765.89 L561.73,1766.71 L563.13,1767.50 L564.53,1768.24 L565.92,1768.94 L567.32,1769.62 L568.72,1770.25 L570.12,1770.86 L571.52,1771.43 L572.92,1771.98 L574.32,1772.49 L575.72,1772.98 L577.12,1773.45 L578.52,1773.89 L579.92,1774.31 L581.32,1774.71 L582.72,1775.08 L584.12,1775.44 L585.52,1775.78 L586.92,1776.09 L588.32,1776.40 L589.72,1776.68 L591.12,1776.96 L592.52,1777.21 L593.92,1777.46 L595.32,1777.69 L596.72,1777.90 L598.12,1778.11 L599.52,1778.31 L600.92,1778.49 L602.32,1778.67 L603.72,1778.83 L605.12,1778.99 L606.52,1779.14 L607.92,1779.28 L609.32,1779.41 L610.72,1779.53 L612.12,1779.65 L613.52,1779.76 L614.92,1779.87 L616.32,1779.97 L617.72,1780.07 L619.12,1780.15 L620.52,1780.24 L621.92,1780.32 L623.32,1780.40 L624.72,1780.47 L626.12,1780.53 L627.52,1780.60 L628.92,1780.66 L630.32,1780.72 L631.72,1780.77 L633.12,1780.82 L634.52,1780.87 L635.92,1780.92 L637.32,1780.96 L638.72,1781.00 L640.11,1781.04 L641.51,1781.07 L642.91,1781.11 L644.31,1781.14 L645.71,1781.17 L647.11,1781.20 L648.51,1781.23 L649.91,1781.25 L651.31,1781.28 L652.71,1781.30 L654.11,1781.32 L655.51,1781.34 L656.91,1781.36 L658.31,1781.38 L659.71,1781.40 L661.11,1781.42" stroke="#2297E6" class="cv"/>
<path d="M102.59,1781.70 L103.99,1781.70 L105.39,1781.70 L106.79,1781.70 L108.19,1781.70 L109.59,1781.70 L110.99,1781.70 L112.39,1781.70 L113.79,1781.70 L115.19,1781.70 L116.59,1781.70 L117.99,1781.70 L119.39,1781.70 L120.79,1781.70 L122.19,1781.70 L123.59,1781.70 L124.98,1781.70 L126.38,1781.70 L127.78,1781.70 L129.18,1781.70 L130.58,1781.70 L131.98,1781.70 L133.38,1781.70 L134.78,1781.70 L136.18,1781.70 L137.58,1781.70 L138.98,1781.70 L140.38,1781.70 L141.78,1781.70 L143.18,1781.70 L144.58,1781.70 L145.98,1781.70 L147.38,1781.70 L148.78,1781.70 L150.18,1781.70 L151.58,1781.70 L152.98,1781.70 L154.38,1781.70 L155.78,1781.70 L157.18,1781.70 L158.58,1781.70 L159.98,1781.70 L161.38,1781.70 L162.78,1781.70 L164.18,1781.70 L165.58,1781.70 L166.98,1781.70 L168.38,1781.70 L169.78,1781.70 L171.18,1781.70 L172.58,1781.70 L173.98,1781.70 L175.38,1781.70 L176.78,1781.70 L178.18,1781.70 L179.58,1781.70 L180.98,1781.70 L182.38,1781.70 L183.78,1781.70 L185.18,1781.70 L186.58,1781.70 L187.98,1781.70 L189.38,1781.70 L190.78,1781.70 L192.18,1781.70 L193.58,1781.70 L194.98,1781.70 L196.38,1781.70 L197.78,1781.70 L199.17,1781.70 L200.57,1781.70 L201.97,1781.70 L203.37,1781.70 L204.77,1781.70 L206.17,1781.70 L207.57,1781.70 L208.97,1781.70 L210.37,1781.70 L211.77,1781.70 L213.17,1781.70 L214.57,1781.70 L215.97,1781.70 L217.37,1781.70 L218.77,1781.69 L220.17,1781.69 L221.57,1781.69 L222.97,1781.69 L224.37,1781.69 L225.77,1781.69 L227.17,1781.69 L228.57,1781.69 L229.97,1781.69 L231.37,1781.69 L232.77,1781.69 L234.17,1781.69 L235.57,1781.69 L236.97,1781.69 L238.37,1781.69 L239.77,1781.69 L241.17,1781.69 L242.57,1781.69 L243.97,1781.69 L245.37,1781.69 L246.77,1781.68 L248.17,1781.68 L249.57,1781.68 L250.97,1781.68 L252.37,1781.68 L253.77,1781.68 L255.17,1781.68 L256.57,1781.68 L257.97,1781.68 L259.37,1781.67 L260.77,1781.67 L262.17,1781.67 L263.57,1781.67 L264.97,1781.67 L266.37,1781.67 L267.77,1781.66 L269.17,1781.66 L270.57,1781.66 L271.96,1781.66 L273.36,1781.65 L274.76,1781.65 L276.16,1781.65 L277.56,1781.65 L278.96,1781.64 L280.36,1781.64 L281.76,1781.63 L283.16,1781.63 L284.56,1781.63 L285.96,1781.62 L287.36,1781.62 L288.76,1781.61 L290.16,1781.61 L291.56,1781.60 L292.96,1781.60 L294.36,1781.59 L295.76,1781.59 L297.16,1781.58 L298.56,1781.57 L299.96,1781.56 L301.36,1781.56 L302.76,1781.55 L304.16,1781.54 L305.56,1781.53 L306.96,1781.52 L308.36,1781.51 L309.76,1781.50 L311.16,1781.49 L312.56,1781.47 L313.96,1781.46 L315.36,1781.45 L316.76,1781.43 L318.16,1781.42 L319.56,1781.40 L320.96,1781.38 L322.36,1781.36 L323.76,1781.34 L325.16,1781.32 L326.56,1781.30 L327.96,1781.28 L329.36,1781.25 L330.76,1781.23 L332.16,1781.20 L333.56,1781.17 L334.96,1781.14 L336.36,1781.11 L337.76,1781.07 L339.16,1781.04 L340.56,1781.00 L341.96,1780.96 L343.36,1780.91 L344.76,1780.87 L346.15,1780.82 L347.55,1780.77 L348.95,1780.71 L350.35,1780.66 L351.75,1780.60 L353.15,1780.53 L354.55,1780.46 L355.95,1780.39 L357.35,1780.32 L358.75,1780.23 L360.15,1780.15 L361.55,1780.06 L362.95,1779.96 L364.35,1779.86 L365.75,1779.76 L367.15,1779.65 L368.55,1779.53 L369.95,1779.40 L371.35,1779.27 L372.75,1779.13 L374.15,1778.98 L375.55,1778.82 L376.95,1778.65 L378.35,1778.48 L379.75,1778.29 L381.15,1778.10 L382.55,1777.89 L383.95,1777.67 L385.35,1777.44 L386.75,1777.19 L388.15,1776.93 L389.55,1776.66 L390.95,1776.37 L392.35,1776.07 L393.75,1775.74 L395.15,1775.40 L396.55,1775.04 L397.95,1774.66 L399.35,1774.26 L400.75,1773.84 L402.15,1773.39 L403.55,1772.92 L404.95,1772.43 L406.35,1771.90 L407.75,1771.35 L409.15,1770.77 L410.55,1770.16 L411.95,1769.51 L413.35,1768.83 L414.75,1768.11 L416.15,1767.35 L417.55,1766.56 L418.94,1765.72 L420.34,1764.84 L421.74,1763.91 L423.14,1762.94 L424.54,1761.92 L425.94,1760.84 L427.34,1759.71 L428.74,1758.52 L430.14,1757.28 L431.54,1755.98 L432.94,1754.61 L434.34,1753.17 L435.74,1751.67 L437.14,1750.10 L438.54,1748.46 L439.94,1746.74 L441.34,1744.94 L442.74,1743.07 L444.14,1741.12 L445.54,1739.08 L446.94,1736.95 L448.34,1734.74 L449.74,1732.44 L451.14,1730.05 L452.54,1727.57 L453.94,1725.00 L455.34,1722.33 L456.74,1719.57 L458.14,1716.71 L459.54,1713.76 L460.94,1710.71 L462.34,1707.57 L463.74,1704.34 L465.14,1701.01 L466.54,1697.60 L467.94,1694.09 L469.34,1690.50 L470.74,1686.83 L472.14,1683.07 L473.54,1679.24 L474.94,1675.34 L476.34,1671.36 L477.74,1667.33 L479.14,1663.23 L480.54,1659.09 L481.94,1654.89 L483.34,1650.65 L484.74,1646.38 L486.14,1642.08 L487.54,1637.76 L488.94,1633.42 L490.34,1629.08 L491.74,1624.73 L493.13,1620.39 L494.53,1616.06 L495.93,1611.75 L497.33,1607.47 L498.73,1603.22 L500.13,1599.01 L501.53,1594.84 L502.93,1590.73 L504.33,1586.68 L505.73,1582.68 L507.13,1578.75 L508.53,1574.90 L509.93,1571.12 L511.33,1567.41 L512.73,1563.79 L514.13,1560.26 L515.53,1556.82 L516.93,1553.46 L518.33,1550.19 L519.73,1547.02 L521.13,1543.95 L522.53,1540.96 L523.93,1538.07 L525.33,1535.28 L526.73,1532.58 L528.13,1529.98 L529.53,1527.46 L530.93,1525.04 L532.33,1522.72 L533.73,1520.48 L535.13,1518.32 L536.53,1516.26 L537.93,1514.27 L539.33,1512.37 L540.73,1510.55 L542.13,1508.81 L543.53,1507.14 L544.93,1505.54 L546.33,1504.02 L547.73,1502.56 L549.13,1501.17 L550.53,1499.85 L551.93,1498.58 L553.33,1497.38 L554.73,1496.23 L556.13,1495.14 L557.53,1494.10 L558.93,1493.11 L560.33,1492.16 L561.73,1491.27 L563.13,1490.42 L564.53,1489.61 L565.92,1488.84 L567.32,1488.11 L568.72,1487.41 L570.12,1486.76 L571.52,1486.13 L572.92,1485.54 L574.32,1484.98 L575.72,1484.44 L577.12,1483.94 L578.52,1483.46 L579.92,1483.01 L581.32,1482.58 L582.72,1482.17 L584.12,1481.78 L585.52,1481.42 L586.92,1481.07 L588.32,1480.74 L589.72,1480.43 L591.12,1480.14 L592.52,1479.86 L593.92,1479.59 L595.32,1479.34 L596.72,1479.11 L598.12,1478.88 L599.52,1478.67 L600.92,1478.47 L602.32,1478.28 L603.72,1478.10 L605.12,1477.93 L606.52,1477.77 L607.92,1477.62 L609.32,1477.48 L610.72,1477.34 L612.12,1477.21 L613.52,1477.09 L614.92,1476.98 L616.32,1476.87 L617.72,1476.77 L619.12,1476.67 L620.52,1476.58 L621.92,1476.49 L623.32,1476.41 L624.72,1476.33 L626.12,1476.26 L627.52,1476.19 L628.92,1476.13 L630.32,1476.06 L631.72,1476.01 L633.12,1475.95 L634.52,1475.90 L635.92,1475.85 L637.32,1475.80 L638.72,1475.76 L640.11,1475.72 L641.51,1475.68 L642.91,1475.64 L644.31,1475.60 L645.71,1475.57 L647.11,1475.54 L648.51,1475.51 L649.91,1475.48 L651.31,1475.46 L652.71,1475.43 L654.11,1475.41 L655.51,1475.38 L656.91,1475.36 L658.31,1475.34 L659.71,1475.32 L661.11,1475.31" stroke="#28E2E5" class="cv"/>
<path d="M682.50,1463.10 H80.30 V1793.30 H682.50" class="bx"/>
<line x1="683.30" x2="683.30" y1="1462.30" y2="1794.10" class="bxr"/>
<line x1="69.6" x2="80.3" y1="1781.70" y2="1781.70" class="ax"/>
<text transform="translate(54.9,1782.10) rotate(-90) scale(1,1.08)" text-anchor="middle" class="tl">0.0</text>
<line x1="69.6" x2="80.3" y1="1720.36" y2="1720.36" class="ax"/>
<text transform="translate(54.9,1720.76) rotate(-90) scale(1,1.08)" text-anchor="middle" class="tl">0.2</text>
<line x1="69.6" x2="80.3" y1="1659.02" y2="1659.02" class="ax"/>
<text transform="translate(54.9,1659.42) rotate(-90) scale(1,1.08)" text-anchor="middle" class="tl">0.4</text>
<line x1="69.6" x2="80.3" y1="1597.68" y2="1597.68" class="ax"/>
<text transform="translate(54.9,1598.08) rotate(-90) scale(1,1.08)" text-anchor="middle" class="tl">0.6</text>
<line x1="69.6" x2="80.3" y1="1536.34" y2="1536.34" class="ax"/>
<text transform="translate(54.9,1536.74) rotate(-90) scale(1,1.08)" text-anchor="middle" class="tl">0.8</text>
<line x1="69.6" x2="80.3" y1="1475.00" y2="1475.00" class="ax"/>
<text transform="translate(54.9,1475.40) rotate(-90) scale(1,1.08)" text-anchor="middle" class="tl"><tspan class="one">1</tspan><tspan dx="-0.45">.</tspan>0</text>
<line x1="87.89" x2="87.89" y1="1793.30" y2="1803.60" class="ax"/>
<text transform="translate(87.89,1831.70) scale(1,1.02)" text-anchor="middle" class="tl">-4</text>
<line x1="234.87" x2="234.87" y1="1793.30" y2="1803.60" class="ax"/>
<text transform="translate(234.87,1831.70) scale(1,1.02)" text-anchor="middle" class="tl">-2</text>
<line x1="381.85" x2="381.85" y1="1793.30" y2="1803.60" class="ax"/>
<text transform="translate(381.85,1831.70) scale(1,1.02)" text-anchor="middle" class="tl">0</text>
<line x1="528.83" x2="528.83" y1="1793.30" y2="1803.60" class="ax"/>
<text transform="translate(528.83,1831.70) scale(1,1.02)" text-anchor="middle" class="tl">2</text>
<line x1="675.81" x2="675.81" y1="1793.30" y2="1803.60" class="ax"/>
<text transform="translate(675.81,1831.70) scale(1,1.02)" text-anchor="middle" class="tl">4</text>
<text transform="translate(381.2,1873.90) scale(1,1.02)" text-anchor="middle" class="tl">Trait-level Insomnia</text>
<text transform="translate(13.1,1629.00) rotate(-90)" text-anchor="middle" class="tl">Probability</text>
<line x1="95.7" x2="127.6" y1="1484.00" y2="1484.00" stroke="#000000" class="lg"/>
<text transform="translate(142.5,1490.20)" class="tl lt"><tspan class="one" dx="1.1" dy="0.4">1</tspan></text>
<line x1="95.7" x2="127.6" y1="1504.90" y2="1504.90" stroke="#DF536B" class="lg"/>
<text transform="translate(142.5,1511.10)" class="tl lt">2</text>
<line x1="95.7" x2="127.6" y1="1525.80" y2="1525.80" stroke="#61D04F" class="lg"/>
<text transform="translate(142.5,1532.00)" class="tl lt">3</text>
<line x1="95.7" x2="127.6" y1="1546.70" y2="1546.70" stroke="#2297E6" class="lg"/>
<text transform="translate(142.5,1552.90)" class="tl lt">4</text>
<line x1="95.7" x2="127.6" y1="1567.60" y2="1567.60" stroke="#28E2E5" class="lg"/>
<text transform="translate(142.5,1573.80)" class="tl lt">5</text>
</g>
</svg>
</body></html>
